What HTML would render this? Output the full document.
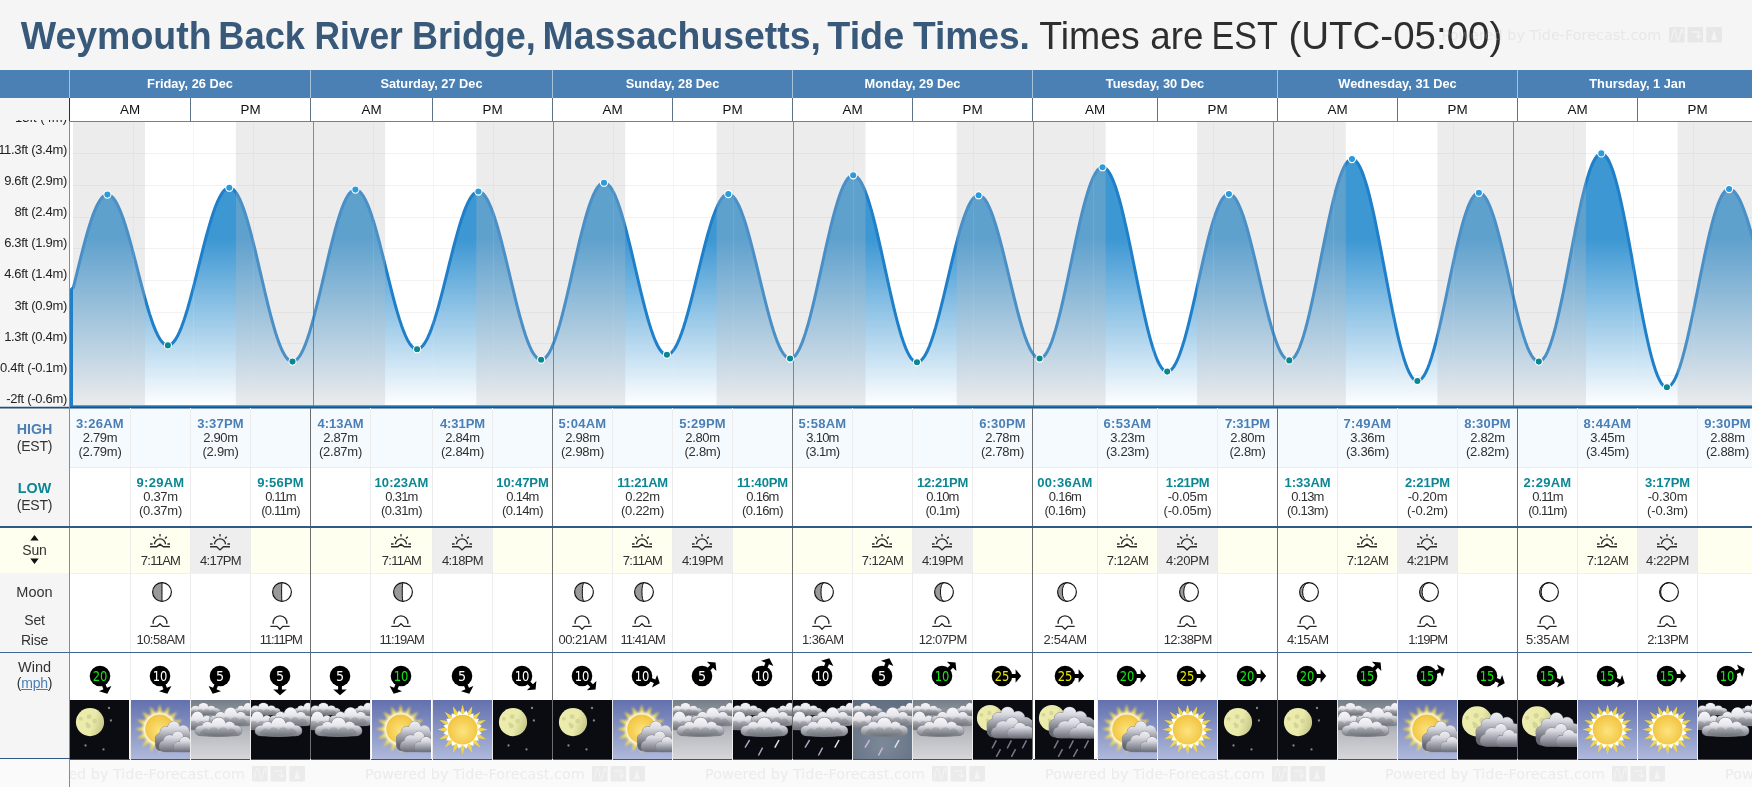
<!DOCTYPE html><html lang="en"><head><meta charset="utf-8"><title>Weymouth Back River Bridge Tide Times</title><style>
html,body{margin:0;padding:0;}
body{width:1752px;height:787px;overflow:hidden;background:#f5f5f5;font-family:"Liberation Sans",sans-serif;position:relative;color:#333;}
.abs{position:absolute;}
.t{position:absolute;white-space:nowrap;text-align:center;transform:translateX(-50%);}
.title{position:absolute;left:20px;top:13px;font-size:38.6px;line-height:44px;white-space:nowrap;color:#2f2f2f;}
.title b{color:#38597a;font-weight:700;}
.hd{position:absolute;top:70px;height:28px;left:0;width:1752px;background:#4a80b4;}
.dn{color:#fff;font-weight:700;font-size:12.8px;line-height:28px;top:70px;}
.ap{font-size:13.4px;line-height:23px;top:98px;color:#111;}
.vl{position:absolute;width:1px;}
.hl{position:absolute;height:1px;}
.hi{color:#4a7fb5;font-weight:700;font-size:13px;line-height:15px;}
.lo{color:#0b8793;font-weight:700;font-size:13px;line-height:15px;}
.v{color:#303030;font-size:13px;line-height:14px;}
.lab{color:#333;font-size:14px;line-height:17px;letter-spacing:-0.2px;}
.wm{position:absolute;font-family:"DejaVu Sans",sans-serif;font-size:14.4px;color:#e4e4e4;white-space:nowrap;line-height:20px;}
svg{position:absolute;overflow:visible;}
#root{position:absolute;left:0;top:0;width:1752px;height:787px;overflow:hidden;will-change:transform;}
</style></head><body><div id="root">
<svg style="left:0;top:0" width="1752" height="70" viewBox="0 0 1752 70" font-family="Liberation Sans, sans-serif"><text x="20.70" y="48.80" font-size="38.80" font-weight="700" fill="#38597a" textLength="190.96" lengthAdjust="spacingAndGlyphs">Weymouth</text><text x="218.34" y="48.80" font-size="38.80" font-weight="700" fill="#38597a" textLength="86.68" lengthAdjust="spacingAndGlyphs">Back</text><text x="314.40" y="48.80" font-size="38.80" font-weight="700" fill="#38597a" textLength="88.48" lengthAdjust="spacingAndGlyphs">River</text><text x="411.96" y="48.80" font-size="38.80" font-weight="700" fill="#38597a" textLength="123.85" lengthAdjust="spacingAndGlyphs">Bridge,</text><text x="542.57" y="48.80" font-size="38.80" font-weight="700" fill="#38597a" textLength="278.27" lengthAdjust="spacingAndGlyphs">Massachusetts,</text><text x="827.32" y="48.80" font-size="38.80" font-weight="700" fill="#38597a" textLength="76.80" lengthAdjust="spacingAndGlyphs">Tide</text><text x="912.93" y="48.80" font-size="38.80" font-weight="700" fill="#38597a" textLength="116.97" lengthAdjust="spacingAndGlyphs">Times.</text><text x="1039.25" y="48.80" font-size="38.80" font-weight="400" fill="#2e2e2e" textLength="100.36" lengthAdjust="spacingAndGlyphs">Times</text><text x="1150.23" y="48.80" font-size="38.80" font-weight="400" fill="#2e2e2e" textLength="53.14" lengthAdjust="spacingAndGlyphs">are</text><text x="1211.57" y="48.80" font-size="38.80" font-weight="400" fill="#2e2e2e" textLength="66.41" lengthAdjust="spacingAndGlyphs">EST</text><text x="1288.39" y="48.80" font-size="38.80" font-weight="400" fill="#2e2e2e" textLength="213.99" lengthAdjust="spacingAndGlyphs">(UTC-05:00)</text></svg>
<div class="wm" style="left:1441.5px;top:24.6px;color:rgba(195,195,195,0.26)">Powered by Tide-Forecast.com</div><svg class="abs" style="left:1668.5px;top:26.8px" width="54" height="16" viewBox="0 0 54 16"><g fill="rgba(195,195,195,0.26)"><rect x="0" y="0" width="15.6" height="15.4" rx="1"/><rect x="18.5" y="0" width="15.6" height="15.4" rx="1"/><rect x="37.3" y="0" width="15.6" height="15.4" rx="1"/></g><g fill="none" stroke="#f6f6f6" stroke-opacity="0.8" stroke-width="1.2"><path d="M1.5 13.5C3.5 13.5 3.3 2 5.3 2S7.2 13.5 9.2 13.5S11 2 13 2L14.3 6"/><path d="M22 5h7.5v6m-2.6-2.4l2.6 2.6l2.6-2.6"/></g><path d="M42.3 13L45.1 2.5L47.9 13Z" fill="#f6f6f6" fill-opacity="0.8"/></svg>
<div class="hd"></div>
<div class="vl" style="left:69px;top:70px;height:28px;background:#a8c2dc"></div>
<div class="vl" style="left:310px;top:70px;height:28px;background:#a8c2dc"></div>
<div class="vl" style="left:552px;top:70px;height:28px;background:#a8c2dc"></div>
<div class="vl" style="left:792px;top:70px;height:28px;background:#a8c2dc"></div>
<div class="vl" style="left:1032px;top:70px;height:28px;background:#a8c2dc"></div>
<div class="vl" style="left:1277px;top:70px;height:28px;background:#a8c2dc"></div>
<div class="vl" style="left:1517px;top:70px;height:28px;background:#a8c2dc"></div>
<div class="t dn" style="left:190.0px">Friday, 26 Dec</div>
<div class="t dn" style="left:431.5px">Saturday, 27 Dec</div>
<div class="t dn" style="left:672.5px">Sunday, 28 Dec</div>
<div class="t dn" style="left:912.5px">Monday, 29 Dec</div>
<div class="t dn" style="left:1155.0px">Tuesday, 30 Dec</div>
<div class="t dn" style="left:1397.5px">Wednesday, 31 Dec</div>
<div class="t dn" style="left:1637.5px">Thursday, 1 Jan</div>
<div class="abs" style="left:70px;top:98px;width:1682px;height:23px;background:#fff"></div>
<div class="t ap" style="left:130.0px">AM</div>
<div class="t ap" style="left:250.5px">PM</div>
<div class="vl" style="left:190px;top:98px;height:23px;background:#5f7388"></div>
<div class="vl" style="left:69px;top:98px;height:23px;background:#5f7388"></div>
<div class="t ap" style="left:371.5px">AM</div>
<div class="t ap" style="left:492.5px">PM</div>
<div class="vl" style="left:432px;top:98px;height:23px;background:#5f7388"></div>
<div class="vl" style="left:310px;top:98px;height:23px;background:#5f7388"></div>
<div class="t ap" style="left:612.5px">AM</div>
<div class="t ap" style="left:732.5px">PM</div>
<div class="vl" style="left:672px;top:98px;height:23px;background:#5f7388"></div>
<div class="vl" style="left:552px;top:98px;height:23px;background:#5f7388"></div>
<div class="t ap" style="left:852.5px">AM</div>
<div class="t ap" style="left:972.5px">PM</div>
<div class="vl" style="left:912px;top:98px;height:23px;background:#5f7388"></div>
<div class="vl" style="left:792px;top:98px;height:23px;background:#5f7388"></div>
<div class="t ap" style="left:1095.0px">AM</div>
<div class="t ap" style="left:1217.5px">PM</div>
<div class="vl" style="left:1157px;top:98px;height:23px;background:#5f7388"></div>
<div class="vl" style="left:1032px;top:98px;height:23px;background:#5f7388"></div>
<div class="t ap" style="left:1337.5px">AM</div>
<div class="t ap" style="left:1457.5px">PM</div>
<div class="vl" style="left:1397px;top:98px;height:23px;background:#5f7388"></div>
<div class="vl" style="left:1277px;top:98px;height:23px;background:#5f7388"></div>
<div class="t ap" style="left:1577.5px">AM</div>
<div class="t ap" style="left:1697.5px">PM</div>
<div class="vl" style="left:1637px;top:98px;height:23px;background:#5f7388"></div>
<div class="vl" style="left:1517px;top:98px;height:23px;background:#5f7388"></div>
<div class="hl" style="left:70px;top:121px;width:1682px;background:#7e7e7e"></div>
<svg class="abs" style="left:0;top:0" width="1752" height="420" viewBox="0 0 1752 420"><defs><linearGradient id="tg" gradientUnits="userSpaceOnUse" x1="0" y1="121.5" x2="0" y2="406"><stop offset="0" stop-color="#3c97d3"/><stop offset="0.41" stop-color="#3c97d3"/><stop offset="1" stop-color="#ffffff" stop-opacity="1"/></linearGradient><clipPath id="cc"><rect x="70" y="122" width="1682" height="287"/></clipPath></defs><rect x="70" y="122" width="1682" height="285" fill="#fff"/><g clip-path="url(#cc)"><path d="M73 153.5H1752" stroke="#f2f2f2" stroke-width="1"/><path d="M73 185.5H1752" stroke="#f2f2f2" stroke-width="1"/><path d="M73 217.5H1752" stroke="#f2f2f2" stroke-width="1"/><path d="M73 248.5H1752" stroke="#f2f2f2" stroke-width="1"/><path d="M73 280.5H1752" stroke="#f2f2f2" stroke-width="1"/><path d="M73 312.5H1752" stroke="#f2f2f2" stroke-width="1"/><path d="M73 343.5H1752" stroke="#f2f2f2" stroke-width="1"/><path d="M73 375.5H1752" stroke="#f2f2f2" stroke-width="1"/><path d="M133.5 122V405" stroke="#f3f3f3" stroke-width="1"/><path d="M193.5 122V405" stroke="#f3f3f3" stroke-width="1"/><path d="M253.5 122V405" stroke="#f3f3f3" stroke-width="1"/><path d="M373.5 122V405" stroke="#f3f3f3" stroke-width="1"/><path d="M433.5 122V405" stroke="#f3f3f3" stroke-width="1"/><path d="M493.5 122V405" stroke="#f3f3f3" stroke-width="1"/><path d="M613.5 122V405" stroke="#f3f3f3" stroke-width="1"/><path d="M673.5 122V405" stroke="#f3f3f3" stroke-width="1"/><path d="M733.5 122V405" stroke="#f3f3f3" stroke-width="1"/><path d="M853.5 122V405" stroke="#f3f3f3" stroke-width="1"/><path d="M913.5 122V405" stroke="#f3f3f3" stroke-width="1"/><path d="M973.5 122V405" stroke="#f3f3f3" stroke-width="1"/><path d="M1093.5 122V405" stroke="#f3f3f3" stroke-width="1"/><path d="M1153.5 122V405" stroke="#f3f3f3" stroke-width="1"/><path d="M1213.5 122V405" stroke="#f3f3f3" stroke-width="1"/><path d="M1333.5 122V405" stroke="#f3f3f3" stroke-width="1"/><path d="M1393.5 122V405" stroke="#f3f3f3" stroke-width="1"/><path d="M1453.5 122V405" stroke="#f3f3f3" stroke-width="1"/><path d="M1573.5 122V405" stroke="#f3f3f3" stroke-width="1"/><path d="M1633.5 122V405" stroke="#f3f3f3" stroke-width="1"/><path d="M1693.5 122V405" stroke="#f3f3f3" stroke-width="1"/><path d="M71.5 406.0 L71.5 289.2 73.5 287.2 75.5 278.9 77.5 270.7 79.5 262.5 81.5 254.5 83.5 246.7 85.5 239.2 87.5 232.0 89.5 225.4 91.5 219.2 93.5 213.6 95.5 208.7 97.5 204.4 99.5 200.9 101.5 198.1 103.5 196.1 105.5 194.9 107.5 194.6 109.5 195.0 111.5 196.3 113.5 198.4 115.5 201.2 117.5 204.8 119.5 209.1 121.5 214.0 123.5 219.5 125.5 225.6 127.5 232.2 129.5 239.1 131.5 246.4 133.5 254.0 135.5 261.7 137.5 269.5 139.5 277.3 141.5 285.1 143.5 292.6 145.5 300.0 147.5 307.0 149.5 313.6 151.5 319.7 153.5 325.4 155.5 330.4 157.5 334.7 159.5 338.4 161.5 341.3 163.5 343.5 165.5 344.9 167.5 345.4 169.5 345.2 171.5 344.1 173.5 342.2 175.5 339.5 177.5 336.1 179.5 331.9 181.5 327.1 183.5 321.6 185.5 315.5 187.5 309.0 189.5 301.9 191.5 294.5 193.5 286.9 195.5 279.0 197.5 270.9 199.5 262.9 201.5 254.8 203.5 246.9 205.5 239.2 207.5 231.8 209.5 224.8 211.5 218.2 213.5 212.0 215.5 206.5 217.5 201.6 219.5 197.4 221.5 193.9 223.5 191.1 225.5 189.2 227.5 188.0 229.5 187.7 231.5 188.3 233.5 189.6 235.5 191.9 237.5 194.9 239.5 198.7 241.5 203.3 243.5 208.6 245.5 214.5 247.5 221.1 249.5 228.1 251.5 235.6 253.5 243.5 255.5 251.7 257.5 260.2 259.5 268.8 261.5 277.4 263.5 286.0 265.5 294.5 267.5 302.8 269.5 310.8 271.5 318.5 273.5 325.7 275.5 332.5 277.5 338.6 279.5 344.2 281.5 349.0 283.5 353.1 285.5 356.5 287.5 359.0 289.5 360.7 291.5 361.5 293.5 361.5 295.5 360.7 297.5 358.9 299.5 356.4 301.5 353.0 303.5 348.9 305.5 344.1 307.5 338.5 309.5 332.4 311.5 325.6 313.5 318.4 315.5 310.7 317.5 302.7 319.5 294.4 321.5 286.0 323.5 277.4 325.5 268.8 327.5 260.3 329.5 251.9 331.5 243.8 333.5 236.0 335.5 228.6 337.5 221.6 339.5 215.2 341.5 209.4 343.5 204.2 345.5 199.8 347.5 196.1 349.5 193.2 351.5 191.2 353.5 190.0 355.5 189.6 357.5 190.1 359.5 191.4 361.5 193.5 363.5 196.4 365.5 200.0 367.5 204.4 369.5 209.4 371.5 215.1 373.5 221.3 375.5 228.0 377.5 235.2 379.5 242.7 381.5 250.5 383.5 258.4 385.5 266.5 387.5 274.6 389.5 282.7 391.5 290.6 393.5 298.3 395.5 305.8 397.5 312.8 399.5 319.4 401.5 325.4 403.5 330.9 405.5 335.8 407.5 339.9 409.5 343.3 411.5 346.0 413.5 347.9 415.5 348.9 417.5 349.2 419.5 348.6 421.5 347.1 423.5 344.9 425.5 341.9 427.5 338.2 429.5 333.7 431.5 328.6 433.5 322.9 435.5 316.6 437.5 309.8 439.5 302.6 441.5 295.1 443.5 287.3 445.5 279.4 447.5 271.3 449.5 263.2 451.5 255.3 453.5 247.4 455.5 239.8 457.5 232.6 459.5 225.7 461.5 219.3 463.5 213.4 465.5 208.1 467.5 203.5 469.5 199.6 471.5 196.4 473.5 194.0 475.5 192.4 477.5 191.6 479.5 191.6 481.5 192.5 483.5 194.2 485.5 196.7 487.5 200.0 489.5 204.1 491.5 208.9 493.5 214.3 495.5 220.4 497.5 227.0 499.5 234.2 501.5 241.7 503.5 249.6 505.5 257.7 507.5 266.0 509.5 274.4 511.5 282.8 513.5 291.2 515.5 299.4 517.5 307.3 519.5 315.0 521.5 322.2 523.5 329.0 525.5 335.2 527.5 340.9 529.5 345.9 531.5 350.2 533.5 353.7 535.5 356.4 537.5 358.4 539.5 359.5 541.5 359.8 543.5 359.2 545.5 357.7 547.5 355.3 549.5 352.2 551.5 348.2 553.5 343.4 555.5 337.9 557.5 331.8 559.5 325.1 561.5 317.8 563.5 310.0 565.5 301.9 567.5 293.5 569.5 284.8 571.5 276.0 573.5 267.2 575.5 258.4 577.5 249.7 579.5 241.2 581.5 233.1 583.5 225.3 585.5 218.0 587.5 211.2 589.5 205.0 591.5 199.5 593.5 194.7 595.5 190.6 597.5 187.4 599.5 185.0 601.5 183.4 603.5 182.8 605.5 183.0 607.5 184.0 609.5 186.0 611.5 188.7 613.5 192.2 615.5 196.5 617.5 201.5 619.5 207.2 621.5 213.5 623.5 220.4 625.5 227.7 627.5 235.5 629.5 243.6 631.5 251.9 633.5 260.4 635.5 269.0 637.5 277.6 639.5 286.1 641.5 294.4 643.5 302.4 645.5 310.2 647.5 317.5 649.5 324.3 651.5 330.6 653.5 336.3 655.5 341.2 657.5 345.5 659.5 349.0 661.5 351.7 663.5 353.6 665.5 354.6 667.5 354.7 669.5 354.1 671.5 352.6 673.5 350.2 675.5 347.1 677.5 343.2 679.5 338.6 681.5 333.3 683.5 327.4 685.5 321.0 687.5 314.0 689.5 306.7 691.5 299.0 693.5 291.0 695.5 282.9 697.5 274.7 699.5 266.5 701.5 258.3 703.5 250.3 705.5 242.6 707.5 235.2 709.5 228.3 711.5 221.8 713.5 215.8 715.5 210.5 717.5 205.8 719.5 201.9 721.5 198.7 723.5 196.3 725.5 194.8 727.5 194.0 729.5 194.1 731.5 195.1 733.5 196.9 735.5 199.5 737.5 202.9 739.5 207.0 741.5 211.9 743.5 217.4 745.5 223.5 747.5 230.2 749.5 237.4 751.5 244.9 753.5 252.8 755.5 260.9 757.5 269.2 759.5 277.5 761.5 285.8 763.5 294.1 765.5 302.1 767.5 309.9 769.5 317.4 771.5 324.4 773.5 330.9 775.5 336.8 777.5 342.2 779.5 346.8 781.5 350.7 783.5 353.9 785.5 356.3 787.5 357.8 789.5 358.5 791.5 358.3 793.5 357.2 795.5 355.3 797.5 352.4 799.5 348.7 801.5 344.2 803.5 338.9 805.5 332.9 807.5 326.3 809.5 319.1 811.5 311.3 813.5 303.1 815.5 294.6 817.5 285.7 819.5 276.7 821.5 267.6 823.5 258.5 825.5 249.4 827.5 240.6 829.5 232.0 831.5 223.7 833.5 215.9 835.5 208.6 837.5 201.8 839.5 195.7 841.5 190.3 843.5 185.7 845.5 181.9 847.5 178.9 849.5 176.8 851.5 175.6 853.5 175.3 855.5 175.9 857.5 177.4 859.5 179.7 861.5 183.0 863.5 187.1 865.5 191.9 867.5 197.5 869.5 203.8 871.5 210.7 873.5 218.2 875.5 226.2 877.5 234.6 879.5 243.3 881.5 252.2 883.5 261.4 885.5 270.6 887.5 279.7 889.5 288.8 891.5 297.7 893.5 306.3 895.5 314.5 897.5 322.3 899.5 329.5 901.5 336.2 903.5 342.3 905.5 347.6 907.5 352.1 909.5 355.9 911.5 358.8 913.5 360.8 915.5 362.0 917.5 362.2 919.5 361.6 921.5 360.1 923.5 357.8 925.5 354.6 927.5 350.7 929.5 346.0 931.5 340.5 933.5 334.5 935.5 327.9 937.5 320.7 939.5 313.2 941.5 305.2 943.5 297.0 945.5 288.6 947.5 280.1 949.5 271.6 951.5 263.1 953.5 254.8 955.5 246.8 957.5 239.1 959.5 231.8 961.5 225.0 963.5 218.8 965.5 213.2 967.5 208.2 969.5 204.0 971.5 200.6 973.5 198.0 975.5 196.2 977.5 195.3 979.5 195.3 981.5 196.1 983.5 197.8 985.5 200.3 987.5 203.6 989.5 207.7 991.5 212.6 993.5 218.1 995.5 224.2 997.5 230.9 999.5 238.1 1001.5 245.7 1003.5 253.6 1005.5 261.8 1007.5 270.1 1009.5 278.5 1011.5 286.9 1013.5 295.2 1015.5 303.2 1017.5 311.1 1019.5 318.5 1021.5 325.5 1023.5 332.0 1025.5 337.9 1027.5 343.1 1029.5 347.7 1031.5 351.5 1033.5 354.5 1035.5 356.7 1037.5 358.0 1039.5 358.5 1041.5 358.1 1043.5 356.7 1045.5 354.4 1047.5 351.2 1049.5 347.1 1051.5 342.2 1053.5 336.4 1055.5 330.0 1057.5 322.8 1059.5 315.1 1061.5 306.9 1063.5 298.2 1065.5 289.1 1067.5 279.8 1069.5 270.3 1071.5 260.8 1073.5 251.2 1075.5 241.8 1077.5 232.6 1079.5 223.7 1081.5 215.2 1083.5 207.1 1085.5 199.7 1087.5 192.8 1089.5 186.6 1091.5 181.3 1093.5 176.7 1095.5 173.0 1097.5 170.1 1099.5 168.2 1101.5 167.3 1103.5 167.3 1105.5 168.2 1107.5 170.1 1109.5 173.0 1111.5 176.8 1113.5 181.4 1115.5 186.8 1117.5 193.1 1119.5 200.0 1121.5 207.6 1123.5 215.8 1125.5 224.5 1127.5 233.6 1129.5 243.1 1131.5 252.8 1133.5 262.7 1135.5 272.6 1137.5 282.5 1139.5 292.2 1141.5 301.8 1143.5 311.0 1145.5 319.9 1147.5 328.3 1149.5 336.1 1151.5 343.3 1153.5 349.8 1155.5 355.5 1157.5 360.5 1159.5 364.5 1161.5 367.7 1163.5 370.0 1165.5 371.3 1167.5 371.6 1169.5 371.0 1171.5 369.5 1173.5 367.1 1175.5 363.8 1177.5 359.7 1179.5 354.8 1181.5 349.1 1183.5 342.8 1185.5 335.8 1187.5 328.3 1189.5 320.3 1191.5 311.9 1193.5 303.2 1195.5 294.4 1197.5 285.3 1199.5 276.3 1201.5 267.3 1203.5 258.5 1205.5 250.0 1207.5 241.7 1209.5 233.9 1211.5 226.7 1213.5 219.9 1215.5 213.9 1217.5 208.5 1219.5 204.0 1221.5 200.2 1223.5 197.3 1225.5 195.3 1227.5 194.2 1229.5 194.0 1231.5 194.7 1233.5 196.3 1235.5 198.8 1237.5 202.1 1239.5 206.3 1241.5 211.2 1243.5 216.8 1245.5 223.1 1247.5 229.9 1249.5 237.3 1251.5 245.1 1253.5 253.3 1255.5 261.7 1257.5 270.2 1259.5 278.9 1261.5 287.5 1263.5 296.0 1265.5 304.4 1267.5 312.4 1269.5 320.0 1271.5 327.2 1273.5 333.8 1275.5 339.9 1277.5 345.2 1279.5 349.8 1281.5 353.7 1283.5 356.6 1285.5 358.8 1287.5 360.0 1289.5 360.4 1291.5 359.8 1293.5 358.2 1295.5 355.6 1297.5 352.0 1299.5 347.5 1301.5 342.1 1303.5 335.9 1305.5 329.0 1307.5 321.3 1309.5 313.1 1311.5 304.2 1313.5 295.0 1315.5 285.4 1317.5 275.5 1319.5 265.5 1321.5 255.4 1323.5 245.4 1325.5 235.5 1327.5 225.8 1329.5 216.5 1331.5 207.6 1333.5 199.3 1335.5 191.5 1337.5 184.5 1339.5 178.1 1341.5 172.7 1343.5 168.0 1345.5 164.3 1347.5 161.6 1349.5 159.8 1351.5 159.1 1353.5 159.3 1355.5 160.6 1357.5 162.9 1359.5 166.2 1361.5 170.4 1363.5 175.6 1365.5 181.6 1367.5 188.4 1369.5 196.0 1371.5 204.3 1373.5 213.2 1375.5 222.6 1377.5 232.5 1379.5 242.6 1381.5 253.1 1383.5 263.7 1385.5 274.4 1387.5 285.0 1389.5 295.5 1391.5 305.7 1393.5 315.6 1395.5 325.1 1397.5 334.1 1399.5 342.5 1401.5 350.2 1403.5 357.2 1405.5 363.4 1407.5 368.7 1409.5 373.1 1411.5 376.6 1413.5 379.1 1415.5 380.5 1417.5 381.0 1419.5 380.4 1421.5 378.9 1423.5 376.4 1425.5 373.0 1427.5 368.7 1429.5 363.5 1431.5 357.5 1433.5 350.8 1435.5 343.5 1437.5 335.5 1439.5 327.0 1441.5 318.2 1443.5 308.9 1445.5 299.5 1447.5 289.9 1449.5 280.3 1451.5 270.8 1453.5 261.4 1455.5 252.3 1457.5 243.6 1459.5 235.3 1461.5 227.5 1463.5 220.4 1465.5 213.9 1467.5 208.2 1469.5 203.4 1471.5 199.4 1473.5 196.3 1475.5 194.1 1477.5 193.0 1479.5 192.8 1481.5 193.5 1483.5 195.1 1485.5 197.7 1487.5 201.1 1489.5 205.4 1491.5 210.5 1493.5 216.3 1495.5 222.7 1497.5 229.8 1499.5 237.4 1501.5 245.4 1503.5 253.8 1505.5 262.4 1507.5 271.2 1509.5 280.1 1511.5 288.9 1513.5 297.6 1515.5 306.1 1517.5 314.2 1519.5 322.0 1521.5 329.2 1523.5 335.9 1525.5 341.9 1527.5 347.3 1529.5 351.8 1531.5 355.5 1533.5 358.4 1535.5 360.4 1537.5 361.5 1539.5 361.6 1541.5 360.7 1543.5 358.7 1545.5 355.8 1547.5 351.8 1549.5 346.9 1551.5 341.1 1553.5 334.5 1555.5 327.1 1557.5 318.9 1559.5 310.2 1561.5 300.9 1563.5 291.2 1565.5 281.2 1567.5 270.9 1569.5 260.4 1571.5 250.0 1573.5 239.6 1575.5 229.4 1577.5 219.5 1579.5 210.0 1581.5 200.9 1583.5 192.5 1585.5 184.6 1587.5 177.6 1589.5 171.3 1591.5 165.9 1593.5 161.4 1595.5 157.9 1597.5 155.4 1599.5 153.9 1601.5 153.4 1603.5 154.1 1605.5 155.8 1607.5 158.5 1609.5 162.3 1611.5 167.1 1613.5 172.8 1615.5 179.4 1617.5 186.8 1619.5 195.1 1621.5 204.0 1623.5 213.5 1625.5 223.5 1627.5 234.0 1629.5 244.8 1631.5 255.8 1633.5 267.0 1635.5 278.2 1637.5 289.3 1639.5 300.3 1641.5 310.9 1643.5 321.2 1645.5 331.1 1647.5 340.3 1649.5 349.0 1651.5 356.9 1653.5 364.0 1655.5 370.3 1657.5 375.6 1659.5 380.0 1661.5 383.4 1663.5 385.7 1665.5 386.9 1667.5 387.2 1669.5 386.3 1671.5 384.5 1673.5 381.7 1675.5 377.9 1677.5 373.3 1679.5 367.7 1681.5 361.4 1683.5 354.2 1685.5 346.5 1687.5 338.1 1689.5 329.2 1691.5 319.9 1693.5 310.3 1695.5 300.4 1697.5 290.5 1699.5 280.4 1701.5 270.5 1703.5 260.8 1705.5 251.3 1707.5 242.2 1709.5 233.6 1711.5 225.5 1713.5 218.1 1715.5 211.4 1717.5 205.4 1719.5 200.3 1721.5 196.1 1723.5 192.9 1725.5 190.6 1727.5 189.3 1729.5 189.0 1731.5 189.6 1733.5 190.9 1735.5 193.0 1737.5 195.9 1739.5 199.5 1741.5 203.7 1743.5 208.7 1745.5 214.2 1747.5 220.3 1749.5 226.9 1751.5 234.0 1753.5 241.4 1755.5 249.1 L1755.5 406.0 Z" fill="url(#tg)"/><path d="M71.5 406.0 L71.5 289.2 73.5 287.2 75.5 278.9 77.5 270.7 79.5 262.5 81.5 254.5 83.5 246.7 85.5 239.2 87.5 232.0 89.5 225.4 91.5 219.2 93.5 213.6 95.5 208.7 97.5 204.4 99.5 200.9 101.5 198.1 103.5 196.1 105.5 194.9 107.5 194.6 109.5 195.0 111.5 196.3 113.5 198.4 115.5 201.2 117.5 204.8 119.5 209.1 121.5 214.0 123.5 219.5 125.5 225.6 127.5 232.2 129.5 239.1 131.5 246.4 133.5 254.0 135.5 261.7 137.5 269.5 139.5 277.3 141.5 285.1 143.5 292.6 145.5 300.0 147.5 307.0 149.5 313.6 151.5 319.7 153.5 325.4 155.5 330.4 157.5 334.7 159.5 338.4 161.5 341.3 163.5 343.5 165.5 344.9 167.5 345.4 169.5 345.2 171.5 344.1 173.5 342.2 175.5 339.5 177.5 336.1 179.5 331.9 181.5 327.1 183.5 321.6 185.5 315.5 187.5 309.0 189.5 301.9 191.5 294.5 193.5 286.9 195.5 279.0 197.5 270.9 199.5 262.9 201.5 254.8 203.5 246.9 205.5 239.2 207.5 231.8 209.5 224.8 211.5 218.2 213.5 212.0 215.5 206.5 217.5 201.6 219.5 197.4 221.5 193.9 223.5 191.1 225.5 189.2 227.5 188.0 229.5 187.7 231.5 188.3 233.5 189.6 235.5 191.9 237.5 194.9 239.5 198.7 241.5 203.3 243.5 208.6 245.5 214.5 247.5 221.1 249.5 228.1 251.5 235.6 253.5 243.5 255.5 251.7 257.5 260.2 259.5 268.8 261.5 277.4 263.5 286.0 265.5 294.5 267.5 302.8 269.5 310.8 271.5 318.5 273.5 325.7 275.5 332.5 277.5 338.6 279.5 344.2 281.5 349.0 283.5 353.1 285.5 356.5 287.5 359.0 289.5 360.7 291.5 361.5 293.5 361.5 295.5 360.7 297.5 358.9 299.5 356.4 301.5 353.0 303.5 348.9 305.5 344.1 307.5 338.5 309.5 332.4 311.5 325.6 313.5 318.4 315.5 310.7 317.5 302.7 319.5 294.4 321.5 286.0 323.5 277.4 325.5 268.8 327.5 260.3 329.5 251.9 331.5 243.8 333.5 236.0 335.5 228.6 337.5 221.6 339.5 215.2 341.5 209.4 343.5 204.2 345.5 199.8 347.5 196.1 349.5 193.2 351.5 191.2 353.5 190.0 355.5 189.6 357.5 190.1 359.5 191.4 361.5 193.5 363.5 196.4 365.5 200.0 367.5 204.4 369.5 209.4 371.5 215.1 373.5 221.3 375.5 228.0 377.5 235.2 379.5 242.7 381.5 250.5 383.5 258.4 385.5 266.5 387.5 274.6 389.5 282.7 391.5 290.6 393.5 298.3 395.5 305.8 397.5 312.8 399.5 319.4 401.5 325.4 403.5 330.9 405.5 335.8 407.5 339.9 409.5 343.3 411.5 346.0 413.5 347.9 415.5 348.9 417.5 349.2 419.5 348.6 421.5 347.1 423.5 344.9 425.5 341.9 427.5 338.2 429.5 333.7 431.5 328.6 433.5 322.9 435.5 316.6 437.5 309.8 439.5 302.6 441.5 295.1 443.5 287.3 445.5 279.4 447.5 271.3 449.5 263.2 451.5 255.3 453.5 247.4 455.5 239.8 457.5 232.6 459.5 225.7 461.5 219.3 463.5 213.4 465.5 208.1 467.5 203.5 469.5 199.6 471.5 196.4 473.5 194.0 475.5 192.4 477.5 191.6 479.5 191.6 481.5 192.5 483.5 194.2 485.5 196.7 487.5 200.0 489.5 204.1 491.5 208.9 493.5 214.3 495.5 220.4 497.5 227.0 499.5 234.2 501.5 241.7 503.5 249.6 505.5 257.7 507.5 266.0 509.5 274.4 511.5 282.8 513.5 291.2 515.5 299.4 517.5 307.3 519.5 315.0 521.5 322.2 523.5 329.0 525.5 335.2 527.5 340.9 529.5 345.9 531.5 350.2 533.5 353.7 535.5 356.4 537.5 358.4 539.5 359.5 541.5 359.8 543.5 359.2 545.5 357.7 547.5 355.3 549.5 352.2 551.5 348.2 553.5 343.4 555.5 337.9 557.5 331.8 559.5 325.1 561.5 317.8 563.5 310.0 565.5 301.9 567.5 293.5 569.5 284.8 571.5 276.0 573.5 267.2 575.5 258.4 577.5 249.7 579.5 241.2 581.5 233.1 583.5 225.3 585.5 218.0 587.5 211.2 589.5 205.0 591.5 199.5 593.5 194.7 595.5 190.6 597.5 187.4 599.5 185.0 601.5 183.4 603.5 182.8 605.5 183.0 607.5 184.0 609.5 186.0 611.5 188.7 613.5 192.2 615.5 196.5 617.5 201.5 619.5 207.2 621.5 213.5 623.5 220.4 625.5 227.7 627.5 235.5 629.5 243.6 631.5 251.9 633.5 260.4 635.5 269.0 637.5 277.6 639.5 286.1 641.5 294.4 643.5 302.4 645.5 310.2 647.5 317.5 649.5 324.3 651.5 330.6 653.5 336.3 655.5 341.2 657.5 345.5 659.5 349.0 661.5 351.7 663.5 353.6 665.5 354.6 667.5 354.7 669.5 354.1 671.5 352.6 673.5 350.2 675.5 347.1 677.5 343.2 679.5 338.6 681.5 333.3 683.5 327.4 685.5 321.0 687.5 314.0 689.5 306.7 691.5 299.0 693.5 291.0 695.5 282.9 697.5 274.7 699.5 266.5 701.5 258.3 703.5 250.3 705.5 242.6 707.5 235.2 709.5 228.3 711.5 221.8 713.5 215.8 715.5 210.5 717.5 205.8 719.5 201.9 721.5 198.7 723.5 196.3 725.5 194.8 727.5 194.0 729.5 194.1 731.5 195.1 733.5 196.9 735.5 199.5 737.5 202.9 739.5 207.0 741.5 211.9 743.5 217.4 745.5 223.5 747.5 230.2 749.5 237.4 751.5 244.9 753.5 252.8 755.5 260.9 757.5 269.2 759.5 277.5 761.5 285.8 763.5 294.1 765.5 302.1 767.5 309.9 769.5 317.4 771.5 324.4 773.5 330.9 775.5 336.8 777.5 342.2 779.5 346.8 781.5 350.7 783.5 353.9 785.5 356.3 787.5 357.8 789.5 358.5 791.5 358.3 793.5 357.2 795.5 355.3 797.5 352.4 799.5 348.7 801.5 344.2 803.5 338.9 805.5 332.9 807.5 326.3 809.5 319.1 811.5 311.3 813.5 303.1 815.5 294.6 817.5 285.7 819.5 276.7 821.5 267.6 823.5 258.5 825.5 249.4 827.5 240.6 829.5 232.0 831.5 223.7 833.5 215.9 835.5 208.6 837.5 201.8 839.5 195.7 841.5 190.3 843.5 185.7 845.5 181.9 847.5 178.9 849.5 176.8 851.5 175.6 853.5 175.3 855.5 175.9 857.5 177.4 859.5 179.7 861.5 183.0 863.5 187.1 865.5 191.9 867.5 197.5 869.5 203.8 871.5 210.7 873.5 218.2 875.5 226.2 877.5 234.6 879.5 243.3 881.5 252.2 883.5 261.4 885.5 270.6 887.5 279.7 889.5 288.8 891.5 297.7 893.5 306.3 895.5 314.5 897.5 322.3 899.5 329.5 901.5 336.2 903.5 342.3 905.5 347.6 907.5 352.1 909.5 355.9 911.5 358.8 913.5 360.8 915.5 362.0 917.5 362.2 919.5 361.6 921.5 360.1 923.5 357.8 925.5 354.6 927.5 350.7 929.5 346.0 931.5 340.5 933.5 334.5 935.5 327.9 937.5 320.7 939.5 313.2 941.5 305.2 943.5 297.0 945.5 288.6 947.5 280.1 949.5 271.6 951.5 263.1 953.5 254.8 955.5 246.8 957.5 239.1 959.5 231.8 961.5 225.0 963.5 218.8 965.5 213.2 967.5 208.2 969.5 204.0 971.5 200.6 973.5 198.0 975.5 196.2 977.5 195.3 979.5 195.3 981.5 196.1 983.5 197.8 985.5 200.3 987.5 203.6 989.5 207.7 991.5 212.6 993.5 218.1 995.5 224.2 997.5 230.9 999.5 238.1 1001.5 245.7 1003.5 253.6 1005.5 261.8 1007.5 270.1 1009.5 278.5 1011.5 286.9 1013.5 295.2 1015.5 303.2 1017.5 311.1 1019.5 318.5 1021.5 325.5 1023.5 332.0 1025.5 337.9 1027.5 343.1 1029.5 347.7 1031.5 351.5 1033.5 354.5 1035.5 356.7 1037.5 358.0 1039.5 358.5 1041.5 358.1 1043.5 356.7 1045.5 354.4 1047.5 351.2 1049.5 347.1 1051.5 342.2 1053.5 336.4 1055.5 330.0 1057.5 322.8 1059.5 315.1 1061.5 306.9 1063.5 298.2 1065.5 289.1 1067.5 279.8 1069.5 270.3 1071.5 260.8 1073.5 251.2 1075.5 241.8 1077.5 232.6 1079.5 223.7 1081.5 215.2 1083.5 207.1 1085.5 199.7 1087.5 192.8 1089.5 186.6 1091.5 181.3 1093.5 176.7 1095.5 173.0 1097.5 170.1 1099.5 168.2 1101.5 167.3 1103.5 167.3 1105.5 168.2 1107.5 170.1 1109.5 173.0 1111.5 176.8 1113.5 181.4 1115.5 186.8 1117.5 193.1 1119.5 200.0 1121.5 207.6 1123.5 215.8 1125.5 224.5 1127.5 233.6 1129.5 243.1 1131.5 252.8 1133.5 262.7 1135.5 272.6 1137.5 282.5 1139.5 292.2 1141.5 301.8 1143.5 311.0 1145.5 319.9 1147.5 328.3 1149.5 336.1 1151.5 343.3 1153.5 349.8 1155.5 355.5 1157.5 360.5 1159.5 364.5 1161.5 367.7 1163.5 370.0 1165.5 371.3 1167.5 371.6 1169.5 371.0 1171.5 369.5 1173.5 367.1 1175.5 363.8 1177.5 359.7 1179.5 354.8 1181.5 349.1 1183.5 342.8 1185.5 335.8 1187.5 328.3 1189.5 320.3 1191.5 311.9 1193.5 303.2 1195.5 294.4 1197.5 285.3 1199.5 276.3 1201.5 267.3 1203.5 258.5 1205.5 250.0 1207.5 241.7 1209.5 233.9 1211.5 226.7 1213.5 219.9 1215.5 213.9 1217.5 208.5 1219.5 204.0 1221.5 200.2 1223.5 197.3 1225.5 195.3 1227.5 194.2 1229.5 194.0 1231.5 194.7 1233.5 196.3 1235.5 198.8 1237.5 202.1 1239.5 206.3 1241.5 211.2 1243.5 216.8 1245.5 223.1 1247.5 229.9 1249.5 237.3 1251.5 245.1 1253.5 253.3 1255.5 261.7 1257.5 270.2 1259.5 278.9 1261.5 287.5 1263.5 296.0 1265.5 304.4 1267.5 312.4 1269.5 320.0 1271.5 327.2 1273.5 333.8 1275.5 339.9 1277.5 345.2 1279.5 349.8 1281.5 353.7 1283.5 356.6 1285.5 358.8 1287.5 360.0 1289.5 360.4 1291.5 359.8 1293.5 358.2 1295.5 355.6 1297.5 352.0 1299.5 347.5 1301.5 342.1 1303.5 335.9 1305.5 329.0 1307.5 321.3 1309.5 313.1 1311.5 304.2 1313.5 295.0 1315.5 285.4 1317.5 275.5 1319.5 265.5 1321.5 255.4 1323.5 245.4 1325.5 235.5 1327.5 225.8 1329.5 216.5 1331.5 207.6 1333.5 199.3 1335.5 191.5 1337.5 184.5 1339.5 178.1 1341.5 172.7 1343.5 168.0 1345.5 164.3 1347.5 161.6 1349.5 159.8 1351.5 159.1 1353.5 159.3 1355.5 160.6 1357.5 162.9 1359.5 166.2 1361.5 170.4 1363.5 175.6 1365.5 181.6 1367.5 188.4 1369.5 196.0 1371.5 204.3 1373.5 213.2 1375.5 222.6 1377.5 232.5 1379.5 242.6 1381.5 253.1 1383.5 263.7 1385.5 274.4 1387.5 285.0 1389.5 295.5 1391.5 305.7 1393.5 315.6 1395.5 325.1 1397.5 334.1 1399.5 342.5 1401.5 350.2 1403.5 357.2 1405.5 363.4 1407.5 368.7 1409.5 373.1 1411.5 376.6 1413.5 379.1 1415.5 380.5 1417.5 381.0 1419.5 380.4 1421.5 378.9 1423.5 376.4 1425.5 373.0 1427.5 368.7 1429.5 363.5 1431.5 357.5 1433.5 350.8 1435.5 343.5 1437.5 335.5 1439.5 327.0 1441.5 318.2 1443.5 308.9 1445.5 299.5 1447.5 289.9 1449.5 280.3 1451.5 270.8 1453.5 261.4 1455.5 252.3 1457.5 243.6 1459.5 235.3 1461.5 227.5 1463.5 220.4 1465.5 213.9 1467.5 208.2 1469.5 203.4 1471.5 199.4 1473.5 196.3 1475.5 194.1 1477.5 193.0 1479.5 192.8 1481.5 193.5 1483.5 195.1 1485.5 197.7 1487.5 201.1 1489.5 205.4 1491.5 210.5 1493.5 216.3 1495.5 222.7 1497.5 229.8 1499.5 237.4 1501.5 245.4 1503.5 253.8 1505.5 262.4 1507.5 271.2 1509.5 280.1 1511.5 288.9 1513.5 297.6 1515.5 306.1 1517.5 314.2 1519.5 322.0 1521.5 329.2 1523.5 335.9 1525.5 341.9 1527.5 347.3 1529.5 351.8 1531.5 355.5 1533.5 358.4 1535.5 360.4 1537.5 361.5 1539.5 361.6 1541.5 360.7 1543.5 358.7 1545.5 355.8 1547.5 351.8 1549.5 346.9 1551.5 341.1 1553.5 334.5 1555.5 327.1 1557.5 318.9 1559.5 310.2 1561.5 300.9 1563.5 291.2 1565.5 281.2 1567.5 270.9 1569.5 260.4 1571.5 250.0 1573.5 239.6 1575.5 229.4 1577.5 219.5 1579.5 210.0 1581.5 200.9 1583.5 192.5 1585.5 184.6 1587.5 177.6 1589.5 171.3 1591.5 165.9 1593.5 161.4 1595.5 157.9 1597.5 155.4 1599.5 153.9 1601.5 153.4 1603.5 154.1 1605.5 155.8 1607.5 158.5 1609.5 162.3 1611.5 167.1 1613.5 172.8 1615.5 179.4 1617.5 186.8 1619.5 195.1 1621.5 204.0 1623.5 213.5 1625.5 223.5 1627.5 234.0 1629.5 244.8 1631.5 255.8 1633.5 267.0 1635.5 278.2 1637.5 289.3 1639.5 300.3 1641.5 310.9 1643.5 321.2 1645.5 331.1 1647.5 340.3 1649.5 349.0 1651.5 356.9 1653.5 364.0 1655.5 370.3 1657.5 375.6 1659.5 380.0 1661.5 383.4 1663.5 385.7 1665.5 386.9 1667.5 387.2 1669.5 386.3 1671.5 384.5 1673.5 381.7 1675.5 377.9 1677.5 373.3 1679.5 367.7 1681.5 361.4 1683.5 354.2 1685.5 346.5 1687.5 338.1 1689.5 329.2 1691.5 319.9 1693.5 310.3 1695.5 300.4 1697.5 290.5 1699.5 280.4 1701.5 270.5 1703.5 260.8 1705.5 251.3 1707.5 242.2 1709.5 233.6 1711.5 225.5 1713.5 218.1 1715.5 211.4 1717.5 205.4 1719.5 200.3 1721.5 196.1 1723.5 192.9 1725.5 190.6 1727.5 189.3 1729.5 189.0 1731.5 189.6 1733.5 190.9 1735.5 193.0 1737.5 195.9 1739.5 199.5 1741.5 203.7 1743.5 208.7 1745.5 214.2 1747.5 220.3 1749.5 226.9 1751.5 234.0 1753.5 241.4 1755.5 249.1" fill="none" stroke="#1f7fc9" stroke-width="3" stroke-linejoin="round"/><path d="M133.5 122V405" stroke="#fff" stroke-opacity="0.1" stroke-width="1"/><path d="M193.5 122V405" stroke="#fff" stroke-opacity="0.1" stroke-width="1"/><path d="M253.5 122V405" stroke="#fff" stroke-opacity="0.1" stroke-width="1"/><path d="M373.5 122V405" stroke="#fff" stroke-opacity="0.1" stroke-width="1"/><path d="M433.5 122V405" stroke="#fff" stroke-opacity="0.1" stroke-width="1"/><path d="M493.5 122V405" stroke="#fff" stroke-opacity="0.1" stroke-width="1"/><path d="M613.5 122V405" stroke="#fff" stroke-opacity="0.1" stroke-width="1"/><path d="M673.5 122V405" stroke="#fff" stroke-opacity="0.1" stroke-width="1"/><path d="M733.5 122V405" stroke="#fff" stroke-opacity="0.1" stroke-width="1"/><path d="M853.5 122V405" stroke="#fff" stroke-opacity="0.1" stroke-width="1"/><path d="M913.5 122V405" stroke="#fff" stroke-opacity="0.1" stroke-width="1"/><path d="M973.5 122V405" stroke="#fff" stroke-opacity="0.1" stroke-width="1"/><path d="M1093.5 122V405" stroke="#fff" stroke-opacity="0.1" stroke-width="1"/><path d="M1153.5 122V405" stroke="#fff" stroke-opacity="0.1" stroke-width="1"/><path d="M1213.5 122V405" stroke="#fff" stroke-opacity="0.1" stroke-width="1"/><path d="M1333.5 122V405" stroke="#fff" stroke-opacity="0.1" stroke-width="1"/><path d="M1393.5 122V405" stroke="#fff" stroke-opacity="0.1" stroke-width="1"/><path d="M1453.5 122V405" stroke="#fff" stroke-opacity="0.1" stroke-width="1"/><path d="M1573.5 122V405" stroke="#fff" stroke-opacity="0.1" stroke-width="1"/><path d="M1633.5 122V405" stroke="#fff" stroke-opacity="0.1" stroke-width="1"/><path d="M1693.5 122V405" stroke="#fff" stroke-opacity="0.1" stroke-width="1"/><rect x="73.0" y="122" width="71.9" height="283" fill="#b9b9be" fill-opacity="0.28"/><rect x="235.9" y="122" width="77.2" height="283" fill="#b9b9be" fill-opacity="0.28"/><rect x="313.2" y="122" width="71.9" height="283" fill="#b9b9be" fill-opacity="0.28"/><rect x="476.3" y="122" width="77.1" height="283" fill="#b9b9be" fill-opacity="0.28"/><rect x="553.3" y="122" width="71.9" height="283" fill="#b9b9be" fill-opacity="0.28"/><rect x="716.6" y="122" width="76.9" height="283" fill="#b9b9be" fill-opacity="0.28"/><rect x="793.5" y="122" width="72.0" height="283" fill="#b9b9be" fill-opacity="0.28"/><rect x="956.7" y="122" width="76.9" height="283" fill="#b9b9be" fill-opacity="0.28"/><rect x="1033.6" y="122" width="72.0" height="283" fill="#b9b9be" fill-opacity="0.28"/><rect x="1197.1" y="122" width="76.7" height="283" fill="#b9b9be" fill-opacity="0.28"/><rect x="1273.8" y="122" width="72.0" height="283" fill="#b9b9be" fill-opacity="0.28"/><rect x="1437.4" y="122" width="76.5" height="283" fill="#b9b9be" fill-opacity="0.28"/><rect x="1513.9" y="122" width="72.0" height="283" fill="#b9b9be" fill-opacity="0.28"/><rect x="1677.7" y="122" width="76.4" height="283" fill="#b9b9be" fill-opacity="0.28"/><path d="M313.5 122V406" stroke="#4f6880" stroke-opacity="0.72" stroke-width="1"/><path d="M553.5 122V406" stroke="#4f6880" stroke-opacity="0.72" stroke-width="1"/><path d="M793.5 122V406" stroke="#4f6880" stroke-opacity="0.72" stroke-width="1"/><path d="M1033.5 122V406" stroke="#4f6880" stroke-opacity="0.72" stroke-width="1"/><path d="M1273.5 122V406" stroke="#4f6880" stroke-opacity="0.72" stroke-width="1"/><path d="M1513.5 122V406" stroke="#4f6880" stroke-opacity="0.72" stroke-width="1"/><path d="M70 406.3H1752" stroke="#1f7fc9" stroke-width="1.9"/><circle cx="107.4" cy="194.6" r="3.6" fill="#2b9bdb" stroke="#fff" stroke-width="1.1"/><circle cx="167.9" cy="345.4" r="3.6" fill="#0a8791" stroke="#fff" stroke-width="1.1"/><circle cx="229.3" cy="187.7" r="3.6" fill="#2b9bdb" stroke="#fff" stroke-width="1.1"/><circle cx="292.5" cy="361.6" r="3.6" fill="#0a8791" stroke="#fff" stroke-width="1.1"/><circle cx="355.4" cy="189.6" r="3.6" fill="#2b9bdb" stroke="#fff" stroke-width="1.1"/><circle cx="417.1" cy="349.2" r="3.6" fill="#0a8791" stroke="#fff" stroke-width="1.1"/><circle cx="478.4" cy="191.5" r="3.6" fill="#2b9bdb" stroke="#fff" stroke-width="1.1"/><circle cx="541.1" cy="359.8" r="3.6" fill="#0a8791" stroke="#fff" stroke-width="1.1"/><circle cx="604.0" cy="182.7" r="3.6" fill="#2b9bdb" stroke="#fff" stroke-width="1.1"/><circle cx="666.9" cy="354.8" r="3.6" fill="#0a8791" stroke="#fff" stroke-width="1.1"/><circle cx="728.3" cy="194.0" r="3.6" fill="#2b9bdb" stroke="#fff" stroke-width="1.1"/><circle cx="790.1" cy="358.5" r="3.6" fill="#0a8791" stroke="#fff" stroke-width="1.1"/><circle cx="853.2" cy="175.3" r="3.6" fill="#2b9bdb" stroke="#fff" stroke-width="1.1"/><circle cx="917.0" cy="362.3" r="3.6" fill="#0a8791" stroke="#fff" stroke-width="1.1"/><circle cx="978.6" cy="195.2" r="3.6" fill="#2b9bdb" stroke="#fff" stroke-width="1.1"/><circle cx="1039.6" cy="358.5" r="3.6" fill="#0a8791" stroke="#fff" stroke-width="1.1"/><circle cx="1102.5" cy="167.2" r="3.6" fill="#2b9bdb" stroke="#fff" stroke-width="1.1"/><circle cx="1167.2" cy="371.6" r="3.6" fill="#0a8791" stroke="#fff" stroke-width="1.1"/><circle cx="1228.9" cy="194.0" r="3.6" fill="#2b9bdb" stroke="#fff" stroke-width="1.1"/><circle cx="1289.3" cy="360.4" r="3.6" fill="#0a8791" stroke="#fff" stroke-width="1.1"/><circle cx="1352.0" cy="159.1" r="3.6" fill="#2b9bdb" stroke="#fff" stroke-width="1.1"/><circle cx="1417.4" cy="381.0" r="3.6" fill="#0a8791" stroke="#fff" stroke-width="1.1"/><circle cx="1478.9" cy="192.7" r="3.6" fill="#2b9bdb" stroke="#fff" stroke-width="1.1"/><circle cx="1538.8" cy="361.6" r="3.6" fill="#0a8791" stroke="#fff" stroke-width="1.1"/><circle cx="1601.3" cy="153.4" r="3.6" fill="#2b9bdb" stroke="#fff" stroke-width="1.1"/><circle cx="1666.9" cy="387.2" r="3.6" fill="#0a8791" stroke="#fff" stroke-width="1.1"/><circle cx="1729.1" cy="189.0" r="3.6" fill="#2b9bdb" stroke="#fff" stroke-width="1.1"/></g><path d="M0 407.7H1752" stroke="#234f7d" stroke-width="1.8"/></svg>
<div class="abs" style="left:0;top:120px;width:69px;height:286px;overflow:hidden">
<div class="abs" style="right:2px;top:-9.8px;font-size:13px;line-height:16px;white-space:nowrap;color:#222">13ft (4m)</div>
<div class="abs" style="right:2px;top:21.5px;font-size:13px;line-height:16px;white-space:nowrap;color:#222;letter-spacing:-0.3px">11.3ft (3.4m)</div>
<div class="abs" style="right:2px;top:52.7px;font-size:13px;line-height:16px;white-space:nowrap;color:#222;letter-spacing:-0.3px">9.6ft (2.9m)</div>
<div class="abs" style="right:2px;top:83.9px;font-size:13px;line-height:16px;white-space:nowrap;color:#222;letter-spacing:-0.3px">8ft (2.4m)</div>
<div class="abs" style="right:2px;top:115.1px;font-size:13px;line-height:16px;white-space:nowrap;color:#222;letter-spacing:-0.3px">6.3ft (1.9m)</div>
<div class="abs" style="right:2px;top:146.3px;font-size:13px;line-height:16px;white-space:nowrap;color:#222;letter-spacing:-0.3px">4.6ft (1.4m)</div>
<div class="abs" style="right:2px;top:177.5px;font-size:13px;line-height:16px;white-space:nowrap;color:#222;letter-spacing:-0.3px">3ft (0.9m)</div>
<div class="abs" style="right:2px;top:208.7px;font-size:13px;line-height:16px;white-space:nowrap;color:#222;letter-spacing:-0.3px">1.3ft (0.4m)</div>
<div class="abs" style="right:2px;top:239.9px;font-size:13px;line-height:16px;white-space:nowrap;color:#222;letter-spacing:-0.3px">-0.4ft (-0.1m)</div>
<div class="abs" style="right:2px;top:271.1px;font-size:13px;line-height:16px;white-space:nowrap;color:#222;letter-spacing:-0.3px">-2ft (-0.6m)</div>
</div>
<div class="abs" style="left:70px;top:409px;width:1682px;height:58px;background:#f5fafe"></div>
<div class="abs" style="left:70px;top:468px;width:1682px;height:58px;background:#fff"></div>
<div class="hl" style="left:70px;top:467px;width:1682px;background:#ececec"></div>
<div class="abs" style="left:0px;top:528px;width:1752px;height:45px;background:#fffff0"></div>
<div class="abs" style="left:70px;top:573px;width:1682px;height:79px;background:#fff"></div>
<div class="abs" style="left:70px;top:653px;width:1682px;height:106px;background:#fff"></div>
<div class="abs" style="left:0px;top:759px;width:1752px;height:28px;background:#fafafa"></div>
<div class="t hi" style="left:100.0px;top:416.0px;letter-spacing:0.26px">3:26AM</div><div class="t v" style="left:100.0px;top:431.0px;letter-spacing:-0.33px">2.79m</div><div class="t v" style="left:100.0px;top:445.0px;letter-spacing:-0.27px">(2.79m)</div>
<div class="t hi" style="left:220.5px;top:416.0px;letter-spacing:0.20px">3:37PM</div><div class="t v" style="left:220.5px;top:431.0px;letter-spacing:-0.33px">2.90m</div><div class="t v" style="left:220.5px;top:445.0px;letter-spacing:-0.28px">(2.9m)</div>
<div class="t hi" style="left:340.5px;top:416.0px;letter-spacing:-0.01px">4:13AM</div><div class="t v" style="left:340.5px;top:431.0px;letter-spacing:-0.33px">2.87m</div><div class="t v" style="left:340.5px;top:445.0px;letter-spacing:-0.27px">(2.87m)</div>
<div class="t hi" style="left:462.5px;top:416.0px;letter-spacing:-0.07px">4:31PM</div><div class="t v" style="left:462.5px;top:431.0px;letter-spacing:-0.33px">2.84m</div><div class="t v" style="left:462.5px;top:445.0px;letter-spacing:-0.27px">(2.84m)</div>
<div class="t hi" style="left:582.5px;top:416.0px;letter-spacing:0.26px">5:04AM</div><div class="t v" style="left:582.5px;top:431.0px;letter-spacing:-0.33px">2.98m</div><div class="t v" style="left:582.5px;top:445.0px;letter-spacing:-0.27px">(2.98m)</div>
<div class="t hi" style="left:702.5px;top:416.0px;letter-spacing:0.20px">5:29PM</div><div class="t v" style="left:702.5px;top:431.0px;letter-spacing:-0.33px">2.80m</div><div class="t v" style="left:702.5px;top:445.0px;letter-spacing:-0.28px">(2.8m)</div>
<div class="t hi" style="left:822.5px;top:416.0px;letter-spacing:0.26px">5:58AM</div><div class="t v" style="left:822.5px;top:431.0px;letter-spacing:-0.75px">3.10m</div><div class="t v" style="left:822.5px;top:445.0px;letter-spacing:-0.63px">(3.1m)</div>
<div class="t hi" style="left:1002.5px;top:416.0px;letter-spacing:0.20px">6:30PM</div><div class="t v" style="left:1002.5px;top:431.0px;letter-spacing:-0.33px">2.78m</div><div class="t v" style="left:1002.5px;top:445.0px;letter-spacing:-0.27px">(2.78m)</div>
<div class="t hi" style="left:1127.5px;top:416.0px;letter-spacing:0.26px">6:53AM</div><div class="t v" style="left:1127.5px;top:431.0px;letter-spacing:-0.33px">3.23m</div><div class="t v" style="left:1127.5px;top:445.0px;letter-spacing:-0.27px">(3.23m)</div>
<div class="t hi" style="left:1247.5px;top:416.0px;letter-spacing:-0.07px">7:31PM</div><div class="t v" style="left:1247.5px;top:431.0px;letter-spacing:-0.33px">2.80m</div><div class="t v" style="left:1247.5px;top:445.0px;letter-spacing:-0.28px">(2.8m)</div>
<div class="t hi" style="left:1367.5px;top:416.0px;letter-spacing:0.26px">7:49AM</div><div class="t v" style="left:1367.5px;top:431.0px;letter-spacing:-0.33px">3.36m</div><div class="t v" style="left:1367.5px;top:445.0px;letter-spacing:-0.27px">(3.36m)</div>
<div class="t hi" style="left:1487.5px;top:416.0px;letter-spacing:0.20px">8:30PM</div><div class="t v" style="left:1487.5px;top:431.0px;letter-spacing:-0.33px">2.82m</div><div class="t v" style="left:1487.5px;top:445.0px;letter-spacing:-0.27px">(2.82m)</div>
<div class="t hi" style="left:1607.5px;top:416.0px;letter-spacing:0.26px">8:44AM</div><div class="t v" style="left:1607.5px;top:431.0px;letter-spacing:-0.33px">3.45m</div><div class="t v" style="left:1607.5px;top:445.0px;letter-spacing:-0.27px">(3.45m)</div>
<div class="t hi" style="left:1727.5px;top:416.0px;letter-spacing:0.20px">9:30PM</div><div class="t v" style="left:1727.5px;top:431.0px;letter-spacing:-0.33px">2.88m</div><div class="t v" style="left:1727.5px;top:445.0px;letter-spacing:-0.27px">(2.88m)</div>
<div class="t lo" style="left:160.5px;top:475.0px;letter-spacing:0.26px">9:29AM</div><div class="t v" style="left:160.5px;top:490.0px;letter-spacing:-0.33px">0.37m</div><div class="t v" style="left:160.5px;top:504.0px;letter-spacing:-0.27px">(0.37m)</div>
<div class="t lo" style="left:280.5px;top:475.0px;letter-spacing:0.20px">9:56PM</div><div class="t v" style="left:280.5px;top:490.0px;letter-spacing:-0.97px">0.11m</div><div class="t v" style="left:280.5px;top:504.0px;letter-spacing:-0.73px">(0.11m)</div>
<div class="t lo" style="left:401.5px;top:475.0px;letter-spacing:0.05px">10:23AM</div><div class="t v" style="left:401.5px;top:490.0px;letter-spacing:-0.75px">0.31m</div><div class="t v" style="left:401.5px;top:504.0px;letter-spacing:-0.57px">(0.31m)</div>
<div class="t lo" style="left:522.5px;top:475.0px;letter-spacing:-0.01px">10:47PM</div><div class="t v" style="left:522.5px;top:490.0px;letter-spacing:-0.75px">0.14m</div><div class="t v" style="left:522.5px;top:504.0px;letter-spacing:-0.57px">(0.14m)</div>
<div class="t lo" style="left:642.5px;top:475.0px;letter-spacing:-0.31px">11:21AM</div><div class="t v" style="left:642.5px;top:490.0px;letter-spacing:-0.33px">0.22m</div><div class="t v" style="left:642.5px;top:504.0px;letter-spacing:-0.27px">(0.22m)</div>
<div class="t lo" style="left:762.5px;top:475.0px;letter-spacing:-0.13px">11:40PM</div><div class="t v" style="left:762.5px;top:490.0px;letter-spacing:-0.75px">0.16m</div><div class="t v" style="left:762.5px;top:504.0px;letter-spacing:-0.57px">(0.16m)</div>
<div class="t lo" style="left:942.5px;top:475.0px;letter-spacing:-0.24px">12:21PM</div><div class="t v" style="left:942.5px;top:490.0px;letter-spacing:-0.75px">0.10m</div><div class="t v" style="left:942.5px;top:504.0px;letter-spacing:-0.63px">(0.1m)</div>
<div class="t lo" style="left:1065.0px;top:475.0px;letter-spacing:0.28px">00:36AM</div><div class="t v" style="left:1065.0px;top:490.0px;letter-spacing:-0.75px">0.16m</div><div class="t v" style="left:1065.0px;top:504.0px;letter-spacing:-0.57px">(0.16m)</div>
<div class="t lo" style="left:1187.5px;top:475.0px;letter-spacing:-0.34px">1:21PM</div><div class="t v" style="left:1187.5px;top:490.0px;letter-spacing:-0.13px">-0.05m</div><div class="t v" style="left:1187.5px;top:504.0px;letter-spacing:-0.13px">(-0.05m)</div>
<div class="t lo" style="left:1307.5px;top:475.0px;letter-spacing:-0.01px">1:33AM</div><div class="t v" style="left:1307.5px;top:490.0px;letter-spacing:-0.75px">0.13m</div><div class="t v" style="left:1307.5px;top:504.0px;letter-spacing:-0.57px">(0.13m)</div>
<div class="t lo" style="left:1427.5px;top:475.0px;letter-spacing:-0.07px">2:21PM</div><div class="t v" style="left:1427.5px;top:490.0px;letter-spacing:-0.13px">-0.20m</div><div class="t v" style="left:1427.5px;top:504.0px;letter-spacing:-0.11px">(-0.2m)</div>
<div class="t lo" style="left:1547.5px;top:475.0px;letter-spacing:0.26px">2:29AM</div><div class="t v" style="left:1547.5px;top:490.0px;letter-spacing:-0.97px">0.11m</div><div class="t v" style="left:1547.5px;top:504.0px;letter-spacing:-0.73px">(0.11m)</div>
<div class="t lo" style="left:1667.5px;top:475.0px;letter-spacing:-0.07px">3:17PM</div><div class="t v" style="left:1667.5px;top:490.0px;letter-spacing:-0.13px">-0.30m</div><div class="t v" style="left:1667.5px;top:504.0px;letter-spacing:-0.11px">(-0.3m)</div>
<svg style="left:150.0px;top:533.7px" width="20" height="17" viewBox="0 0 20 17"><g fill="none" stroke="#2b2b2b" stroke-width="1.35"><path d="M10 0V2.6M3.2 2.8L5 4.6M16.8 2.8L15 4.6M0 10H2.6M17.4 10H20"/><path d="M4.5 10.3A5.5 5.5 0 0 1 15.5 10.3"/><path d="M0 12.7H6.6L10 10.2L13.4 12.7H20" stroke-linejoin="miter"/></g></svg>
<div class="t v" style="left:160.5px;top:554.0px;letter-spacing:-0.74px">7:11AM</div>
<svg style="left:391.0px;top:533.7px" width="20" height="17" viewBox="0 0 20 17"><g fill="none" stroke="#2b2b2b" stroke-width="1.35"><path d="M10 0V2.6M3.2 2.8L5 4.6M16.8 2.8L15 4.6M0 10H2.6M17.4 10H20"/><path d="M4.5 10.3A5.5 5.5 0 0 1 15.5 10.3"/><path d="M0 12.7H6.6L10 10.2L13.4 12.7H20" stroke-linejoin="miter"/></g></svg>
<div class="t v" style="left:401.5px;top:554.0px;letter-spacing:-0.74px">7:11AM</div>
<svg style="left:632.0px;top:533.7px" width="20" height="17" viewBox="0 0 20 17"><g fill="none" stroke="#2b2b2b" stroke-width="1.35"><path d="M10 0V2.6M3.2 2.8L5 4.6M16.8 2.8L15 4.6M0 10H2.6M17.4 10H20"/><path d="M4.5 10.3A5.5 5.5 0 0 1 15.5 10.3"/><path d="M0 12.7H6.6L10 10.2L13.4 12.7H20" stroke-linejoin="miter"/></g></svg>
<div class="t v" style="left:642.5px;top:554.0px;letter-spacing:-0.74px">7:11AM</div>
<svg style="left:872.0px;top:533.7px" width="20" height="17" viewBox="0 0 20 17"><g fill="none" stroke="#2b2b2b" stroke-width="1.35"><path d="M10 0V2.6M3.2 2.8L5 4.6M16.8 2.8L15 4.6M0 10H2.6M17.4 10H20"/><path d="M4.5 10.3A5.5 5.5 0 0 1 15.5 10.3"/><path d="M0 12.7H6.6L10 10.2L13.4 12.7H20" stroke-linejoin="miter"/></g></svg>
<div class="t v" style="left:882.5px;top:554.0px;letter-spacing:-0.55px">7:12AM</div>
<svg style="left:1117.0px;top:533.7px" width="20" height="17" viewBox="0 0 20 17"><g fill="none" stroke="#2b2b2b" stroke-width="1.35"><path d="M10 0V2.6M3.2 2.8L5 4.6M16.8 2.8L15 4.6M0 10H2.6M17.4 10H20"/><path d="M4.5 10.3A5.5 5.5 0 0 1 15.5 10.3"/><path d="M0 12.7H6.6L10 10.2L13.4 12.7H20" stroke-linejoin="miter"/></g></svg>
<div class="t v" style="left:1127.5px;top:554.0px;letter-spacing:-0.55px">7:12AM</div>
<svg style="left:1357.0px;top:533.7px" width="20" height="17" viewBox="0 0 20 17"><g fill="none" stroke="#2b2b2b" stroke-width="1.35"><path d="M10 0V2.6M3.2 2.8L5 4.6M16.8 2.8L15 4.6M0 10H2.6M17.4 10H20"/><path d="M4.5 10.3A5.5 5.5 0 0 1 15.5 10.3"/><path d="M0 12.7H6.6L10 10.2L13.4 12.7H20" stroke-linejoin="miter"/></g></svg>
<div class="t v" style="left:1367.5px;top:554.0px;letter-spacing:-0.55px">7:12AM</div>
<svg style="left:1597.0px;top:533.7px" width="20" height="17" viewBox="0 0 20 17"><g fill="none" stroke="#2b2b2b" stroke-width="1.35"><path d="M10 0V2.6M3.2 2.8L5 4.6M16.8 2.8L15 4.6M0 10H2.6M17.4 10H20"/><path d="M4.5 10.3A5.5 5.5 0 0 1 15.5 10.3"/><path d="M0 12.7H6.6L10 10.2L13.4 12.7H20" stroke-linejoin="miter"/></g></svg>
<div class="t v" style="left:1607.5px;top:554.0px;letter-spacing:-0.55px">7:12AM</div>
<div class="abs" style="left:191px;top:528px;width:59px;height:45px;background:#eeeeee"></div>
<svg style="left:210.0px;top:533.7px" width="20" height="17" viewBox="0 0 20 17"><g fill="none" stroke="#2b2b2b" stroke-width="1.35"><path d="M10 0V2.6M3.2 2.8L5 4.6M16.8 2.8L15 4.6M0 10H2.6M17.4 10H20"/><path d="M4.5 10.3A5.5 5.5 0 0 1 15.5 10.3"/><path d="M0 12.7H6.6L10 15.9L13.4 12.7H20" stroke-linejoin="miter"/></g></svg>
<div class="t v" style="left:220.5px;top:554.0px;letter-spacing:-0.63px">4:17PM</div>
<div class="abs" style="left:433px;top:528px;width:59px;height:45px;background:#eeeeee"></div>
<svg style="left:452.0px;top:533.7px" width="20" height="17" viewBox="0 0 20 17"><g fill="none" stroke="#2b2b2b" stroke-width="1.35"><path d="M10 0V2.6M3.2 2.8L5 4.6M16.8 2.8L15 4.6M0 10H2.6M17.4 10H20"/><path d="M4.5 10.3A5.5 5.5 0 0 1 15.5 10.3"/><path d="M0 12.7H6.6L10 15.9L13.4 12.7H20" stroke-linejoin="miter"/></g></svg>
<div class="t v" style="left:462.5px;top:554.0px;letter-spacing:-0.63px">4:18PM</div>
<div class="abs" style="left:673px;top:528px;width:59px;height:45px;background:#eeeeee"></div>
<svg style="left:692.0px;top:533.7px" width="20" height="17" viewBox="0 0 20 17"><g fill="none" stroke="#2b2b2b" stroke-width="1.35"><path d="M10 0V2.6M3.2 2.8L5 4.6M16.8 2.8L15 4.6M0 10H2.6M17.4 10H20"/><path d="M4.5 10.3A5.5 5.5 0 0 1 15.5 10.3"/><path d="M0 12.7H6.6L10 15.9L13.4 12.7H20" stroke-linejoin="miter"/></g></svg>
<div class="t v" style="left:702.5px;top:554.0px;letter-spacing:-0.63px">4:19PM</div>
<div class="abs" style="left:913px;top:528px;width:59px;height:45px;background:#eeeeee"></div>
<svg style="left:932.0px;top:533.7px" width="20" height="17" viewBox="0 0 20 17"><g fill="none" stroke="#2b2b2b" stroke-width="1.35"><path d="M10 0V2.6M3.2 2.8L5 4.6M16.8 2.8L15 4.6M0 10H2.6M17.4 10H20"/><path d="M4.5 10.3A5.5 5.5 0 0 1 15.5 10.3"/><path d="M0 12.7H6.6L10 15.9L13.4 12.7H20" stroke-linejoin="miter"/></g></svg>
<div class="t v" style="left:942.5px;top:554.0px;letter-spacing:-0.63px">4:19PM</div>
<div class="abs" style="left:1158px;top:528px;width:59px;height:45px;background:#eeeeee"></div>
<svg style="left:1177.0px;top:533.7px" width="20" height="17" viewBox="0 0 20 17"><g fill="none" stroke="#2b2b2b" stroke-width="1.35"><path d="M10 0V2.6M3.2 2.8L5 4.6M16.8 2.8L15 4.6M0 10H2.6M17.4 10H20"/><path d="M4.5 10.3A5.5 5.5 0 0 1 15.5 10.3"/><path d="M0 12.7H6.6L10 15.9L13.4 12.7H20" stroke-linejoin="miter"/></g></svg>
<div class="t v" style="left:1187.5px;top:554.0px;letter-spacing:-0.28px">4:20PM</div>
<div class="abs" style="left:1398px;top:528px;width:59px;height:45px;background:#eeeeee"></div>
<svg style="left:1417.0px;top:533.7px" width="20" height="17" viewBox="0 0 20 17"><g fill="none" stroke="#2b2b2b" stroke-width="1.35"><path d="M10 0V2.6M3.2 2.8L5 4.6M16.8 2.8L15 4.6M0 10H2.6M17.4 10H20"/><path d="M4.5 10.3A5.5 5.5 0 0 1 15.5 10.3"/><path d="M0 12.7H6.6L10 15.9L13.4 12.7H20" stroke-linejoin="miter"/></g></svg>
<div class="t v" style="left:1427.5px;top:554.0px;letter-spacing:-0.63px">4:21PM</div>
<div class="abs" style="left:1638px;top:528px;width:59px;height:45px;background:#eeeeee"></div>
<svg style="left:1657.0px;top:533.7px" width="20" height="17" viewBox="0 0 20 17"><g fill="none" stroke="#2b2b2b" stroke-width="1.35"><path d="M10 0V2.6M3.2 2.8L5 4.6M16.8 2.8L15 4.6M0 10H2.6M17.4 10H20"/><path d="M4.5 10.3A5.5 5.5 0 0 1 15.5 10.3"/><path d="M0 12.7H6.6L10 15.9L13.4 12.7H20" stroke-linejoin="miter"/></g></svg>
<div class="t v" style="left:1667.5px;top:554.0px;letter-spacing:-0.28px">4:22PM</div>
<svg style="left:151.0px;top:580.9px" width="22" height="22" viewBox="-11 -11 22 22"><circle r="9.4" fill="#fff"/><path d="M0 -9.4A9.4 9.4 0 0 0 0 9.4A0.01 9.4 0 0 1 0 -9.4Z" fill="#9a9a9a"/><path d="M0 -9.4A0.01 9.4 0 0 0 0 9.4" fill="none" stroke="#111" stroke-width="1"/><circle r="9.4" fill="none" stroke="#111" stroke-width="1.15"/></svg>
<svg style="left:150.1px;top:615.6px" width="20" height="14" viewBox="0 0 19.4 14"><g fill="none" stroke="#2b2b2b" stroke-width="1.3"><path d="M2.9 7.9A6.9 6.9 0 1 1 16.5 7.9"/><path d="M0 10.4H6.9L9.7 7.7L12.5 10.4H19.4"/></g></svg>
<div class="t v" style="left:160.7px;top:632.6px;letter-spacing:-0.50px">10:58AM</div>
<svg style="left:271.0px;top:580.9px" width="22" height="22" viewBox="-11 -11 22 22"><circle r="9.4" fill="#fff"/><path d="M0 -9.4A9.4 9.4 0 0 0 0 9.4A0.38 9.4 0 0 1 0 -9.4Z" fill="#9a9a9a"/><path d="M0 -9.4A0.38 9.4 0 0 0 0 9.4" fill="none" stroke="#111" stroke-width="1"/><circle r="9.4" fill="none" stroke="#111" stroke-width="1.15"/></svg>
<svg style="left:270.1px;top:615.6px" width="20" height="14" viewBox="0 0 19.4 14"><g fill="none" stroke="#2b2b2b" stroke-width="1.3"><path d="M2.9 7.9A6.9 6.9 0 1 1 16.5 7.9"/><path d="M0 10.4H6.9L9.7 13.3L12.5 10.4H19.4"/></g></svg>
<div class="t v" style="left:280.7px;top:632.6px;letter-spacing:-1.20px">11:11PM</div>
<svg style="left:392.0px;top:580.9px" width="22" height="22" viewBox="-11 -11 22 22"><circle r="9.4" fill="#fff"/><path d="M0 -9.4A9.4 9.4 0 0 0 0 9.4A0.75 9.4 0 0 1 0 -9.4Z" fill="#9a9a9a"/><path d="M0 -9.4A0.75 9.4 0 0 0 0 9.4" fill="none" stroke="#111" stroke-width="1"/><circle r="9.4" fill="none" stroke="#111" stroke-width="1.15"/></svg>
<svg style="left:391.1px;top:615.6px" width="20" height="14" viewBox="0 0 19.4 14"><g fill="none" stroke="#2b2b2b" stroke-width="1.3"><path d="M2.9 7.9A6.9 6.9 0 1 1 16.5 7.9"/><path d="M0 10.4H6.9L9.7 7.7L12.5 10.4H19.4"/></g></svg>
<div class="t v" style="left:401.7px;top:632.6px;letter-spacing:-0.97px">11:19AM</div>
<svg style="left:573.0px;top:580.9px" width="22" height="22" viewBox="-11 -11 22 22"><circle r="9.4" fill="#fff"/><path d="M0 -9.4A9.4 9.4 0 0 0 0 9.4A1.69 9.4 0 0 1 0 -9.4Z" fill="#9a9a9a"/><path d="M0 -9.4A1.69 9.4 0 0 0 0 9.4" fill="none" stroke="#111" stroke-width="1"/><circle r="9.4" fill="none" stroke="#111" stroke-width="1.15"/></svg>
<svg style="left:572.1px;top:615.6px" width="20" height="14" viewBox="0 0 19.4 14"><g fill="none" stroke="#2b2b2b" stroke-width="1.3"><path d="M2.9 7.9A6.9 6.9 0 1 1 16.5 7.9"/><path d="M0 10.4H6.9L9.7 13.3L12.5 10.4H19.4"/></g></svg>
<div class="t v" style="left:582.7px;top:632.6px;letter-spacing:-0.50px">00:21AM</div>
<svg style="left:633.0px;top:580.9px" width="22" height="22" viewBox="-11 -11 22 22"><circle r="9.4" fill="#fff"/><path d="M0 -9.4A9.4 9.4 0 0 0 0 9.4A2.07 9.4 0 0 1 0 -9.4Z" fill="#9a9a9a"/><path d="M0 -9.4A2.07 9.4 0 0 0 0 9.4" fill="none" stroke="#111" stroke-width="1"/><circle r="9.4" fill="none" stroke="#111" stroke-width="1.15"/></svg>
<svg style="left:632.1px;top:615.6px" width="20" height="14" viewBox="0 0 19.4 14"><g fill="none" stroke="#2b2b2b" stroke-width="1.3"><path d="M2.9 7.9A6.9 6.9 0 1 1 16.5 7.9"/><path d="M0 10.4H6.9L9.7 7.7L12.5 10.4H19.4"/></g></svg>
<div class="t v" style="left:642.7px;top:632.6px;letter-spacing:-0.97px">11:41AM</div>
<svg style="left:813.0px;top:580.9px" width="22" height="22" viewBox="-11 -11 22 22"><circle r="9.4" fill="#fff"/><path d="M0 -9.4A9.4 9.4 0 0 0 0 9.4A3.01 9.4 0 0 1 0 -9.4Z" fill="#9a9a9a"/><path d="M0 -9.4A3.01 9.4 0 0 0 0 9.4" fill="none" stroke="#111" stroke-width="1"/><circle r="9.4" fill="none" stroke="#111" stroke-width="1.15"/></svg>
<svg style="left:812.1px;top:615.6px" width="20" height="14" viewBox="0 0 19.4 14"><g fill="none" stroke="#2b2b2b" stroke-width="1.3"><path d="M2.9 7.9A6.9 6.9 0 1 1 16.5 7.9"/><path d="M0 10.4H6.9L9.7 13.3L12.5 10.4H19.4"/></g></svg>
<div class="t v" style="left:822.7px;top:632.6px;letter-spacing:-0.55px">1:36AM</div>
<svg style="left:933.0px;top:580.9px" width="22" height="22" viewBox="-11 -11 22 22"><circle r="9.4" fill="#fff"/><path d="M0 -9.4A9.4 9.4 0 0 0 0 9.4A3.57 9.4 0 0 1 0 -9.4Z" fill="#9a9a9a"/><path d="M0 -9.4A3.57 9.4 0 0 0 0 9.4" fill="none" stroke="#111" stroke-width="1"/><circle r="9.4" fill="none" stroke="#111" stroke-width="1.15"/></svg>
<svg style="left:932.1px;top:615.6px" width="20" height="14" viewBox="0 0 19.4 14"><g fill="none" stroke="#2b2b2b" stroke-width="1.3"><path d="M2.9 7.9A6.9 6.9 0 1 1 16.5 7.9"/><path d="M0 10.4H6.9L9.7 7.7L12.5 10.4H19.4"/></g></svg>
<div class="t v" style="left:942.7px;top:632.6px;letter-spacing:-0.58px">12:07PM</div>
<svg style="left:1055.5px;top:580.9px" width="22" height="22" viewBox="-11 -11 22 22"><circle r="9.4" fill="#fff"/><path d="M0 -9.4A9.4 9.4 0 0 0 0 9.4A4.70 9.4 0 0 1 0 -9.4Z" fill="#9a9a9a"/><path d="M0 -9.4A4.70 9.4 0 0 0 0 9.4" fill="none" stroke="#111" stroke-width="1"/><circle r="9.4" fill="none" stroke="#111" stroke-width="1.15"/></svg>
<svg style="left:1054.6px;top:615.6px" width="20" height="14" viewBox="0 0 19.4 14"><g fill="none" stroke="#2b2b2b" stroke-width="1.3"><path d="M2.9 7.9A6.9 6.9 0 1 1 16.5 7.9"/><path d="M0 10.4H6.9L9.7 13.3L12.5 10.4H19.4"/></g></svg>
<div class="t v" style="left:1065.2px;top:632.6px;letter-spacing:-0.20px">2:54AM</div>
<svg style="left:1178.0px;top:580.9px" width="22" height="22" viewBox="-11 -11 22 22"><circle r="9.4" fill="#fff"/><path d="M0 -9.4A9.4 9.4 0 0 0 0 9.4A5.26 9.4 0 0 1 0 -9.4Z" fill="#9a9a9a"/><path d="M0 -9.4A5.26 9.4 0 0 0 0 9.4" fill="none" stroke="#111" stroke-width="1"/><circle r="9.4" fill="none" stroke="#111" stroke-width="1.15"/></svg>
<svg style="left:1177.1px;top:615.6px" width="20" height="14" viewBox="0 0 19.4 14"><g fill="none" stroke="#2b2b2b" stroke-width="1.3"><path d="M2.9 7.9A6.9 6.9 0 1 1 16.5 7.9"/><path d="M0 10.4H6.9L9.7 7.7L12.5 10.4H19.4"/></g></svg>
<div class="t v" style="left:1187.7px;top:632.6px;letter-spacing:-0.58px">12:38PM</div>
<svg style="left:1298.0px;top:580.9px" width="22" height="22" viewBox="-11 -11 22 22"><circle r="9.4" fill="#fff"/><path d="M0 -9.4A9.4 9.4 0 0 0 0 9.4A6.39 9.4 0 0 1 0 -9.4Z" fill="#9a9a9a"/><path d="M0 -9.4A6.39 9.4 0 0 0 0 9.4" fill="none" stroke="#111" stroke-width="1"/><circle r="9.4" fill="none" stroke="#111" stroke-width="1.15"/></svg>
<svg style="left:1297.1px;top:615.6px" width="20" height="14" viewBox="0 0 19.4 14"><g fill="none" stroke="#2b2b2b" stroke-width="1.3"><path d="M2.9 7.9A6.9 6.9 0 1 1 16.5 7.9"/><path d="M0 10.4H6.9L9.7 13.3L12.5 10.4H19.4"/></g></svg>
<div class="t v" style="left:1307.7px;top:632.6px;letter-spacing:-0.55px">4:15AM</div>
<svg style="left:1418.0px;top:580.9px" width="22" height="22" viewBox="-11 -11 22 22"><circle r="9.4" fill="#fff"/><path d="M0 -9.4A9.4 9.4 0 0 0 0 9.4A6.96 9.4 0 0 1 0 -9.4Z" fill="#9a9a9a"/><path d="M0 -9.4A6.96 9.4 0 0 0 0 9.4" fill="none" stroke="#111" stroke-width="1"/><circle r="9.4" fill="none" stroke="#111" stroke-width="1.15"/></svg>
<svg style="left:1417.1px;top:615.6px" width="20" height="14" viewBox="0 0 19.4 14"><g fill="none" stroke="#2b2b2b" stroke-width="1.3"><path d="M2.9 7.9A6.9 6.9 0 1 1 16.5 7.9"/><path d="M0 10.4H6.9L9.7 7.7L12.5 10.4H19.4"/></g></svg>
<div class="t v" style="left:1427.7px;top:632.6px;letter-spacing:-0.98px">1:19PM</div>
<svg style="left:1538.0px;top:580.9px" width="22" height="22" viewBox="-11 -11 22 22"><circle r="9.4" fill="#fff"/><path d="M0 -9.4A9.4 9.4 0 0 0 0 9.4A7.90 9.4 0 0 1 0 -9.4Z" fill="#9a9a9a"/><path d="M0 -9.4A7.90 9.4 0 0 0 0 9.4" fill="none" stroke="#111" stroke-width="1"/><circle r="9.4" fill="none" stroke="#111" stroke-width="1.15"/></svg>
<svg style="left:1537.1px;top:615.6px" width="20" height="14" viewBox="0 0 19.4 14"><g fill="none" stroke="#2b2b2b" stroke-width="1.3"><path d="M2.9 7.9A6.9 6.9 0 1 1 16.5 7.9"/><path d="M0 10.4H6.9L9.7 13.3L12.5 10.4H19.4"/></g></svg>
<div class="t v" style="left:1547.7px;top:632.6px;letter-spacing:-0.20px">5:35AM</div>
<svg style="left:1658.0px;top:580.9px" width="22" height="22" viewBox="-11 -11 22 22"><circle r="9.4" fill="#fff"/><path d="M0 -9.4A9.4 9.4 0 0 0 0 9.4A8.37 9.4 0 0 1 0 -9.4Z" fill="#9a9a9a"/><path d="M0 -9.4A8.37 9.4 0 0 0 0 9.4" fill="none" stroke="#111" stroke-width="1"/><circle r="9.4" fill="none" stroke="#111" stroke-width="1.15"/></svg>
<svg style="left:1657.1px;top:615.6px" width="20" height="14" viewBox="0 0 19.4 14"><g fill="none" stroke="#2b2b2b" stroke-width="1.3"><path d="M2.9 7.9A6.9 6.9 0 1 1 16.5 7.9"/><path d="M0 10.4H6.9L9.7 7.7L12.5 10.4H19.4"/></g></svg>
<div class="t v" style="left:1667.7px;top:632.6px;letter-spacing:-0.63px">2:13PM</div>
<div class="vl" style="left:69px;top:98px;height:689px;background:#8c8c8c"></div>
<div class="hl" style="left:70px;top:573px;width:1682px;height:1px;background:#f1f1f1"></div>
<div class="vl" style="left:130px;top:408px;height:351px;background:#ececec"></div>
<div class="vl" style="left:190px;top:408px;height:351px;background:#ececec"></div>
<div class="vl" style="left:250px;top:408px;height:351px;background:#ececec"></div>
<div class="vl" style="left:310px;top:408px;height:351px;background:#6e6e6e"></div>
<div class="vl" style="left:370px;top:408px;height:351px;background:#ececec"></div>
<div class="vl" style="left:432px;top:408px;height:351px;background:#ececec"></div>
<div class="vl" style="left:492px;top:408px;height:351px;background:#ececec"></div>
<div class="vl" style="left:552px;top:408px;height:351px;background:#6e6e6e"></div>
<div class="vl" style="left:612px;top:408px;height:351px;background:#ececec"></div>
<div class="vl" style="left:672px;top:408px;height:351px;background:#ececec"></div>
<div class="vl" style="left:732px;top:408px;height:351px;background:#ececec"></div>
<div class="vl" style="left:792px;top:408px;height:351px;background:#6e6e6e"></div>
<div class="vl" style="left:852px;top:408px;height:351px;background:#ececec"></div>
<div class="vl" style="left:912px;top:408px;height:351px;background:#ececec"></div>
<div class="vl" style="left:972px;top:408px;height:351px;background:#ececec"></div>
<div class="vl" style="left:1032px;top:408px;height:351px;background:#6e6e6e"></div>
<div class="vl" style="left:1097px;top:408px;height:351px;background:#ececec"></div>
<div class="vl" style="left:1157px;top:408px;height:351px;background:#ececec"></div>
<div class="vl" style="left:1217px;top:408px;height:351px;background:#ececec"></div>
<div class="vl" style="left:1277px;top:408px;height:351px;background:#6e6e6e"></div>
<div class="vl" style="left:1337px;top:408px;height:351px;background:#ececec"></div>
<div class="vl" style="left:1397px;top:408px;height:351px;background:#ececec"></div>
<div class="vl" style="left:1457px;top:408px;height:351px;background:#ececec"></div>
<div class="vl" style="left:1517px;top:408px;height:351px;background:#6e6e6e"></div>
<div class="vl" style="left:1577px;top:408px;height:351px;background:#ececec"></div>
<div class="vl" style="left:1637px;top:408px;height:351px;background:#ececec"></div>
<div class="vl" style="left:1697px;top:408px;height:351px;background:#ececec"></div>
<div class="vl" style="left:69px;top:98px;height:23px;background:#1f3347"></div>
<div class="hl" style="left:0;top:526px;width:1752px;height:2px;background:#2d5a87"></div>
<div class="hl" style="left:0;top:652px;width:1752px;height:1px;background:#3d6690"></div>
<div class="hl" style="left:0;top:758px;width:70px;height:1px;background:#2d5a87"></div>
<div class="t" style="left:34.5px;top:421px;font-size:14.3px;line-height:17px;font-weight:700;color:#4a7fb5">HIGH</div><div class="t lab" style="left:34.5px;top:437.5px">(EST)</div>
<div class="t" style="left:34.5px;top:480px;font-size:14.3px;line-height:17px;font-weight:700;color:#0b8793">LOW</div><div class="t lab" style="left:34.5px;top:496.5px">(EST)</div>
<div class="t lab" style="left:34.5px;top:541.5px">Sun</div>
<svg style="left:30px;top:534px" width="9" height="32" viewBox="0 0 9 32"><path d="M0.3 6.5L4.5 1L8.7 6.5ZM0.3 24.5L4.5 30L8.7 24.5Z" fill="#111"/></svg>
<div class="t lab" style="left:34.5px;top:583.5px;font-size:14.5px;letter-spacing:0">Moon</div><div class="t lab" style="left:34.5px;top:611.5px">Set</div><div class="t lab" style="left:34.5px;top:631.5px">Rise</div>
<div class="t lab" style="left:34.5px;top:658.5px;font-size:14.5px;letter-spacing:0">Wind</div><div class="t lab" style="left:34.5px;top:675px">(<span style="color:#4a7fb5;text-decoration:underline">mph</span>)</div>
<svg style="left:77.9px;top:654.0px" width="44" height="44" viewBox="-22 -22 44 44"><g transform="rotate(157.5)"><path d="M-1.9 0H1.9V-13.6H6.7L0 -19.2L-6.7 -13.6H-1.9Z" fill="#000"/></g><circle r="10.3" fill="#000"/><text x="0" y="4.9" text-anchor="middle" font-family="DejaVu Sans, sans-serif" font-size="13.6" fill="#12e612" textLength="14.7" lengthAdjust="spacingAndGlyphs">20</text></svg>
<svg style="left:138.4px;top:654.0px" width="44" height="44" viewBox="-22 -22 44 44"><g transform="rotate(157.5)"><path d="M-1.9 0H1.9V-13.6H6.7L0 -19.2L-6.7 -13.6H-1.9Z" fill="#000"/></g><circle r="10.3" fill="#000"/><text x="0" y="4.9" text-anchor="middle" font-family="DejaVu Sans, sans-serif" font-size="13.6" fill="#ffffff" textLength="14.7" lengthAdjust="spacingAndGlyphs">10</text></svg>
<svg style="left:198.4px;top:654.0px" width="44" height="44" viewBox="-22 -22 44 44"><g transform="rotate(202.5)"><path d="M-1.9 0H1.9V-13.6H6.7L0 -19.2L-6.7 -13.6H-1.9Z" fill="#000"/></g><circle r="10.3" fill="#000"/><text x="0" y="4.9" text-anchor="middle" font-family="DejaVu Sans, sans-serif" font-size="13.6" fill="#ffffff" textLength="8.1" lengthAdjust="spacingAndGlyphs">5</text></svg>
<svg style="left:258.4px;top:654.0px" width="44" height="44" viewBox="-22 -22 44 44"><g transform="rotate(180.0)"><path d="M-1.9 0H1.9V-13.6H6.7L0 -19.2L-6.7 -13.6H-1.9Z" fill="#000"/></g><circle r="10.3" fill="#000"/><text x="0" y="4.9" text-anchor="middle" font-family="DejaVu Sans, sans-serif" font-size="13.6" fill="#ffffff" textLength="8.1" lengthAdjust="spacingAndGlyphs">5</text></svg>
<svg style="left:318.4px;top:654.0px" width="44" height="44" viewBox="-22 -22 44 44"><g transform="rotate(180.0)"><path d="M-1.9 0H1.9V-13.6H6.7L0 -19.2L-6.7 -13.6H-1.9Z" fill="#000"/></g><circle r="10.3" fill="#000"/><text x="0" y="4.9" text-anchor="middle" font-family="DejaVu Sans, sans-serif" font-size="13.6" fill="#ffffff" textLength="8.1" lengthAdjust="spacingAndGlyphs">5</text></svg>
<svg style="left:379.4px;top:654.0px" width="44" height="44" viewBox="-22 -22 44 44"><g transform="rotate(202.5)"><path d="M-1.9 0H1.9V-13.6H6.7L0 -19.2L-6.7 -13.6H-1.9Z" fill="#000"/></g><circle r="10.3" fill="#000"/><text x="0" y="4.9" text-anchor="middle" font-family="DejaVu Sans, sans-serif" font-size="13.6" fill="#12e612" textLength="14.7" lengthAdjust="spacingAndGlyphs">10</text></svg>
<svg style="left:440.4px;top:654.0px" width="44" height="44" viewBox="-22 -22 44 44"><g transform="rotate(157.5)"><path d="M-1.9 0H1.9V-13.6H6.7L0 -19.2L-6.7 -13.6H-1.9Z" fill="#000"/></g><circle r="10.3" fill="#000"/><text x="0" y="4.9" text-anchor="middle" font-family="DejaVu Sans, sans-serif" font-size="13.6" fill="#ffffff" textLength="8.1" lengthAdjust="spacingAndGlyphs">5</text></svg>
<svg style="left:500.4px;top:654.0px" width="44" height="44" viewBox="-22 -22 44 44"><g transform="rotate(135.0)"><path d="M-1.9 0H1.9V-13.6H6.7L0 -19.2L-6.7 -13.6H-1.9Z" fill="#000"/></g><circle r="10.3" fill="#000"/><text x="0" y="4.9" text-anchor="middle" font-family="DejaVu Sans, sans-serif" font-size="13.6" fill="#ffffff" textLength="14.7" lengthAdjust="spacingAndGlyphs">10</text></svg>
<svg style="left:560.4px;top:654.0px" width="44" height="44" viewBox="-22 -22 44 44"><g transform="rotate(135.0)"><path d="M-1.9 0H1.9V-13.6H6.7L0 -19.2L-6.7 -13.6H-1.9Z" fill="#000"/></g><circle r="10.3" fill="#000"/><text x="0" y="4.9" text-anchor="middle" font-family="DejaVu Sans, sans-serif" font-size="13.6" fill="#ffffff" textLength="14.7" lengthAdjust="spacingAndGlyphs">10</text></svg>
<svg style="left:620.4px;top:654.0px" width="44" height="44" viewBox="-22 -22 44 44"><g transform="rotate(112.5)"><path d="M-1.9 0H1.9V-13.6H6.7L0 -19.2L-6.7 -13.6H-1.9Z" fill="#000"/></g><circle r="10.3" fill="#000"/><text x="0" y="4.9" text-anchor="middle" font-family="DejaVu Sans, sans-serif" font-size="13.6" fill="#ffffff" textLength="14.7" lengthAdjust="spacingAndGlyphs">10</text></svg>
<svg style="left:680.4px;top:654.0px" width="44" height="44" viewBox="-22 -22 44 44"><g transform="rotate(45.0)"><path d="M-1.9 0H1.9V-13.6H6.7L0 -19.2L-6.7 -13.6H-1.9Z" fill="#000"/></g><circle r="10.3" fill="#000"/><text x="0" y="4.9" text-anchor="middle" font-family="DejaVu Sans, sans-serif" font-size="13.6" fill="#ffffff" textLength="8.1" lengthAdjust="spacingAndGlyphs">5</text></svg>
<svg style="left:740.4px;top:654.0px" width="44" height="44" viewBox="-22 -22 44 44"><g transform="rotate(22.5)"><path d="M-1.9 0H1.9V-13.6H6.7L0 -19.2L-6.7 -13.6H-1.9Z" fill="#000"/></g><circle r="10.3" fill="#000"/><text x="0" y="4.9" text-anchor="middle" font-family="DejaVu Sans, sans-serif" font-size="13.6" fill="#ffffff" textLength="14.7" lengthAdjust="spacingAndGlyphs">10</text></svg>
<svg style="left:800.4px;top:654.0px" width="44" height="44" viewBox="-22 -22 44 44"><g transform="rotate(22.5)"><path d="M-1.9 0H1.9V-13.6H6.7L0 -19.2L-6.7 -13.6H-1.9Z" fill="#000"/></g><circle r="10.3" fill="#000"/><text x="0" y="4.9" text-anchor="middle" font-family="DejaVu Sans, sans-serif" font-size="13.6" fill="#ffffff" textLength="14.7" lengthAdjust="spacingAndGlyphs">10</text></svg>
<svg style="left:860.4px;top:654.0px" width="44" height="44" viewBox="-22 -22 44 44"><g transform="rotate(22.5)"><path d="M-1.9 0H1.9V-13.6H6.7L0 -19.2L-6.7 -13.6H-1.9Z" fill="#000"/></g><circle r="10.3" fill="#000"/><text x="0" y="4.9" text-anchor="middle" font-family="DejaVu Sans, sans-serif" font-size="13.6" fill="#ffffff" textLength="8.1" lengthAdjust="spacingAndGlyphs">5</text></svg>
<svg style="left:920.4px;top:654.0px" width="44" height="44" viewBox="-22 -22 44 44"><g transform="rotate(45.0)"><path d="M-1.9 0H1.9V-13.6H6.7L0 -19.2L-6.7 -13.6H-1.9Z" fill="#000"/></g><circle r="10.3" fill="#000"/><text x="0" y="4.9" text-anchor="middle" font-family="DejaVu Sans, sans-serif" font-size="13.6" fill="#12e612" textLength="14.7" lengthAdjust="spacingAndGlyphs">10</text></svg>
<svg style="left:980.4px;top:654.0px" width="44" height="44" viewBox="-22 -22 44 44"><g transform="rotate(90.0)"><path d="M-1.9 0H1.9V-13.6H6.7L0 -19.2L-6.7 -13.6H-1.9Z" fill="#000"/></g><circle r="10.3" fill="#000"/><text x="0" y="4.9" text-anchor="middle" font-family="DejaVu Sans, sans-serif" font-size="13.6" fill="#e8e800" textLength="14.7" lengthAdjust="spacingAndGlyphs">25</text></svg>
<svg style="left:1042.9px;top:654.0px" width="44" height="44" viewBox="-22 -22 44 44"><g transform="rotate(90.0)"><path d="M-1.9 0H1.9V-13.6H6.7L0 -19.2L-6.7 -13.6H-1.9Z" fill="#000"/></g><circle r="10.3" fill="#000"/><text x="0" y="4.9" text-anchor="middle" font-family="DejaVu Sans, sans-serif" font-size="13.6" fill="#e8e800" textLength="14.7" lengthAdjust="spacingAndGlyphs">25</text></svg>
<svg style="left:1105.4px;top:654.0px" width="44" height="44" viewBox="-22 -22 44 44"><g transform="rotate(90.0)"><path d="M-1.9 0H1.9V-13.6H6.7L0 -19.2L-6.7 -13.6H-1.9Z" fill="#000"/></g><circle r="10.3" fill="#000"/><text x="0" y="4.9" text-anchor="middle" font-family="DejaVu Sans, sans-serif" font-size="13.6" fill="#12e612" textLength="14.7" lengthAdjust="spacingAndGlyphs">20</text></svg>
<svg style="left:1165.4px;top:654.0px" width="44" height="44" viewBox="-22 -22 44 44"><g transform="rotate(90.0)"><path d="M-1.9 0H1.9V-13.6H6.7L0 -19.2L-6.7 -13.6H-1.9Z" fill="#000"/></g><circle r="10.3" fill="#000"/><text x="0" y="4.9" text-anchor="middle" font-family="DejaVu Sans, sans-serif" font-size="13.6" fill="#e8e800" textLength="14.7" lengthAdjust="spacingAndGlyphs">25</text></svg>
<svg style="left:1225.4px;top:654.0px" width="44" height="44" viewBox="-22 -22 44 44"><g transform="rotate(90.0)"><path d="M-1.9 0H1.9V-13.6H6.7L0 -19.2L-6.7 -13.6H-1.9Z" fill="#000"/></g><circle r="10.3" fill="#000"/><text x="0" y="4.9" text-anchor="middle" font-family="DejaVu Sans, sans-serif" font-size="13.6" fill="#12e612" textLength="14.7" lengthAdjust="spacingAndGlyphs">20</text></svg>
<svg style="left:1285.4px;top:654.0px" width="44" height="44" viewBox="-22 -22 44 44"><g transform="rotate(90.0)"><path d="M-1.9 0H1.9V-13.6H6.7L0 -19.2L-6.7 -13.6H-1.9Z" fill="#000"/></g><circle r="10.3" fill="#000"/><text x="0" y="4.9" text-anchor="middle" font-family="DejaVu Sans, sans-serif" font-size="13.6" fill="#12e612" textLength="14.7" lengthAdjust="spacingAndGlyphs">20</text></svg>
<svg style="left:1345.4px;top:654.0px" width="44" height="44" viewBox="-22 -22 44 44"><g transform="rotate(45.0)"><path d="M-1.9 0H1.9V-13.6H6.7L0 -19.2L-6.7 -13.6H-1.9Z" fill="#000"/></g><circle r="10.3" fill="#000"/><text x="0" y="4.9" text-anchor="middle" font-family="DejaVu Sans, sans-serif" font-size="13.6" fill="#12e612" textLength="14.7" lengthAdjust="spacingAndGlyphs">15</text></svg>
<svg style="left:1405.4px;top:654.0px" width="44" height="44" viewBox="-22 -22 44 44"><g transform="rotate(67.5)"><path d="M-1.9 0H1.9V-13.6H6.7L0 -19.2L-6.7 -13.6H-1.9Z" fill="#000"/></g><circle r="10.3" fill="#000"/><text x="0" y="4.9" text-anchor="middle" font-family="DejaVu Sans, sans-serif" font-size="13.6" fill="#12e612" textLength="14.7" lengthAdjust="spacingAndGlyphs">15</text></svg>
<svg style="left:1465.4px;top:654.0px" width="44" height="44" viewBox="-22 -22 44 44"><g transform="rotate(112.5)"><path d="M-1.9 0H1.9V-13.6H6.7L0 -19.2L-6.7 -13.6H-1.9Z" fill="#000"/></g><circle r="10.3" fill="#000"/><text x="0" y="4.9" text-anchor="middle" font-family="DejaVu Sans, sans-serif" font-size="13.6" fill="#12e612" textLength="14.7" lengthAdjust="spacingAndGlyphs">15</text></svg>
<svg style="left:1525.4px;top:654.0px" width="44" height="44" viewBox="-22 -22 44 44"><g transform="rotate(112.5)"><path d="M-1.9 0H1.9V-13.6H6.7L0 -19.2L-6.7 -13.6H-1.9Z" fill="#000"/></g><circle r="10.3" fill="#000"/><text x="0" y="4.9" text-anchor="middle" font-family="DejaVu Sans, sans-serif" font-size="13.6" fill="#12e612" textLength="14.7" lengthAdjust="spacingAndGlyphs">15</text></svg>
<svg style="left:1585.4px;top:654.0px" width="44" height="44" viewBox="-22 -22 44 44"><g transform="rotate(112.5)"><path d="M-1.9 0H1.9V-13.6H6.7L0 -19.2L-6.7 -13.6H-1.9Z" fill="#000"/></g><circle r="10.3" fill="#000"/><text x="0" y="4.9" text-anchor="middle" font-family="DejaVu Sans, sans-serif" font-size="13.6" fill="#12e612" textLength="14.7" lengthAdjust="spacingAndGlyphs">15</text></svg>
<svg style="left:1645.4px;top:654.0px" width="44" height="44" viewBox="-22 -22 44 44"><g transform="rotate(90.0)"><path d="M-1.9 0H1.9V-13.6H6.7L0 -19.2L-6.7 -13.6H-1.9Z" fill="#000"/></g><circle r="10.3" fill="#000"/><text x="0" y="4.9" text-anchor="middle" font-family="DejaVu Sans, sans-serif" font-size="13.6" fill="#12e612" textLength="14.7" lengthAdjust="spacingAndGlyphs">15</text></svg>
<svg style="left:1705.4px;top:654.0px" width="44" height="44" viewBox="-22 -22 44 44"><g transform="rotate(67.5)"><path d="M-1.9 0H1.9V-13.6H6.7L0 -19.2L-6.7 -13.6H-1.9Z" fill="#000"/></g><circle r="10.3" fill="#000"/><text x="0" y="4.9" text-anchor="middle" font-family="DejaVu Sans, sans-serif" font-size="13.6" fill="#12e612" textLength="14.7" lengthAdjust="spacingAndGlyphs">10</text></svg>
<svg width="0" height="0" style="left:0;top:0"><defs>
<linearGradient id="skyD" x1="0" y1="0" x2="0" y2="1"><stop offset="0" stop-color="#6270ae"/><stop offset="1" stop-color="#afb9db"/></linearGradient>
<linearGradient id="skyG" x1="0" y1="0" x2="0" y2="1"><stop offset="0" stop-color="#747e88"/><stop offset="0.55" stop-color="#b6b9bf"/><stop offset="1" stop-color="#d7d7db"/></linearGradient>
<radialGradient id="skyR" cx="0.5" cy="0.75" r="0.8"><stop offset="0" stop-color="#7b8999"/><stop offset="1" stop-color="#5f6d7f"/></radialGradient>
<radialGradient id="sunG" cx="0.5" cy="0.55" r="0.55"><stop offset="0" stop-color="#fde37e"/><stop offset="1" stop-color="#f1c43e"/></radialGradient>
<linearGradient id="moonG" x1="0" y1="0.3" x2="1" y2="0.6"><stop offset="0" stop-color="#ececae"/><stop offset="0.6" stop-color="#eaeaaa"/><stop offset="1" stop-color="#c6c688"/></linearGradient>
<linearGradient id="cg" gradientUnits="userSpaceOnUse" x1="0" y1="0" x2="0" y2="19"><stop offset="0" stop-color="#f7f7fb"/><stop offset="0.42" stop-color="#e6e6ec"/><stop offset="0.72" stop-color="#a6a8ae"/><stop offset="1" stop-color="#70747c"/></linearGradient>
<linearGradient id="pg0" gradientUnits="userSpaceOnUse" x1="0" y1="0" x2="0" y2="27"><stop offset="0" stop-color="#f0f0f6"/><stop offset="0.3" stop-color="#dadae2"/><stop offset="0.65" stop-color="#9c9ea8"/><stop offset="1" stop-color="#62666e"/></linearGradient><linearGradient id="pg1" gradientUnits="userSpaceOnUse" x1="0" y1="11" x2="0" y2="35"><stop offset="0" stop-color="#f0f0f6"/><stop offset="0.3" stop-color="#dadae2"/><stop offset="0.65" stop-color="#9c9ea8"/><stop offset="1" stop-color="#62666e"/></linearGradient><linearGradient id="pg2" gradientUnits="userSpaceOnUse" x1="0" y1="17" x2="0" y2="35"><stop offset="0" stop-color="#f0f0f6"/><stop offset="0.3" stop-color="#dadae2"/><stop offset="0.65" stop-color="#9c9ea8"/><stop offset="1" stop-color="#62666e"/></linearGradient>
<filter id="b1" x="-30%" y="-30%" width="160%" height="160%"><feGaussianBlur stdDeviation="0.9"/></filter>
<filter id="b2" x="-30%" y="-30%" width="160%" height="160%"><feGaussianBlur stdDeviation="1.6"/></filter>
<filter id="b3" x="-10%" y="-10%" width="120%" height="120%"><feGaussianBlur stdDeviation="0.35"/></filter>
</defs></svg>
<svg style="left:70px;top:700px;overflow:hidden" width="59" height="59" viewBox="0 0 59 59"><rect width="59" height="59" fill="#0b0b12"/><circle cx="20.0" cy="22.1" r="14.1" fill="url(#moonG)"/><circle cx="19.2" cy="16.7" r="2.4" fill="#cfcf90" fill-opacity="0.75"/><circle cx="10.8" cy="18.7" r="2.0" fill="#cfcf90" fill-opacity="0.75"/><circle cx="24.6" cy="21.1" r="2.4" fill="#cfcf90" fill-opacity="0.75"/><circle cx="18.5" cy="26.1" r="2.4" fill="#cfcf90" fill-opacity="0.75"/><circle cx="17.0" cy="23.9" r="1.6" fill="#cfcf90" fill-opacity="0.75"/><circle cx="39.0" cy="8.0" r="1.15" fill="#86867a"/><circle cx="40.9" cy="20.5" r="1.15" fill="#86867a"/><circle cx="15.5" cy="45.5" r="1.15" fill="#86867a"/><circle cx="33.5" cy="49.4" r="1.15" fill="#86867a"/></svg>
<div class="hl" style="left:70px;top:759px;width:60px;height:1px;background:#2d5a87"></div>
<svg style="left:131px;top:700px;overflow:hidden" width="59" height="59" viewBox="0 0 59 59"><rect width="59" height="59" fill="url(#skyD)"/><path d="M28.70 4.60L31.63 14.39L38.08 6.46L37.03 16.63L46.02 11.78L41.17 20.77L51.34 19.72L43.41 26.17L53.20 29.10L43.41 32.03L51.34 38.48L41.17 37.43L46.02 46.42L37.03 41.57L38.08 51.74L31.63 43.81L28.70 53.60L25.77 43.81L19.32 51.74L20.37 41.57L11.38 46.42L16.23 37.43L6.06 38.48L13.99 32.03L4.20 29.10L13.99 26.17L6.06 19.72L16.23 20.77L11.38 11.78L20.37 16.63L19.32 6.46L25.77 14.39Z" fill="#f2d94e" filter="url(#b1)"/><circle cx="28.7" cy="29.1" r="16.3" fill="#fff" filter="url(#b2)"/><circle cx="28.7" cy="29.1" r="14.5" fill="url(#sunG)"/><g transform="translate(24.3 20.8) scale(0.900 0.910)"><g fill="#7a7e86" stroke="#7a7e86" stroke-width="0.7"><circle cx="20.6" cy="7.0" r="6.6"/><circle cx="11.5" cy="12.5" r="6.2"/><circle cx="31.0" cy="11.5" r="6.6"/><circle cx="5.6" cy="19.5" r="5.6"/><circle cx="38.5" cy="18.0" r="6.5"/><path d="M0.2 21V26Q0.2 33 7 33H45V15L32 10H12L4 15Z"/></g><g fill="url(#pg0)"><circle cx="20.6" cy="7.0" r="6.6"/><circle cx="11.5" cy="12.5" r="6.2"/><circle cx="31.0" cy="11.5" r="6.6"/><circle cx="5.6" cy="19.5" r="5.6"/><circle cx="38.5" cy="18.0" r="6.5"/><path d="M0.2 21V26Q0.2 33 7 33H45V15L32 10H12L4 15Z"/></g><g fill="#7a7e86" stroke="#7a7e86" stroke-width="0.7"><circle cx="25.0" cy="17.5" r="6.0"/><circle cx="16.0" cy="22.5" r="7.0"/><circle cx="10.0" cy="27.6" r="5.6"/><path d="M4.4 28Q4.4 34 11 34H46V24H10Z"/></g><g fill="url(#pg1)"><circle cx="25.0" cy="17.5" r="6.0"/><circle cx="16.0" cy="22.5" r="7.0"/><circle cx="10.0" cy="27.6" r="5.6"/><path d="M4.4 28Q4.4 34 11 34H46V24H10Z"/></g><g fill="#7a7e86" stroke="#7a7e86" stroke-width="0.7"><circle cx="33.0" cy="23.5" r="6.0"/><circle cx="25.6" cy="28.4" r="5.2"/><circle cx="39.8" cy="27.5" r="6.5"/><path d="M20.4 29Q20.4 34 26 34H47V27H24Z"/></g><g fill="url(#pg2)"><circle cx="33.0" cy="23.5" r="6.0"/><circle cx="25.6" cy="28.4" r="5.2"/><circle cx="39.8" cy="27.5" r="6.5"/><path d="M20.4 29Q20.4 34 26 34H47V27H24Z"/></g></g></svg>
<div class="hl" style="left:131px;top:759px;width:59px;height:1px;background:#2d5a87"></div>
<svg style="left:191px;top:700px;overflow:hidden" width="59" height="59" viewBox="0 0 59 59"><rect width="59" height="59" fill="url(#skyG)"/><g transform="translate(-4.5 3.0) scale(0.720 0.640)"><g fill="#7c8088" stroke="#7c8088" stroke-width="0.9"><path d="M0.2 13.6Q0.2 8.5 5.5 8.5H41.5Q46.8 8.5 46.8 13.6Q46.8 18 41 18.3Q23.5 19.7 6 18.3Q0.2 18 0.2 13.6Z"/><circle cx="23.5" cy="7" r="7"/><circle cx="12.5" cy="9.8" r="5.6"/><circle cx="34.5" cy="9.8" r="5.6"/><circle cx="6.2" cy="13" r="4.8"/><circle cx="40.8" cy="13" r="4.8"/></g><g fill="url(#cg)"><path d="M0.2 13.6Q0.2 8.5 5.5 8.5H41.5Q46.8 8.5 46.8 13.6Q46.8 18 41 18.3Q23.5 19.7 6 18.3Q0.2 18 0.2 13.6Z"/><circle cx="23.5" cy="7" r="7"/><circle cx="12.5" cy="9.8" r="5.6"/><circle cx="34.5" cy="9.8" r="5.6"/><circle cx="6.2" cy="13" r="4.8"/><circle cx="40.8" cy="13" r="4.8"/></g><path d="M5 16C7 11 11 10 14 12.5C16 9 21 9 23.5 12.5C26 9 31 9 33 12.5C36 10 40 11 42 16C30 19 17 19 5 16Z" fill="#4e545c" fill-opacity="0.24"/></g><g transform="translate(42.0 3.0) scale(0.640 0.680)"><g fill="#7c8088" stroke="#7c8088" stroke-width="0.9"><path d="M0.2 13.6Q0.2 8.5 5.5 8.5H41.5Q46.8 8.5 46.8 13.6Q46.8 18 41 18.3Q23.5 19.7 6 18.3Q0.2 18 0.2 13.6Z"/><circle cx="23.5" cy="7" r="7"/><circle cx="12.5" cy="9.8" r="5.6"/><circle cx="34.5" cy="9.8" r="5.6"/><circle cx="6.2" cy="13" r="4.8"/><circle cx="40.8" cy="13" r="4.8"/></g><g fill="url(#cg)"><path d="M0.2 13.6Q0.2 8.5 5.5 8.5H41.5Q46.8 8.5 46.8 13.6Q46.8 18 41 18.3Q23.5 19.7 6 18.3Q0.2 18 0.2 13.6Z"/><circle cx="23.5" cy="7" r="7"/><circle cx="12.5" cy="9.8" r="5.6"/><circle cx="34.5" cy="9.8" r="5.6"/><circle cx="6.2" cy="13" r="4.8"/><circle cx="40.8" cy="13" r="4.8"/></g><path d="M5 16C7 11 11 10 14 12.5C16 9 21 9 23.5 12.5C26 9 31 9 33 12.5C36 10 40 11 42 16C30 19 17 19 5 16Z" fill="#4e545c" fill-opacity="0.24"/></g><g transform="translate(-13.5 11.4) scale(0.850 0.970)"><g fill="#7c8088" stroke="#7c8088" stroke-width="0.9"><path d="M0.2 13.6Q0.2 8.5 5.5 8.5H41.5Q46.8 8.5 46.8 13.6Q46.8 18 41 18.3Q23.5 19.7 6 18.3Q0.2 18 0.2 13.6Z"/><circle cx="23.5" cy="7" r="7"/><circle cx="12.5" cy="9.8" r="5.6"/><circle cx="34.5" cy="9.8" r="5.6"/><circle cx="6.2" cy="13" r="4.8"/><circle cx="40.8" cy="13" r="4.8"/></g><g fill="url(#cg)"><path d="M0.2 13.6Q0.2 8.5 5.5 8.5H41.5Q46.8 8.5 46.8 13.6Q46.8 18 41 18.3Q23.5 19.7 6 18.3Q0.2 18 0.2 13.6Z"/><circle cx="23.5" cy="7" r="7"/><circle cx="12.5" cy="9.8" r="5.6"/><circle cx="34.5" cy="9.8" r="5.6"/><circle cx="6.2" cy="13" r="4.8"/><circle cx="40.8" cy="13" r="4.8"/></g><path d="M5 16C7 11 11 10 14 12.5C16 9 21 9 23.5 12.5C26 9 31 9 33 12.5C36 10 40 11 42 16C30 19 17 19 5 16Z" fill="#4e545c" fill-opacity="0.24"/></g><g transform="translate(18.0 7.6) scale(0.920 0.980)"><g fill="#7c8088" stroke="#7c8088" stroke-width="0.9"><path d="M0.2 13.6Q0.2 8.5 5.5 8.5H41.5Q46.8 8.5 46.8 13.6Q46.8 18 41 18.3Q23.5 19.7 6 18.3Q0.2 18 0.2 13.6Z"/><circle cx="23.5" cy="7" r="7"/><circle cx="12.5" cy="9.8" r="5.6"/><circle cx="34.5" cy="9.8" r="5.6"/><circle cx="6.2" cy="13" r="4.8"/><circle cx="40.8" cy="13" r="4.8"/></g><g fill="url(#cg)"><path d="M0.2 13.6Q0.2 8.5 5.5 8.5H41.5Q46.8 8.5 46.8 13.6Q46.8 18 41 18.3Q23.5 19.7 6 18.3Q0.2 18 0.2 13.6Z"/><circle cx="23.5" cy="7" r="7"/><circle cx="12.5" cy="9.8" r="5.6"/><circle cx="34.5" cy="9.8" r="5.6"/><circle cx="6.2" cy="13" r="4.8"/><circle cx="40.8" cy="13" r="4.8"/></g><path d="M5 16C7 11 11 10 14 12.5C16 9 21 9 23.5 12.5C26 9 31 9 33 12.5C36 10 40 11 42 16C30 19 17 19 5 16Z" fill="#4e545c" fill-opacity="0.24"/></g><g transform="translate(4.0 17.4) scale(1.000 1.000)"><g fill="#7c8088" stroke="#7c8088" stroke-width="0.9"><path d="M0.2 13.6Q0.2 8.5 5.5 8.5H41.5Q46.8 8.5 46.8 13.6Q46.8 18 41 18.3Q23.5 19.7 6 18.3Q0.2 18 0.2 13.6Z"/><circle cx="23.5" cy="7" r="7"/><circle cx="12.5" cy="9.8" r="5.6"/><circle cx="34.5" cy="9.8" r="5.6"/><circle cx="6.2" cy="13" r="4.8"/><circle cx="40.8" cy="13" r="4.8"/></g><g fill="url(#cg)"><path d="M0.2 13.6Q0.2 8.5 5.5 8.5H41.5Q46.8 8.5 46.8 13.6Q46.8 18 41 18.3Q23.5 19.7 6 18.3Q0.2 18 0.2 13.6Z"/><circle cx="23.5" cy="7" r="7"/><circle cx="12.5" cy="9.8" r="5.6"/><circle cx="34.5" cy="9.8" r="5.6"/><circle cx="6.2" cy="13" r="4.8"/><circle cx="40.8" cy="13" r="4.8"/></g><path d="M5 16C7 11 11 10 14 12.5C16 9 21 9 23.5 12.5C26 9 31 9 33 12.5C36 10 40 11 42 16C30 19 17 19 5 16Z" fill="#4e545c" fill-opacity="0.24"/></g></svg>
<div class="hl" style="left:191px;top:759px;width:59px;height:1px;background:#2d5a87"></div>
<svg style="left:251px;top:700px;overflow:hidden" width="59" height="59" viewBox="0 0 59 59"><rect width="59" height="59" fill="#0b0b12"/><g transform="translate(-4.5 3.0) scale(0.720 0.640)"><g fill="#7c8088" stroke="#7c8088" stroke-width="0.9"><path d="M0.2 13.6Q0.2 8.5 5.5 8.5H41.5Q46.8 8.5 46.8 13.6Q46.8 18 41 18.3Q23.5 19.7 6 18.3Q0.2 18 0.2 13.6Z"/><circle cx="23.5" cy="7" r="7"/><circle cx="12.5" cy="9.8" r="5.6"/><circle cx="34.5" cy="9.8" r="5.6"/><circle cx="6.2" cy="13" r="4.8"/><circle cx="40.8" cy="13" r="4.8"/></g><g fill="url(#cg)"><path d="M0.2 13.6Q0.2 8.5 5.5 8.5H41.5Q46.8 8.5 46.8 13.6Q46.8 18 41 18.3Q23.5 19.7 6 18.3Q0.2 18 0.2 13.6Z"/><circle cx="23.5" cy="7" r="7"/><circle cx="12.5" cy="9.8" r="5.6"/><circle cx="34.5" cy="9.8" r="5.6"/><circle cx="6.2" cy="13" r="4.8"/><circle cx="40.8" cy="13" r="4.8"/></g><path d="M5 16C7 11 11 10 14 12.5C16 9 21 9 23.5 12.5C26 9 31 9 33 12.5C36 10 40 11 42 16C30 19 17 19 5 16Z" fill="#4e545c" fill-opacity="0.24"/></g><g transform="translate(42.0 3.0) scale(0.640 0.680)"><g fill="#7c8088" stroke="#7c8088" stroke-width="0.9"><path d="M0.2 13.6Q0.2 8.5 5.5 8.5H41.5Q46.8 8.5 46.8 13.6Q46.8 18 41 18.3Q23.5 19.7 6 18.3Q0.2 18 0.2 13.6Z"/><circle cx="23.5" cy="7" r="7"/><circle cx="12.5" cy="9.8" r="5.6"/><circle cx="34.5" cy="9.8" r="5.6"/><circle cx="6.2" cy="13" r="4.8"/><circle cx="40.8" cy="13" r="4.8"/></g><g fill="url(#cg)"><path d="M0.2 13.6Q0.2 8.5 5.5 8.5H41.5Q46.8 8.5 46.8 13.6Q46.8 18 41 18.3Q23.5 19.7 6 18.3Q0.2 18 0.2 13.6Z"/><circle cx="23.5" cy="7" r="7"/><circle cx="12.5" cy="9.8" r="5.6"/><circle cx="34.5" cy="9.8" r="5.6"/><circle cx="6.2" cy="13" r="4.8"/><circle cx="40.8" cy="13" r="4.8"/></g><path d="M5 16C7 11 11 10 14 12.5C16 9 21 9 23.5 12.5C26 9 31 9 33 12.5C36 10 40 11 42 16C30 19 17 19 5 16Z" fill="#4e545c" fill-opacity="0.24"/></g><g transform="translate(-13.5 11.4) scale(0.850 0.970)"><g fill="#7c8088" stroke="#7c8088" stroke-width="0.9"><path d="M0.2 13.6Q0.2 8.5 5.5 8.5H41.5Q46.8 8.5 46.8 13.6Q46.8 18 41 18.3Q23.5 19.7 6 18.3Q0.2 18 0.2 13.6Z"/><circle cx="23.5" cy="7" r="7"/><circle cx="12.5" cy="9.8" r="5.6"/><circle cx="34.5" cy="9.8" r="5.6"/><circle cx="6.2" cy="13" r="4.8"/><circle cx="40.8" cy="13" r="4.8"/></g><g fill="url(#cg)"><path d="M0.2 13.6Q0.2 8.5 5.5 8.5H41.5Q46.8 8.5 46.8 13.6Q46.8 18 41 18.3Q23.5 19.7 6 18.3Q0.2 18 0.2 13.6Z"/><circle cx="23.5" cy="7" r="7"/><circle cx="12.5" cy="9.8" r="5.6"/><circle cx="34.5" cy="9.8" r="5.6"/><circle cx="6.2" cy="13" r="4.8"/><circle cx="40.8" cy="13" r="4.8"/></g><path d="M5 16C7 11 11 10 14 12.5C16 9 21 9 23.5 12.5C26 9 31 9 33 12.5C36 10 40 11 42 16C30 19 17 19 5 16Z" fill="#4e545c" fill-opacity="0.24"/></g><g transform="translate(18.0 7.6) scale(0.920 0.980)"><g fill="#7c8088" stroke="#7c8088" stroke-width="0.9"><path d="M0.2 13.6Q0.2 8.5 5.5 8.5H41.5Q46.8 8.5 46.8 13.6Q46.8 18 41 18.3Q23.5 19.7 6 18.3Q0.2 18 0.2 13.6Z"/><circle cx="23.5" cy="7" r="7"/><circle cx="12.5" cy="9.8" r="5.6"/><circle cx="34.5" cy="9.8" r="5.6"/><circle cx="6.2" cy="13" r="4.8"/><circle cx="40.8" cy="13" r="4.8"/></g><g fill="url(#cg)"><path d="M0.2 13.6Q0.2 8.5 5.5 8.5H41.5Q46.8 8.5 46.8 13.6Q46.8 18 41 18.3Q23.5 19.7 6 18.3Q0.2 18 0.2 13.6Z"/><circle cx="23.5" cy="7" r="7"/><circle cx="12.5" cy="9.8" r="5.6"/><circle cx="34.5" cy="9.8" r="5.6"/><circle cx="6.2" cy="13" r="4.8"/><circle cx="40.8" cy="13" r="4.8"/></g><path d="M5 16C7 11 11 10 14 12.5C16 9 21 9 23.5 12.5C26 9 31 9 33 12.5C36 10 40 11 42 16C30 19 17 19 5 16Z" fill="#4e545c" fill-opacity="0.24"/></g><g transform="translate(4.0 17.4) scale(1.000 1.000)"><g fill="#7c8088" stroke="#7c8088" stroke-width="0.9"><path d="M0.2 13.6Q0.2 8.5 5.5 8.5H41.5Q46.8 8.5 46.8 13.6Q46.8 18 41 18.3Q23.5 19.7 6 18.3Q0.2 18 0.2 13.6Z"/><circle cx="23.5" cy="7" r="7"/><circle cx="12.5" cy="9.8" r="5.6"/><circle cx="34.5" cy="9.8" r="5.6"/><circle cx="6.2" cy="13" r="4.8"/><circle cx="40.8" cy="13" r="4.8"/></g><g fill="url(#cg)"><path d="M0.2 13.6Q0.2 8.5 5.5 8.5H41.5Q46.8 8.5 46.8 13.6Q46.8 18 41 18.3Q23.5 19.7 6 18.3Q0.2 18 0.2 13.6Z"/><circle cx="23.5" cy="7" r="7"/><circle cx="12.5" cy="9.8" r="5.6"/><circle cx="34.5" cy="9.8" r="5.6"/><circle cx="6.2" cy="13" r="4.8"/><circle cx="40.8" cy="13" r="4.8"/></g><path d="M5 16C7 11 11 10 14 12.5C16 9 21 9 23.5 12.5C26 9 31 9 33 12.5C36 10 40 11 42 16C30 19 17 19 5 16Z" fill="#4e545c" fill-opacity="0.24"/></g></svg>
<div class="hl" style="left:251px;top:759px;width:59px;height:1px;background:#2d5a87"></div>
<svg style="left:311px;top:700px;overflow:hidden" width="59" height="59" viewBox="0 0 59 59"><rect width="59" height="59" fill="#0b0b12"/><g transform="translate(-4.5 3.0) scale(0.720 0.640)"><g fill="#7c8088" stroke="#7c8088" stroke-width="0.9"><path d="M0.2 13.6Q0.2 8.5 5.5 8.5H41.5Q46.8 8.5 46.8 13.6Q46.8 18 41 18.3Q23.5 19.7 6 18.3Q0.2 18 0.2 13.6Z"/><circle cx="23.5" cy="7" r="7"/><circle cx="12.5" cy="9.8" r="5.6"/><circle cx="34.5" cy="9.8" r="5.6"/><circle cx="6.2" cy="13" r="4.8"/><circle cx="40.8" cy="13" r="4.8"/></g><g fill="url(#cg)"><path d="M0.2 13.6Q0.2 8.5 5.5 8.5H41.5Q46.8 8.5 46.8 13.6Q46.8 18 41 18.3Q23.5 19.7 6 18.3Q0.2 18 0.2 13.6Z"/><circle cx="23.5" cy="7" r="7"/><circle cx="12.5" cy="9.8" r="5.6"/><circle cx="34.5" cy="9.8" r="5.6"/><circle cx="6.2" cy="13" r="4.8"/><circle cx="40.8" cy="13" r="4.8"/></g><path d="M5 16C7 11 11 10 14 12.5C16 9 21 9 23.5 12.5C26 9 31 9 33 12.5C36 10 40 11 42 16C30 19 17 19 5 16Z" fill="#4e545c" fill-opacity="0.24"/></g><g transform="translate(42.0 3.0) scale(0.640 0.680)"><g fill="#7c8088" stroke="#7c8088" stroke-width="0.9"><path d="M0.2 13.6Q0.2 8.5 5.5 8.5H41.5Q46.8 8.5 46.8 13.6Q46.8 18 41 18.3Q23.5 19.7 6 18.3Q0.2 18 0.2 13.6Z"/><circle cx="23.5" cy="7" r="7"/><circle cx="12.5" cy="9.8" r="5.6"/><circle cx="34.5" cy="9.8" r="5.6"/><circle cx="6.2" cy="13" r="4.8"/><circle cx="40.8" cy="13" r="4.8"/></g><g fill="url(#cg)"><path d="M0.2 13.6Q0.2 8.5 5.5 8.5H41.5Q46.8 8.5 46.8 13.6Q46.8 18 41 18.3Q23.5 19.7 6 18.3Q0.2 18 0.2 13.6Z"/><circle cx="23.5" cy="7" r="7"/><circle cx="12.5" cy="9.8" r="5.6"/><circle cx="34.5" cy="9.8" r="5.6"/><circle cx="6.2" cy="13" r="4.8"/><circle cx="40.8" cy="13" r="4.8"/></g><path d="M5 16C7 11 11 10 14 12.5C16 9 21 9 23.5 12.5C26 9 31 9 33 12.5C36 10 40 11 42 16C30 19 17 19 5 16Z" fill="#4e545c" fill-opacity="0.24"/></g><g transform="translate(-13.5 11.4) scale(0.850 0.970)"><g fill="#7c8088" stroke="#7c8088" stroke-width="0.9"><path d="M0.2 13.6Q0.2 8.5 5.5 8.5H41.5Q46.8 8.5 46.8 13.6Q46.8 18 41 18.3Q23.5 19.7 6 18.3Q0.2 18 0.2 13.6Z"/><circle cx="23.5" cy="7" r="7"/><circle cx="12.5" cy="9.8" r="5.6"/><circle cx="34.5" cy="9.8" r="5.6"/><circle cx="6.2" cy="13" r="4.8"/><circle cx="40.8" cy="13" r="4.8"/></g><g fill="url(#cg)"><path d="M0.2 13.6Q0.2 8.5 5.5 8.5H41.5Q46.8 8.5 46.8 13.6Q46.8 18 41 18.3Q23.5 19.7 6 18.3Q0.2 18 0.2 13.6Z"/><circle cx="23.5" cy="7" r="7"/><circle cx="12.5" cy="9.8" r="5.6"/><circle cx="34.5" cy="9.8" r="5.6"/><circle cx="6.2" cy="13" r="4.8"/><circle cx="40.8" cy="13" r="4.8"/></g><path d="M5 16C7 11 11 10 14 12.5C16 9 21 9 23.5 12.5C26 9 31 9 33 12.5C36 10 40 11 42 16C30 19 17 19 5 16Z" fill="#4e545c" fill-opacity="0.24"/></g><g transform="translate(18.0 7.6) scale(0.920 0.980)"><g fill="#7c8088" stroke="#7c8088" stroke-width="0.9"><path d="M0.2 13.6Q0.2 8.5 5.5 8.5H41.5Q46.8 8.5 46.8 13.6Q46.8 18 41 18.3Q23.5 19.7 6 18.3Q0.2 18 0.2 13.6Z"/><circle cx="23.5" cy="7" r="7"/><circle cx="12.5" cy="9.8" r="5.6"/><circle cx="34.5" cy="9.8" r="5.6"/><circle cx="6.2" cy="13" r="4.8"/><circle cx="40.8" cy="13" r="4.8"/></g><g fill="url(#cg)"><path d="M0.2 13.6Q0.2 8.5 5.5 8.5H41.5Q46.8 8.5 46.8 13.6Q46.8 18 41 18.3Q23.5 19.7 6 18.3Q0.2 18 0.2 13.6Z"/><circle cx="23.5" cy="7" r="7"/><circle cx="12.5" cy="9.8" r="5.6"/><circle cx="34.5" cy="9.8" r="5.6"/><circle cx="6.2" cy="13" r="4.8"/><circle cx="40.8" cy="13" r="4.8"/></g><path d="M5 16C7 11 11 10 14 12.5C16 9 21 9 23.5 12.5C26 9 31 9 33 12.5C36 10 40 11 42 16C30 19 17 19 5 16Z" fill="#4e545c" fill-opacity="0.24"/></g><g transform="translate(4.0 17.4) scale(1.000 1.000)"><g fill="#7c8088" stroke="#7c8088" stroke-width="0.9"><path d="M0.2 13.6Q0.2 8.5 5.5 8.5H41.5Q46.8 8.5 46.8 13.6Q46.8 18 41 18.3Q23.5 19.7 6 18.3Q0.2 18 0.2 13.6Z"/><circle cx="23.5" cy="7" r="7"/><circle cx="12.5" cy="9.8" r="5.6"/><circle cx="34.5" cy="9.8" r="5.6"/><circle cx="6.2" cy="13" r="4.8"/><circle cx="40.8" cy="13" r="4.8"/></g><g fill="url(#cg)"><path d="M0.2 13.6Q0.2 8.5 5.5 8.5H41.5Q46.8 8.5 46.8 13.6Q46.8 18 41 18.3Q23.5 19.7 6 18.3Q0.2 18 0.2 13.6Z"/><circle cx="23.5" cy="7" r="7"/><circle cx="12.5" cy="9.8" r="5.6"/><circle cx="34.5" cy="9.8" r="5.6"/><circle cx="6.2" cy="13" r="4.8"/><circle cx="40.8" cy="13" r="4.8"/></g><path d="M5 16C7 11 11 10 14 12.5C16 9 21 9 23.5 12.5C26 9 31 9 33 12.5C36 10 40 11 42 16C30 19 17 19 5 16Z" fill="#4e545c" fill-opacity="0.24"/></g></svg>
<div class="hl" style="left:311px;top:759px;width:59px;height:1px;background:#2d5a87"></div>
<svg style="left:372px;top:700px;overflow:hidden" width="59" height="59" viewBox="0 0 59 59"><rect width="59" height="59" fill="url(#skyD)"/><path d="M28.70 4.60L31.63 14.39L38.08 6.46L37.03 16.63L46.02 11.78L41.17 20.77L51.34 19.72L43.41 26.17L53.20 29.10L43.41 32.03L51.34 38.48L41.17 37.43L46.02 46.42L37.03 41.57L38.08 51.74L31.63 43.81L28.70 53.60L25.77 43.81L19.32 51.74L20.37 41.57L11.38 46.42L16.23 37.43L6.06 38.48L13.99 32.03L4.20 29.10L13.99 26.17L6.06 19.72L16.23 20.77L11.38 11.78L20.37 16.63L19.32 6.46L25.77 14.39Z" fill="#f2d94e" filter="url(#b1)"/><circle cx="28.7" cy="29.1" r="16.3" fill="#fff" filter="url(#b2)"/><circle cx="28.7" cy="29.1" r="14.5" fill="url(#sunG)"/><g transform="translate(24.3 20.8) scale(0.900 0.910)"><g fill="#7a7e86" stroke="#7a7e86" stroke-width="0.7"><circle cx="20.6" cy="7.0" r="6.6"/><circle cx="11.5" cy="12.5" r="6.2"/><circle cx="31.0" cy="11.5" r="6.6"/><circle cx="5.6" cy="19.5" r="5.6"/><circle cx="38.5" cy="18.0" r="6.5"/><path d="M0.2 21V26Q0.2 33 7 33H45V15L32 10H12L4 15Z"/></g><g fill="url(#pg0)"><circle cx="20.6" cy="7.0" r="6.6"/><circle cx="11.5" cy="12.5" r="6.2"/><circle cx="31.0" cy="11.5" r="6.6"/><circle cx="5.6" cy="19.5" r="5.6"/><circle cx="38.5" cy="18.0" r="6.5"/><path d="M0.2 21V26Q0.2 33 7 33H45V15L32 10H12L4 15Z"/></g><g fill="#7a7e86" stroke="#7a7e86" stroke-width="0.7"><circle cx="25.0" cy="17.5" r="6.0"/><circle cx="16.0" cy="22.5" r="7.0"/><circle cx="10.0" cy="27.6" r="5.6"/><path d="M4.4 28Q4.4 34 11 34H46V24H10Z"/></g><g fill="url(#pg1)"><circle cx="25.0" cy="17.5" r="6.0"/><circle cx="16.0" cy="22.5" r="7.0"/><circle cx="10.0" cy="27.6" r="5.6"/><path d="M4.4 28Q4.4 34 11 34H46V24H10Z"/></g><g fill="#7a7e86" stroke="#7a7e86" stroke-width="0.7"><circle cx="33.0" cy="23.5" r="6.0"/><circle cx="25.6" cy="28.4" r="5.2"/><circle cx="39.8" cy="27.5" r="6.5"/><path d="M20.4 29Q20.4 34 26 34H47V27H24Z"/></g><g fill="url(#pg2)"><circle cx="33.0" cy="23.5" r="6.0"/><circle cx="25.6" cy="28.4" r="5.2"/><circle cx="39.8" cy="27.5" r="6.5"/><path d="M20.4 29Q20.4 34 26 34H47V27H24Z"/></g></g></svg>
<div class="hl" style="left:371px;top:759px;width:61px;height:1px;background:#2d5a87"></div>
<svg style="left:433px;top:700px;overflow:hidden" width="59" height="59" viewBox="0 0 59 59"><rect width="59" height="59" fill="url(#skyD)"/><path d="M29.60 4.40L32.53 14.89L39.24 6.32L37.93 17.13L47.42 11.78L42.07 21.27L52.88 19.96L44.31 26.67L54.80 29.60L44.31 32.53L52.88 39.24L42.07 37.93L47.42 47.42L37.93 42.07L39.24 52.88L32.53 44.31L29.60 54.80L26.67 44.31L19.96 52.88L21.27 42.07L11.78 47.42L17.13 37.93L6.32 39.24L14.89 32.53L4.40 29.60L14.89 26.67L6.32 19.96L17.13 21.27L11.78 11.78L21.27 17.13L19.96 6.32L26.67 14.89Z" fill="#f0d648"/><path d="M33.42 10.38L35.42 15.56L40.49 13.30L40.35 18.85L45.90 18.71L43.64 23.78L48.82 25.78L44.80 29.60L48.82 33.42L43.64 35.42L45.90 40.49L40.35 40.35L40.49 45.90L35.42 43.64L33.42 48.82L29.60 44.80L25.78 48.82L23.78 43.64L18.71 45.90L18.85 40.35L13.30 40.49L15.56 35.42L10.38 33.42L14.40 29.60L10.38 25.78L15.56 23.78L13.30 18.71L18.85 18.85L18.71 13.30L23.78 15.56L25.78 10.38L29.60 14.40Z" fill="#fff"/><circle cx="29.6" cy="29.6" r="14.9" fill="url(#sunG)"/></svg>
<div class="hl" style="left:433px;top:759px;width:59px;height:1px;background:#2d5a87"></div>
<svg style="left:493px;top:700px;overflow:hidden" width="59" height="59" viewBox="0 0 59 59"><rect width="59" height="59" fill="#0b0b12"/><circle cx="20.0" cy="22.1" r="14.1" fill="url(#moonG)"/><circle cx="19.2" cy="16.7" r="2.4" fill="#cfcf90" fill-opacity="0.75"/><circle cx="10.8" cy="18.7" r="2.0" fill="#cfcf90" fill-opacity="0.75"/><circle cx="24.6" cy="21.1" r="2.4" fill="#cfcf90" fill-opacity="0.75"/><circle cx="18.5" cy="26.1" r="2.4" fill="#cfcf90" fill-opacity="0.75"/><circle cx="17.0" cy="23.9" r="1.6" fill="#cfcf90" fill-opacity="0.75"/><circle cx="39.0" cy="8.0" r="1.15" fill="#86867a"/><circle cx="40.9" cy="20.5" r="1.15" fill="#86867a"/><circle cx="15.5" cy="45.5" r="1.15" fill="#86867a"/><circle cx="33.5" cy="49.4" r="1.15" fill="#86867a"/></svg>
<div class="hl" style="left:493px;top:759px;width:59px;height:1px;background:#2d5a87"></div>
<svg style="left:553px;top:700px;overflow:hidden" width="59" height="59" viewBox="0 0 59 59"><rect width="59" height="59" fill="#0b0b12"/><circle cx="20.0" cy="22.1" r="14.1" fill="url(#moonG)"/><circle cx="19.2" cy="16.7" r="2.4" fill="#cfcf90" fill-opacity="0.75"/><circle cx="10.8" cy="18.7" r="2.0" fill="#cfcf90" fill-opacity="0.75"/><circle cx="24.6" cy="21.1" r="2.4" fill="#cfcf90" fill-opacity="0.75"/><circle cx="18.5" cy="26.1" r="2.4" fill="#cfcf90" fill-opacity="0.75"/><circle cx="17.0" cy="23.9" r="1.6" fill="#cfcf90" fill-opacity="0.75"/><circle cx="39.0" cy="8.0" r="1.15" fill="#86867a"/><circle cx="40.9" cy="20.5" r="1.15" fill="#86867a"/><circle cx="15.5" cy="45.5" r="1.15" fill="#86867a"/><circle cx="33.5" cy="49.4" r="1.15" fill="#86867a"/></svg>
<div class="hl" style="left:553px;top:759px;width:59px;height:1px;background:#2d5a87"></div>
<svg style="left:613px;top:700px;overflow:hidden" width="59" height="59" viewBox="0 0 59 59"><rect width="59" height="59" fill="url(#skyD)"/><path d="M28.70 4.60L31.63 14.39L38.08 6.46L37.03 16.63L46.02 11.78L41.17 20.77L51.34 19.72L43.41 26.17L53.20 29.10L43.41 32.03L51.34 38.48L41.17 37.43L46.02 46.42L37.03 41.57L38.08 51.74L31.63 43.81L28.70 53.60L25.77 43.81L19.32 51.74L20.37 41.57L11.38 46.42L16.23 37.43L6.06 38.48L13.99 32.03L4.20 29.10L13.99 26.17L6.06 19.72L16.23 20.77L11.38 11.78L20.37 16.63L19.32 6.46L25.77 14.39Z" fill="#f2d94e" filter="url(#b1)"/><circle cx="28.7" cy="29.1" r="16.3" fill="#fff" filter="url(#b2)"/><circle cx="28.7" cy="29.1" r="14.5" fill="url(#sunG)"/><g transform="translate(24.3 20.8) scale(0.900 0.910)"><g fill="#7a7e86" stroke="#7a7e86" stroke-width="0.7"><circle cx="20.6" cy="7.0" r="6.6"/><circle cx="11.5" cy="12.5" r="6.2"/><circle cx="31.0" cy="11.5" r="6.6"/><circle cx="5.6" cy="19.5" r="5.6"/><circle cx="38.5" cy="18.0" r="6.5"/><path d="M0.2 21V26Q0.2 33 7 33H45V15L32 10H12L4 15Z"/></g><g fill="url(#pg0)"><circle cx="20.6" cy="7.0" r="6.6"/><circle cx="11.5" cy="12.5" r="6.2"/><circle cx="31.0" cy="11.5" r="6.6"/><circle cx="5.6" cy="19.5" r="5.6"/><circle cx="38.5" cy="18.0" r="6.5"/><path d="M0.2 21V26Q0.2 33 7 33H45V15L32 10H12L4 15Z"/></g><g fill="#7a7e86" stroke="#7a7e86" stroke-width="0.7"><circle cx="25.0" cy="17.5" r="6.0"/><circle cx="16.0" cy="22.5" r="7.0"/><circle cx="10.0" cy="27.6" r="5.6"/><path d="M4.4 28Q4.4 34 11 34H46V24H10Z"/></g><g fill="url(#pg1)"><circle cx="25.0" cy="17.5" r="6.0"/><circle cx="16.0" cy="22.5" r="7.0"/><circle cx="10.0" cy="27.6" r="5.6"/><path d="M4.4 28Q4.4 34 11 34H46V24H10Z"/></g><g fill="#7a7e86" stroke="#7a7e86" stroke-width="0.7"><circle cx="33.0" cy="23.5" r="6.0"/><circle cx="25.6" cy="28.4" r="5.2"/><circle cx="39.8" cy="27.5" r="6.5"/><path d="M20.4 29Q20.4 34 26 34H47V27H24Z"/></g><g fill="url(#pg2)"><circle cx="33.0" cy="23.5" r="6.0"/><circle cx="25.6" cy="28.4" r="5.2"/><circle cx="39.8" cy="27.5" r="6.5"/><path d="M20.4 29Q20.4 34 26 34H47V27H24Z"/></g></g></svg>
<div class="hl" style="left:613px;top:759px;width:59px;height:1px;background:#2d5a87"></div>
<svg style="left:673px;top:700px;overflow:hidden" width="59" height="59" viewBox="0 0 59 59"><rect width="59" height="59" fill="url(#skyG)"/><g transform="translate(-4.5 3.0) scale(0.720 0.640)"><g fill="#7c8088" stroke="#7c8088" stroke-width="0.9"><path d="M0.2 13.6Q0.2 8.5 5.5 8.5H41.5Q46.8 8.5 46.8 13.6Q46.8 18 41 18.3Q23.5 19.7 6 18.3Q0.2 18 0.2 13.6Z"/><circle cx="23.5" cy="7" r="7"/><circle cx="12.5" cy="9.8" r="5.6"/><circle cx="34.5" cy="9.8" r="5.6"/><circle cx="6.2" cy="13" r="4.8"/><circle cx="40.8" cy="13" r="4.8"/></g><g fill="url(#cg)"><path d="M0.2 13.6Q0.2 8.5 5.5 8.5H41.5Q46.8 8.5 46.8 13.6Q46.8 18 41 18.3Q23.5 19.7 6 18.3Q0.2 18 0.2 13.6Z"/><circle cx="23.5" cy="7" r="7"/><circle cx="12.5" cy="9.8" r="5.6"/><circle cx="34.5" cy="9.8" r="5.6"/><circle cx="6.2" cy="13" r="4.8"/><circle cx="40.8" cy="13" r="4.8"/></g><path d="M5 16C7 11 11 10 14 12.5C16 9 21 9 23.5 12.5C26 9 31 9 33 12.5C36 10 40 11 42 16C30 19 17 19 5 16Z" fill="#4e545c" fill-opacity="0.24"/></g><g transform="translate(42.0 3.0) scale(0.640 0.680)"><g fill="#7c8088" stroke="#7c8088" stroke-width="0.9"><path d="M0.2 13.6Q0.2 8.5 5.5 8.5H41.5Q46.8 8.5 46.8 13.6Q46.8 18 41 18.3Q23.5 19.7 6 18.3Q0.2 18 0.2 13.6Z"/><circle cx="23.5" cy="7" r="7"/><circle cx="12.5" cy="9.8" r="5.6"/><circle cx="34.5" cy="9.8" r="5.6"/><circle cx="6.2" cy="13" r="4.8"/><circle cx="40.8" cy="13" r="4.8"/></g><g fill="url(#cg)"><path d="M0.2 13.6Q0.2 8.5 5.5 8.5H41.5Q46.8 8.5 46.8 13.6Q46.8 18 41 18.3Q23.5 19.7 6 18.3Q0.2 18 0.2 13.6Z"/><circle cx="23.5" cy="7" r="7"/><circle cx="12.5" cy="9.8" r="5.6"/><circle cx="34.5" cy="9.8" r="5.6"/><circle cx="6.2" cy="13" r="4.8"/><circle cx="40.8" cy="13" r="4.8"/></g><path d="M5 16C7 11 11 10 14 12.5C16 9 21 9 23.5 12.5C26 9 31 9 33 12.5C36 10 40 11 42 16C30 19 17 19 5 16Z" fill="#4e545c" fill-opacity="0.24"/></g><g transform="translate(-13.5 11.4) scale(0.850 0.970)"><g fill="#7c8088" stroke="#7c8088" stroke-width="0.9"><path d="M0.2 13.6Q0.2 8.5 5.5 8.5H41.5Q46.8 8.5 46.8 13.6Q46.8 18 41 18.3Q23.5 19.7 6 18.3Q0.2 18 0.2 13.6Z"/><circle cx="23.5" cy="7" r="7"/><circle cx="12.5" cy="9.8" r="5.6"/><circle cx="34.5" cy="9.8" r="5.6"/><circle cx="6.2" cy="13" r="4.8"/><circle cx="40.8" cy="13" r="4.8"/></g><g fill="url(#cg)"><path d="M0.2 13.6Q0.2 8.5 5.5 8.5H41.5Q46.8 8.5 46.8 13.6Q46.8 18 41 18.3Q23.5 19.7 6 18.3Q0.2 18 0.2 13.6Z"/><circle cx="23.5" cy="7" r="7"/><circle cx="12.5" cy="9.8" r="5.6"/><circle cx="34.5" cy="9.8" r="5.6"/><circle cx="6.2" cy="13" r="4.8"/><circle cx="40.8" cy="13" r="4.8"/></g><path d="M5 16C7 11 11 10 14 12.5C16 9 21 9 23.5 12.5C26 9 31 9 33 12.5C36 10 40 11 42 16C30 19 17 19 5 16Z" fill="#4e545c" fill-opacity="0.24"/></g><g transform="translate(18.0 7.6) scale(0.920 0.980)"><g fill="#7c8088" stroke="#7c8088" stroke-width="0.9"><path d="M0.2 13.6Q0.2 8.5 5.5 8.5H41.5Q46.8 8.5 46.8 13.6Q46.8 18 41 18.3Q23.5 19.7 6 18.3Q0.2 18 0.2 13.6Z"/><circle cx="23.5" cy="7" r="7"/><circle cx="12.5" cy="9.8" r="5.6"/><circle cx="34.5" cy="9.8" r="5.6"/><circle cx="6.2" cy="13" r="4.8"/><circle cx="40.8" cy="13" r="4.8"/></g><g fill="url(#cg)"><path d="M0.2 13.6Q0.2 8.5 5.5 8.5H41.5Q46.8 8.5 46.8 13.6Q46.8 18 41 18.3Q23.5 19.7 6 18.3Q0.2 18 0.2 13.6Z"/><circle cx="23.5" cy="7" r="7"/><circle cx="12.5" cy="9.8" r="5.6"/><circle cx="34.5" cy="9.8" r="5.6"/><circle cx="6.2" cy="13" r="4.8"/><circle cx="40.8" cy="13" r="4.8"/></g><path d="M5 16C7 11 11 10 14 12.5C16 9 21 9 23.5 12.5C26 9 31 9 33 12.5C36 10 40 11 42 16C30 19 17 19 5 16Z" fill="#4e545c" fill-opacity="0.24"/></g><g transform="translate(4.0 17.4) scale(1.000 1.000)"><g fill="#7c8088" stroke="#7c8088" stroke-width="0.9"><path d="M0.2 13.6Q0.2 8.5 5.5 8.5H41.5Q46.8 8.5 46.8 13.6Q46.8 18 41 18.3Q23.5 19.7 6 18.3Q0.2 18 0.2 13.6Z"/><circle cx="23.5" cy="7" r="7"/><circle cx="12.5" cy="9.8" r="5.6"/><circle cx="34.5" cy="9.8" r="5.6"/><circle cx="6.2" cy="13" r="4.8"/><circle cx="40.8" cy="13" r="4.8"/></g><g fill="url(#cg)"><path d="M0.2 13.6Q0.2 8.5 5.5 8.5H41.5Q46.8 8.5 46.8 13.6Q46.8 18 41 18.3Q23.5 19.7 6 18.3Q0.2 18 0.2 13.6Z"/><circle cx="23.5" cy="7" r="7"/><circle cx="12.5" cy="9.8" r="5.6"/><circle cx="34.5" cy="9.8" r="5.6"/><circle cx="6.2" cy="13" r="4.8"/><circle cx="40.8" cy="13" r="4.8"/></g><path d="M5 16C7 11 11 10 14 12.5C16 9 21 9 23.5 12.5C26 9 31 9 33 12.5C36 10 40 11 42 16C30 19 17 19 5 16Z" fill="#4e545c" fill-opacity="0.24"/></g></svg>
<div class="hl" style="left:673px;top:759px;width:59px;height:1px;background:#2d5a87"></div>
<svg style="left:733px;top:700px;overflow:hidden" width="59" height="59" viewBox="0 0 59 59"><rect width="59" height="59" fill="#0b0b12"/><g transform="translate(-4.5 3.0) scale(0.720 0.640)"><g fill="#7c8088" stroke="#7c8088" stroke-width="0.9"><path d="M0.2 13.6Q0.2 8.5 5.5 8.5H41.5Q46.8 8.5 46.8 13.6Q46.8 18 41 18.3Q23.5 19.7 6 18.3Q0.2 18 0.2 13.6Z"/><circle cx="23.5" cy="7" r="7"/><circle cx="12.5" cy="9.8" r="5.6"/><circle cx="34.5" cy="9.8" r="5.6"/><circle cx="6.2" cy="13" r="4.8"/><circle cx="40.8" cy="13" r="4.8"/></g><g fill="url(#cg)"><path d="M0.2 13.6Q0.2 8.5 5.5 8.5H41.5Q46.8 8.5 46.8 13.6Q46.8 18 41 18.3Q23.5 19.7 6 18.3Q0.2 18 0.2 13.6Z"/><circle cx="23.5" cy="7" r="7"/><circle cx="12.5" cy="9.8" r="5.6"/><circle cx="34.5" cy="9.8" r="5.6"/><circle cx="6.2" cy="13" r="4.8"/><circle cx="40.8" cy="13" r="4.8"/></g><path d="M5 16C7 11 11 10 14 12.5C16 9 21 9 23.5 12.5C26 9 31 9 33 12.5C36 10 40 11 42 16C30 19 17 19 5 16Z" fill="#4e545c" fill-opacity="0.24"/></g><g transform="translate(42.0 3.0) scale(0.640 0.680)"><g fill="#7c8088" stroke="#7c8088" stroke-width="0.9"><path d="M0.2 13.6Q0.2 8.5 5.5 8.5H41.5Q46.8 8.5 46.8 13.6Q46.8 18 41 18.3Q23.5 19.7 6 18.3Q0.2 18 0.2 13.6Z"/><circle cx="23.5" cy="7" r="7"/><circle cx="12.5" cy="9.8" r="5.6"/><circle cx="34.5" cy="9.8" r="5.6"/><circle cx="6.2" cy="13" r="4.8"/><circle cx="40.8" cy="13" r="4.8"/></g><g fill="url(#cg)"><path d="M0.2 13.6Q0.2 8.5 5.5 8.5H41.5Q46.8 8.5 46.8 13.6Q46.8 18 41 18.3Q23.5 19.7 6 18.3Q0.2 18 0.2 13.6Z"/><circle cx="23.5" cy="7" r="7"/><circle cx="12.5" cy="9.8" r="5.6"/><circle cx="34.5" cy="9.8" r="5.6"/><circle cx="6.2" cy="13" r="4.8"/><circle cx="40.8" cy="13" r="4.8"/></g><path d="M5 16C7 11 11 10 14 12.5C16 9 21 9 23.5 12.5C26 9 31 9 33 12.5C36 10 40 11 42 16C30 19 17 19 5 16Z" fill="#4e545c" fill-opacity="0.24"/></g><g transform="translate(-13.5 11.4) scale(0.850 0.970)"><g fill="#7c8088" stroke="#7c8088" stroke-width="0.9"><path d="M0.2 13.6Q0.2 8.5 5.5 8.5H41.5Q46.8 8.5 46.8 13.6Q46.8 18 41 18.3Q23.5 19.7 6 18.3Q0.2 18 0.2 13.6Z"/><circle cx="23.5" cy="7" r="7"/><circle cx="12.5" cy="9.8" r="5.6"/><circle cx="34.5" cy="9.8" r="5.6"/><circle cx="6.2" cy="13" r="4.8"/><circle cx="40.8" cy="13" r="4.8"/></g><g fill="url(#cg)"><path d="M0.2 13.6Q0.2 8.5 5.5 8.5H41.5Q46.8 8.5 46.8 13.6Q46.8 18 41 18.3Q23.5 19.7 6 18.3Q0.2 18 0.2 13.6Z"/><circle cx="23.5" cy="7" r="7"/><circle cx="12.5" cy="9.8" r="5.6"/><circle cx="34.5" cy="9.8" r="5.6"/><circle cx="6.2" cy="13" r="4.8"/><circle cx="40.8" cy="13" r="4.8"/></g><path d="M5 16C7 11 11 10 14 12.5C16 9 21 9 23.5 12.5C26 9 31 9 33 12.5C36 10 40 11 42 16C30 19 17 19 5 16Z" fill="#4e545c" fill-opacity="0.24"/></g><g transform="translate(18.0 7.6) scale(0.920 0.980)"><g fill="#7c8088" stroke="#7c8088" stroke-width="0.9"><path d="M0.2 13.6Q0.2 8.5 5.5 8.5H41.5Q46.8 8.5 46.8 13.6Q46.8 18 41 18.3Q23.5 19.7 6 18.3Q0.2 18 0.2 13.6Z"/><circle cx="23.5" cy="7" r="7"/><circle cx="12.5" cy="9.8" r="5.6"/><circle cx="34.5" cy="9.8" r="5.6"/><circle cx="6.2" cy="13" r="4.8"/><circle cx="40.8" cy="13" r="4.8"/></g><g fill="url(#cg)"><path d="M0.2 13.6Q0.2 8.5 5.5 8.5H41.5Q46.8 8.5 46.8 13.6Q46.8 18 41 18.3Q23.5 19.7 6 18.3Q0.2 18 0.2 13.6Z"/><circle cx="23.5" cy="7" r="7"/><circle cx="12.5" cy="9.8" r="5.6"/><circle cx="34.5" cy="9.8" r="5.6"/><circle cx="6.2" cy="13" r="4.8"/><circle cx="40.8" cy="13" r="4.8"/></g><path d="M5 16C7 11 11 10 14 12.5C16 9 21 9 23.5 12.5C26 9 31 9 33 12.5C36 10 40 11 42 16C30 19 17 19 5 16Z" fill="#4e545c" fill-opacity="0.24"/></g><g transform="translate(7.8 17.4) scale(1.000 1.000)"><g fill="#7c8088" stroke="#7c8088" stroke-width="0.9"><path d="M0.2 13.6Q0.2 8.5 5.5 8.5H41.5Q46.8 8.5 46.8 13.6Q46.8 18 41 18.3Q23.5 19.7 6 18.3Q0.2 18 0.2 13.6Z"/><circle cx="23.5" cy="7" r="7"/><circle cx="12.5" cy="9.8" r="5.6"/><circle cx="34.5" cy="9.8" r="5.6"/><circle cx="6.2" cy="13" r="4.8"/><circle cx="40.8" cy="13" r="4.8"/></g><g fill="url(#cg)"><path d="M0.2 13.6Q0.2 8.5 5.5 8.5H41.5Q46.8 8.5 46.8 13.6Q46.8 18 41 18.3Q23.5 19.7 6 18.3Q0.2 18 0.2 13.6Z"/><circle cx="23.5" cy="7" r="7"/><circle cx="12.5" cy="9.8" r="5.6"/><circle cx="34.5" cy="9.8" r="5.6"/><circle cx="6.2" cy="13" r="4.8"/><circle cx="40.8" cy="13" r="4.8"/></g><path d="M5 16C7 11 11 10 14 12.5C16 9 21 9 23.5 12.5C26 9 31 9 33 12.5C36 10 40 11 42 16C30 19 17 19 5 16Z" fill="#4e545c" fill-opacity="0.24"/></g><g stroke-width="1.5" stroke-linecap="butt"><path d="M16.6 40L12 47.6M29.6 47.6L25.4 55.5" stroke="#a9a2c2"/><path d="M46 40L41.8 47.6" stroke="#e2e2ea"/></g></svg>
<div class="hl" style="left:733px;top:759px;width:59px;height:1px;background:#2d5a87"></div>
<svg style="left:793px;top:700px;overflow:hidden" width="59" height="59" viewBox="0 0 59 59"><rect width="59" height="59" fill="#0b0b12"/><g transform="translate(-4.5 3.0) scale(0.720 0.640)"><g fill="#7c8088" stroke="#7c8088" stroke-width="0.9"><path d="M0.2 13.6Q0.2 8.5 5.5 8.5H41.5Q46.8 8.5 46.8 13.6Q46.8 18 41 18.3Q23.5 19.7 6 18.3Q0.2 18 0.2 13.6Z"/><circle cx="23.5" cy="7" r="7"/><circle cx="12.5" cy="9.8" r="5.6"/><circle cx="34.5" cy="9.8" r="5.6"/><circle cx="6.2" cy="13" r="4.8"/><circle cx="40.8" cy="13" r="4.8"/></g><g fill="url(#cg)"><path d="M0.2 13.6Q0.2 8.5 5.5 8.5H41.5Q46.8 8.5 46.8 13.6Q46.8 18 41 18.3Q23.5 19.7 6 18.3Q0.2 18 0.2 13.6Z"/><circle cx="23.5" cy="7" r="7"/><circle cx="12.5" cy="9.8" r="5.6"/><circle cx="34.5" cy="9.8" r="5.6"/><circle cx="6.2" cy="13" r="4.8"/><circle cx="40.8" cy="13" r="4.8"/></g><path d="M5 16C7 11 11 10 14 12.5C16 9 21 9 23.5 12.5C26 9 31 9 33 12.5C36 10 40 11 42 16C30 19 17 19 5 16Z" fill="#4e545c" fill-opacity="0.24"/></g><g transform="translate(42.0 3.0) scale(0.640 0.680)"><g fill="#7c8088" stroke="#7c8088" stroke-width="0.9"><path d="M0.2 13.6Q0.2 8.5 5.5 8.5H41.5Q46.8 8.5 46.8 13.6Q46.8 18 41 18.3Q23.5 19.7 6 18.3Q0.2 18 0.2 13.6Z"/><circle cx="23.5" cy="7" r="7"/><circle cx="12.5" cy="9.8" r="5.6"/><circle cx="34.5" cy="9.8" r="5.6"/><circle cx="6.2" cy="13" r="4.8"/><circle cx="40.8" cy="13" r="4.8"/></g><g fill="url(#cg)"><path d="M0.2 13.6Q0.2 8.5 5.5 8.5H41.5Q46.8 8.5 46.8 13.6Q46.8 18 41 18.3Q23.5 19.7 6 18.3Q0.2 18 0.2 13.6Z"/><circle cx="23.5" cy="7" r="7"/><circle cx="12.5" cy="9.8" r="5.6"/><circle cx="34.5" cy="9.8" r="5.6"/><circle cx="6.2" cy="13" r="4.8"/><circle cx="40.8" cy="13" r="4.8"/></g><path d="M5 16C7 11 11 10 14 12.5C16 9 21 9 23.5 12.5C26 9 31 9 33 12.5C36 10 40 11 42 16C30 19 17 19 5 16Z" fill="#4e545c" fill-opacity="0.24"/></g><g transform="translate(-13.5 11.4) scale(0.850 0.970)"><g fill="#7c8088" stroke="#7c8088" stroke-width="0.9"><path d="M0.2 13.6Q0.2 8.5 5.5 8.5H41.5Q46.8 8.5 46.8 13.6Q46.8 18 41 18.3Q23.5 19.7 6 18.3Q0.2 18 0.2 13.6Z"/><circle cx="23.5" cy="7" r="7"/><circle cx="12.5" cy="9.8" r="5.6"/><circle cx="34.5" cy="9.8" r="5.6"/><circle cx="6.2" cy="13" r="4.8"/><circle cx="40.8" cy="13" r="4.8"/></g><g fill="url(#cg)"><path d="M0.2 13.6Q0.2 8.5 5.5 8.5H41.5Q46.8 8.5 46.8 13.6Q46.8 18 41 18.3Q23.5 19.7 6 18.3Q0.2 18 0.2 13.6Z"/><circle cx="23.5" cy="7" r="7"/><circle cx="12.5" cy="9.8" r="5.6"/><circle cx="34.5" cy="9.8" r="5.6"/><circle cx="6.2" cy="13" r="4.8"/><circle cx="40.8" cy="13" r="4.8"/></g><path d="M5 16C7 11 11 10 14 12.5C16 9 21 9 23.5 12.5C26 9 31 9 33 12.5C36 10 40 11 42 16C30 19 17 19 5 16Z" fill="#4e545c" fill-opacity="0.24"/></g><g transform="translate(18.0 7.6) scale(0.920 0.980)"><g fill="#7c8088" stroke="#7c8088" stroke-width="0.9"><path d="M0.2 13.6Q0.2 8.5 5.5 8.5H41.5Q46.8 8.5 46.8 13.6Q46.8 18 41 18.3Q23.5 19.7 6 18.3Q0.2 18 0.2 13.6Z"/><circle cx="23.5" cy="7" r="7"/><circle cx="12.5" cy="9.8" r="5.6"/><circle cx="34.5" cy="9.8" r="5.6"/><circle cx="6.2" cy="13" r="4.8"/><circle cx="40.8" cy="13" r="4.8"/></g><g fill="url(#cg)"><path d="M0.2 13.6Q0.2 8.5 5.5 8.5H41.5Q46.8 8.5 46.8 13.6Q46.8 18 41 18.3Q23.5 19.7 6 18.3Q0.2 18 0.2 13.6Z"/><circle cx="23.5" cy="7" r="7"/><circle cx="12.5" cy="9.8" r="5.6"/><circle cx="34.5" cy="9.8" r="5.6"/><circle cx="6.2" cy="13" r="4.8"/><circle cx="40.8" cy="13" r="4.8"/></g><path d="M5 16C7 11 11 10 14 12.5C16 9 21 9 23.5 12.5C26 9 31 9 33 12.5C36 10 40 11 42 16C30 19 17 19 5 16Z" fill="#4e545c" fill-opacity="0.24"/></g><g transform="translate(7.8 17.4) scale(1.000 1.000)"><g fill="#7c8088" stroke="#7c8088" stroke-width="0.9"><path d="M0.2 13.6Q0.2 8.5 5.5 8.5H41.5Q46.8 8.5 46.8 13.6Q46.8 18 41 18.3Q23.5 19.7 6 18.3Q0.2 18 0.2 13.6Z"/><circle cx="23.5" cy="7" r="7"/><circle cx="12.5" cy="9.8" r="5.6"/><circle cx="34.5" cy="9.8" r="5.6"/><circle cx="6.2" cy="13" r="4.8"/><circle cx="40.8" cy="13" r="4.8"/></g><g fill="url(#cg)"><path d="M0.2 13.6Q0.2 8.5 5.5 8.5H41.5Q46.8 8.5 46.8 13.6Q46.8 18 41 18.3Q23.5 19.7 6 18.3Q0.2 18 0.2 13.6Z"/><circle cx="23.5" cy="7" r="7"/><circle cx="12.5" cy="9.8" r="5.6"/><circle cx="34.5" cy="9.8" r="5.6"/><circle cx="6.2" cy="13" r="4.8"/><circle cx="40.8" cy="13" r="4.8"/></g><path d="M5 16C7 11 11 10 14 12.5C16 9 21 9 23.5 12.5C26 9 31 9 33 12.5C36 10 40 11 42 16C30 19 17 19 5 16Z" fill="#4e545c" fill-opacity="0.24"/></g><g stroke-width="1.5" stroke-linecap="butt"><path d="M16.6 40L12 47.6M29.6 47.6L25.4 55.5" stroke="#a9a2c2"/><path d="M46 40L41.8 47.6" stroke="#e2e2ea"/></g></svg>
<div class="hl" style="left:793px;top:759px;width:59px;height:1px;background:#2d5a87"></div>
<svg style="left:853px;top:700px;overflow:hidden" width="59" height="59" viewBox="0 0 59 59"><rect width="59" height="59" fill="url(#skyR)"/><g transform="translate(-4.5 3.0) scale(0.720 0.640)"><g fill="#7c8088" stroke="#7c8088" stroke-width="0.9"><path d="M0.2 13.6Q0.2 8.5 5.5 8.5H41.5Q46.8 8.5 46.8 13.6Q46.8 18 41 18.3Q23.5 19.7 6 18.3Q0.2 18 0.2 13.6Z"/><circle cx="23.5" cy="7" r="7"/><circle cx="12.5" cy="9.8" r="5.6"/><circle cx="34.5" cy="9.8" r="5.6"/><circle cx="6.2" cy="13" r="4.8"/><circle cx="40.8" cy="13" r="4.8"/></g><g fill="url(#cg)"><path d="M0.2 13.6Q0.2 8.5 5.5 8.5H41.5Q46.8 8.5 46.8 13.6Q46.8 18 41 18.3Q23.5 19.7 6 18.3Q0.2 18 0.2 13.6Z"/><circle cx="23.5" cy="7" r="7"/><circle cx="12.5" cy="9.8" r="5.6"/><circle cx="34.5" cy="9.8" r="5.6"/><circle cx="6.2" cy="13" r="4.8"/><circle cx="40.8" cy="13" r="4.8"/></g><path d="M5 16C7 11 11 10 14 12.5C16 9 21 9 23.5 12.5C26 9 31 9 33 12.5C36 10 40 11 42 16C30 19 17 19 5 16Z" fill="#4e545c" fill-opacity="0.24"/></g><g transform="translate(42.0 3.0) scale(0.640 0.680)"><g fill="#7c8088" stroke="#7c8088" stroke-width="0.9"><path d="M0.2 13.6Q0.2 8.5 5.5 8.5H41.5Q46.8 8.5 46.8 13.6Q46.8 18 41 18.3Q23.5 19.7 6 18.3Q0.2 18 0.2 13.6Z"/><circle cx="23.5" cy="7" r="7"/><circle cx="12.5" cy="9.8" r="5.6"/><circle cx="34.5" cy="9.8" r="5.6"/><circle cx="6.2" cy="13" r="4.8"/><circle cx="40.8" cy="13" r="4.8"/></g><g fill="url(#cg)"><path d="M0.2 13.6Q0.2 8.5 5.5 8.5H41.5Q46.8 8.5 46.8 13.6Q46.8 18 41 18.3Q23.5 19.7 6 18.3Q0.2 18 0.2 13.6Z"/><circle cx="23.5" cy="7" r="7"/><circle cx="12.5" cy="9.8" r="5.6"/><circle cx="34.5" cy="9.8" r="5.6"/><circle cx="6.2" cy="13" r="4.8"/><circle cx="40.8" cy="13" r="4.8"/></g><path d="M5 16C7 11 11 10 14 12.5C16 9 21 9 23.5 12.5C26 9 31 9 33 12.5C36 10 40 11 42 16C30 19 17 19 5 16Z" fill="#4e545c" fill-opacity="0.24"/></g><g transform="translate(-13.5 11.4) scale(0.850 0.970)"><g fill="#7c8088" stroke="#7c8088" stroke-width="0.9"><path d="M0.2 13.6Q0.2 8.5 5.5 8.5H41.5Q46.8 8.5 46.8 13.6Q46.8 18 41 18.3Q23.5 19.7 6 18.3Q0.2 18 0.2 13.6Z"/><circle cx="23.5" cy="7" r="7"/><circle cx="12.5" cy="9.8" r="5.6"/><circle cx="34.5" cy="9.8" r="5.6"/><circle cx="6.2" cy="13" r="4.8"/><circle cx="40.8" cy="13" r="4.8"/></g><g fill="url(#cg)"><path d="M0.2 13.6Q0.2 8.5 5.5 8.5H41.5Q46.8 8.5 46.8 13.6Q46.8 18 41 18.3Q23.5 19.7 6 18.3Q0.2 18 0.2 13.6Z"/><circle cx="23.5" cy="7" r="7"/><circle cx="12.5" cy="9.8" r="5.6"/><circle cx="34.5" cy="9.8" r="5.6"/><circle cx="6.2" cy="13" r="4.8"/><circle cx="40.8" cy="13" r="4.8"/></g><path d="M5 16C7 11 11 10 14 12.5C16 9 21 9 23.5 12.5C26 9 31 9 33 12.5C36 10 40 11 42 16C30 19 17 19 5 16Z" fill="#4e545c" fill-opacity="0.24"/></g><g transform="translate(18.0 7.6) scale(0.920 0.980)"><g fill="#7c8088" stroke="#7c8088" stroke-width="0.9"><path d="M0.2 13.6Q0.2 8.5 5.5 8.5H41.5Q46.8 8.5 46.8 13.6Q46.8 18 41 18.3Q23.5 19.7 6 18.3Q0.2 18 0.2 13.6Z"/><circle cx="23.5" cy="7" r="7"/><circle cx="12.5" cy="9.8" r="5.6"/><circle cx="34.5" cy="9.8" r="5.6"/><circle cx="6.2" cy="13" r="4.8"/><circle cx="40.8" cy="13" r="4.8"/></g><g fill="url(#cg)"><path d="M0.2 13.6Q0.2 8.5 5.5 8.5H41.5Q46.8 8.5 46.8 13.6Q46.8 18 41 18.3Q23.5 19.7 6 18.3Q0.2 18 0.2 13.6Z"/><circle cx="23.5" cy="7" r="7"/><circle cx="12.5" cy="9.8" r="5.6"/><circle cx="34.5" cy="9.8" r="5.6"/><circle cx="6.2" cy="13" r="4.8"/><circle cx="40.8" cy="13" r="4.8"/></g><path d="M5 16C7 11 11 10 14 12.5C16 9 21 9 23.5 12.5C26 9 31 9 33 12.5C36 10 40 11 42 16C30 19 17 19 5 16Z" fill="#4e545c" fill-opacity="0.24"/></g><g transform="translate(7.8 17.4) scale(1.000 1.000)"><g fill="#7c8088" stroke="#7c8088" stroke-width="0.9"><path d="M0.2 13.6Q0.2 8.5 5.5 8.5H41.5Q46.8 8.5 46.8 13.6Q46.8 18 41 18.3Q23.5 19.7 6 18.3Q0.2 18 0.2 13.6Z"/><circle cx="23.5" cy="7" r="7"/><circle cx="12.5" cy="9.8" r="5.6"/><circle cx="34.5" cy="9.8" r="5.6"/><circle cx="6.2" cy="13" r="4.8"/><circle cx="40.8" cy="13" r="4.8"/></g><g fill="url(#cg)"><path d="M0.2 13.6Q0.2 8.5 5.5 8.5H41.5Q46.8 8.5 46.8 13.6Q46.8 18 41 18.3Q23.5 19.7 6 18.3Q0.2 18 0.2 13.6Z"/><circle cx="23.5" cy="7" r="7"/><circle cx="12.5" cy="9.8" r="5.6"/><circle cx="34.5" cy="9.8" r="5.6"/><circle cx="6.2" cy="13" r="4.8"/><circle cx="40.8" cy="13" r="4.8"/></g><path d="M5 16C7 11 11 10 14 12.5C16 9 21 9 23.5 12.5C26 9 31 9 33 12.5C36 10 40 11 42 16C30 19 17 19 5 16Z" fill="#4e545c" fill-opacity="0.24"/></g><g stroke-width="1.5" stroke-linecap="butt"><path d="M16.6 40L12 47.6M29.6 47.6L25.4 55.5" stroke="#c9b9d6"/><path d="M46 40L41.8 47.6" stroke="#e2e2ea"/></g></svg>
<div class="hl" style="left:853px;top:759px;width:59px;height:1px;background:#2d5a87"></div>
<svg style="left:913px;top:700px;overflow:hidden" width="59" height="59" viewBox="0 0 59 59"><rect width="59" height="59" fill="url(#skyG)"/><g transform="translate(-4.5 3.0) scale(0.720 0.640)"><g fill="#7c8088" stroke="#7c8088" stroke-width="0.9"><path d="M0.2 13.6Q0.2 8.5 5.5 8.5H41.5Q46.8 8.5 46.8 13.6Q46.8 18 41 18.3Q23.5 19.7 6 18.3Q0.2 18 0.2 13.6Z"/><circle cx="23.5" cy="7" r="7"/><circle cx="12.5" cy="9.8" r="5.6"/><circle cx="34.5" cy="9.8" r="5.6"/><circle cx="6.2" cy="13" r="4.8"/><circle cx="40.8" cy="13" r="4.8"/></g><g fill="url(#cg)"><path d="M0.2 13.6Q0.2 8.5 5.5 8.5H41.5Q46.8 8.5 46.8 13.6Q46.8 18 41 18.3Q23.5 19.7 6 18.3Q0.2 18 0.2 13.6Z"/><circle cx="23.5" cy="7" r="7"/><circle cx="12.5" cy="9.8" r="5.6"/><circle cx="34.5" cy="9.8" r="5.6"/><circle cx="6.2" cy="13" r="4.8"/><circle cx="40.8" cy="13" r="4.8"/></g><path d="M5 16C7 11 11 10 14 12.5C16 9 21 9 23.5 12.5C26 9 31 9 33 12.5C36 10 40 11 42 16C30 19 17 19 5 16Z" fill="#4e545c" fill-opacity="0.24"/></g><g transform="translate(42.0 3.0) scale(0.640 0.680)"><g fill="#7c8088" stroke="#7c8088" stroke-width="0.9"><path d="M0.2 13.6Q0.2 8.5 5.5 8.5H41.5Q46.8 8.5 46.8 13.6Q46.8 18 41 18.3Q23.5 19.7 6 18.3Q0.2 18 0.2 13.6Z"/><circle cx="23.5" cy="7" r="7"/><circle cx="12.5" cy="9.8" r="5.6"/><circle cx="34.5" cy="9.8" r="5.6"/><circle cx="6.2" cy="13" r="4.8"/><circle cx="40.8" cy="13" r="4.8"/></g><g fill="url(#cg)"><path d="M0.2 13.6Q0.2 8.5 5.5 8.5H41.5Q46.8 8.5 46.8 13.6Q46.8 18 41 18.3Q23.5 19.7 6 18.3Q0.2 18 0.2 13.6Z"/><circle cx="23.5" cy="7" r="7"/><circle cx="12.5" cy="9.8" r="5.6"/><circle cx="34.5" cy="9.8" r="5.6"/><circle cx="6.2" cy="13" r="4.8"/><circle cx="40.8" cy="13" r="4.8"/></g><path d="M5 16C7 11 11 10 14 12.5C16 9 21 9 23.5 12.5C26 9 31 9 33 12.5C36 10 40 11 42 16C30 19 17 19 5 16Z" fill="#4e545c" fill-opacity="0.24"/></g><g transform="translate(-13.5 11.4) scale(0.850 0.970)"><g fill="#7c8088" stroke="#7c8088" stroke-width="0.9"><path d="M0.2 13.6Q0.2 8.5 5.5 8.5H41.5Q46.8 8.5 46.8 13.6Q46.8 18 41 18.3Q23.5 19.7 6 18.3Q0.2 18 0.2 13.6Z"/><circle cx="23.5" cy="7" r="7"/><circle cx="12.5" cy="9.8" r="5.6"/><circle cx="34.5" cy="9.8" r="5.6"/><circle cx="6.2" cy="13" r="4.8"/><circle cx="40.8" cy="13" r="4.8"/></g><g fill="url(#cg)"><path d="M0.2 13.6Q0.2 8.5 5.5 8.5H41.5Q46.8 8.5 46.8 13.6Q46.8 18 41 18.3Q23.5 19.7 6 18.3Q0.2 18 0.2 13.6Z"/><circle cx="23.5" cy="7" r="7"/><circle cx="12.5" cy="9.8" r="5.6"/><circle cx="34.5" cy="9.8" r="5.6"/><circle cx="6.2" cy="13" r="4.8"/><circle cx="40.8" cy="13" r="4.8"/></g><path d="M5 16C7 11 11 10 14 12.5C16 9 21 9 23.5 12.5C26 9 31 9 33 12.5C36 10 40 11 42 16C30 19 17 19 5 16Z" fill="#4e545c" fill-opacity="0.24"/></g><g transform="translate(18.0 7.6) scale(0.920 0.980)"><g fill="#7c8088" stroke="#7c8088" stroke-width="0.9"><path d="M0.2 13.6Q0.2 8.5 5.5 8.5H41.5Q46.8 8.5 46.8 13.6Q46.8 18 41 18.3Q23.5 19.7 6 18.3Q0.2 18 0.2 13.6Z"/><circle cx="23.5" cy="7" r="7"/><circle cx="12.5" cy="9.8" r="5.6"/><circle cx="34.5" cy="9.8" r="5.6"/><circle cx="6.2" cy="13" r="4.8"/><circle cx="40.8" cy="13" r="4.8"/></g><g fill="url(#cg)"><path d="M0.2 13.6Q0.2 8.5 5.5 8.5H41.5Q46.8 8.5 46.8 13.6Q46.8 18 41 18.3Q23.5 19.7 6 18.3Q0.2 18 0.2 13.6Z"/><circle cx="23.5" cy="7" r="7"/><circle cx="12.5" cy="9.8" r="5.6"/><circle cx="34.5" cy="9.8" r="5.6"/><circle cx="6.2" cy="13" r="4.8"/><circle cx="40.8" cy="13" r="4.8"/></g><path d="M5 16C7 11 11 10 14 12.5C16 9 21 9 23.5 12.5C26 9 31 9 33 12.5C36 10 40 11 42 16C30 19 17 19 5 16Z" fill="#4e545c" fill-opacity="0.24"/></g><g transform="translate(4.0 17.4) scale(1.000 1.000)"><g fill="#7c8088" stroke="#7c8088" stroke-width="0.9"><path d="M0.2 13.6Q0.2 8.5 5.5 8.5H41.5Q46.8 8.5 46.8 13.6Q46.8 18 41 18.3Q23.5 19.7 6 18.3Q0.2 18 0.2 13.6Z"/><circle cx="23.5" cy="7" r="7"/><circle cx="12.5" cy="9.8" r="5.6"/><circle cx="34.5" cy="9.8" r="5.6"/><circle cx="6.2" cy="13" r="4.8"/><circle cx="40.8" cy="13" r="4.8"/></g><g fill="url(#cg)"><path d="M0.2 13.6Q0.2 8.5 5.5 8.5H41.5Q46.8 8.5 46.8 13.6Q46.8 18 41 18.3Q23.5 19.7 6 18.3Q0.2 18 0.2 13.6Z"/><circle cx="23.5" cy="7" r="7"/><circle cx="12.5" cy="9.8" r="5.6"/><circle cx="34.5" cy="9.8" r="5.6"/><circle cx="6.2" cy="13" r="4.8"/><circle cx="40.8" cy="13" r="4.8"/></g><path d="M5 16C7 11 11 10 14 12.5C16 9 21 9 23.5 12.5C26 9 31 9 33 12.5C36 10 40 11 42 16C30 19 17 19 5 16Z" fill="#4e545c" fill-opacity="0.24"/></g></svg>
<div class="hl" style="left:913px;top:759px;width:59px;height:1px;background:#2d5a87"></div>
<svg style="left:973px;top:700px;overflow:hidden" width="59" height="59" viewBox="0 0 59 59"><rect width="59" height="59" fill="#0b0b12"/><circle cx="17.0" cy="18.0" r="13.1" fill="url(#moonG)"/><circle cx="16.3" cy="13.0" r="2.2" fill="#cfcf90" fill-opacity="0.75"/><circle cx="8.5" cy="14.8" r="1.9" fill="#cfcf90" fill-opacity="0.75"/><circle cx="21.3" cy="17.1" r="2.2" fill="#cfcf90" fill-opacity="0.75"/><circle cx="15.6" cy="21.7" r="2.2" fill="#cfcf90" fill-opacity="0.75"/><circle cx="14.2" cy="19.7" r="1.5" fill="#cfcf90" fill-opacity="0.75"/><g transform="translate(14.0 6.7) scale(1.000 0.920)"><g fill="#7a7e86" stroke="#7a7e86" stroke-width="0.7"><circle cx="20.6" cy="7.0" r="6.6"/><circle cx="11.5" cy="12.5" r="6.2"/><circle cx="31.0" cy="11.5" r="6.6"/><circle cx="5.6" cy="19.5" r="5.6"/><circle cx="38.5" cy="18.0" r="6.5"/><path d="M0.2 21V26Q0.2 33 7 33H45V15L32 10H12L4 15Z"/></g><g fill="url(#pg0)"><circle cx="20.6" cy="7.0" r="6.6"/><circle cx="11.5" cy="12.5" r="6.2"/><circle cx="31.0" cy="11.5" r="6.6"/><circle cx="5.6" cy="19.5" r="5.6"/><circle cx="38.5" cy="18.0" r="6.5"/><path d="M0.2 21V26Q0.2 33 7 33H45V15L32 10H12L4 15Z"/></g><g fill="#7a7e86" stroke="#7a7e86" stroke-width="0.7"><circle cx="25.0" cy="17.5" r="6.0"/><circle cx="16.0" cy="22.5" r="7.0"/><circle cx="10.0" cy="27.6" r="5.6"/><path d="M4.4 28Q4.4 34 11 34H46V24H10Z"/></g><g fill="url(#pg1)"><circle cx="25.0" cy="17.5" r="6.0"/><circle cx="16.0" cy="22.5" r="7.0"/><circle cx="10.0" cy="27.6" r="5.6"/><path d="M4.4 28Q4.4 34 11 34H46V24H10Z"/></g><g fill="#7a7e86" stroke="#7a7e86" stroke-width="0.7"><circle cx="33.0" cy="23.5" r="6.0"/><circle cx="25.6" cy="28.4" r="5.2"/><circle cx="39.8" cy="27.5" r="6.5"/><path d="M20.4 29Q20.4 34 26 34H47V27H24Z"/></g><g fill="url(#pg2)"><circle cx="33.0" cy="23.5" r="6.0"/><circle cx="25.6" cy="28.4" r="5.2"/><circle cx="39.8" cy="27.5" r="6.5"/><path d="M20.4 29Q20.4 34 26 34H47V27H24Z"/></g></g><path d="M23.3 40.4L19.1 48.4M38.4 40.4L34.2 48.4M53.5 40.4L49.3 48.4M27.5 49.2L23.3 56.8M42.6 49.2L38.4 56.8" stroke="#7c7689" stroke-width="1.5"/></svg>
<div class="hl" style="left:973px;top:759px;width:59px;height:1px;background:#2d5a87"></div>
<svg style="left:1035px;top:700px;overflow:hidden" width="59" height="59" viewBox="0 0 59 59"><rect width="59" height="59" fill="#0b0b12"/><circle cx="17.0" cy="18.0" r="13.1" fill="url(#moonG)"/><circle cx="16.3" cy="13.0" r="2.2" fill="#cfcf90" fill-opacity="0.75"/><circle cx="8.5" cy="14.8" r="1.9" fill="#cfcf90" fill-opacity="0.75"/><circle cx="21.3" cy="17.1" r="2.2" fill="#cfcf90" fill-opacity="0.75"/><circle cx="15.6" cy="21.7" r="2.2" fill="#cfcf90" fill-opacity="0.75"/><circle cx="14.2" cy="19.7" r="1.5" fill="#cfcf90" fill-opacity="0.75"/><g transform="translate(14.0 6.7) scale(1.000 0.920)"><g fill="#7a7e86" stroke="#7a7e86" stroke-width="0.7"><circle cx="20.6" cy="7.0" r="6.6"/><circle cx="11.5" cy="12.5" r="6.2"/><circle cx="31.0" cy="11.5" r="6.6"/><circle cx="5.6" cy="19.5" r="5.6"/><circle cx="38.5" cy="18.0" r="6.5"/><path d="M0.2 21V26Q0.2 33 7 33H45V15L32 10H12L4 15Z"/></g><g fill="url(#pg0)"><circle cx="20.6" cy="7.0" r="6.6"/><circle cx="11.5" cy="12.5" r="6.2"/><circle cx="31.0" cy="11.5" r="6.6"/><circle cx="5.6" cy="19.5" r="5.6"/><circle cx="38.5" cy="18.0" r="6.5"/><path d="M0.2 21V26Q0.2 33 7 33H45V15L32 10H12L4 15Z"/></g><g fill="#7a7e86" stroke="#7a7e86" stroke-width="0.7"><circle cx="25.0" cy="17.5" r="6.0"/><circle cx="16.0" cy="22.5" r="7.0"/><circle cx="10.0" cy="27.6" r="5.6"/><path d="M4.4 28Q4.4 34 11 34H46V24H10Z"/></g><g fill="url(#pg1)"><circle cx="25.0" cy="17.5" r="6.0"/><circle cx="16.0" cy="22.5" r="7.0"/><circle cx="10.0" cy="27.6" r="5.6"/><path d="M4.4 28Q4.4 34 11 34H46V24H10Z"/></g><g fill="#7a7e86" stroke="#7a7e86" stroke-width="0.7"><circle cx="33.0" cy="23.5" r="6.0"/><circle cx="25.6" cy="28.4" r="5.2"/><circle cx="39.8" cy="27.5" r="6.5"/><path d="M20.4 29Q20.4 34 26 34H47V27H24Z"/></g><g fill="url(#pg2)"><circle cx="33.0" cy="23.5" r="6.0"/><circle cx="25.6" cy="28.4" r="5.2"/><circle cx="39.8" cy="27.5" r="6.5"/><path d="M20.4 29Q20.4 34 26 34H47V27H24Z"/></g></g><path d="M23.3 40.4L19.1 48.4M38.4 40.4L34.2 48.4M53.5 40.4L49.3 48.4M27.5 49.2L23.3 56.8M42.6 49.2L38.4 56.8" stroke="#7c7689" stroke-width="1.5"/></svg>
<div class="hl" style="left:1033px;top:759px;width:64px;height:1px;background:#2d5a87"></div>
<svg style="left:1098px;top:700px;overflow:hidden" width="59" height="59" viewBox="0 0 59 59"><rect width="59" height="59" fill="url(#skyD)"/><path d="M28.70 4.60L31.63 14.39L38.08 6.46L37.03 16.63L46.02 11.78L41.17 20.77L51.34 19.72L43.41 26.17L53.20 29.10L43.41 32.03L51.34 38.48L41.17 37.43L46.02 46.42L37.03 41.57L38.08 51.74L31.63 43.81L28.70 53.60L25.77 43.81L19.32 51.74L20.37 41.57L11.38 46.42L16.23 37.43L6.06 38.48L13.99 32.03L4.20 29.10L13.99 26.17L6.06 19.72L16.23 20.77L11.38 11.78L20.37 16.63L19.32 6.46L25.77 14.39Z" fill="#f2d94e" filter="url(#b1)"/><circle cx="28.7" cy="29.1" r="16.3" fill="#fff" filter="url(#b2)"/><circle cx="28.7" cy="29.1" r="14.5" fill="url(#sunG)"/><g transform="translate(24.3 20.8) scale(0.900 0.910)"><g fill="#7a7e86" stroke="#7a7e86" stroke-width="0.7"><circle cx="20.6" cy="7.0" r="6.6"/><circle cx="11.5" cy="12.5" r="6.2"/><circle cx="31.0" cy="11.5" r="6.6"/><circle cx="5.6" cy="19.5" r="5.6"/><circle cx="38.5" cy="18.0" r="6.5"/><path d="M0.2 21V26Q0.2 33 7 33H45V15L32 10H12L4 15Z"/></g><g fill="url(#pg0)"><circle cx="20.6" cy="7.0" r="6.6"/><circle cx="11.5" cy="12.5" r="6.2"/><circle cx="31.0" cy="11.5" r="6.6"/><circle cx="5.6" cy="19.5" r="5.6"/><circle cx="38.5" cy="18.0" r="6.5"/><path d="M0.2 21V26Q0.2 33 7 33H45V15L32 10H12L4 15Z"/></g><g fill="#7a7e86" stroke="#7a7e86" stroke-width="0.7"><circle cx="25.0" cy="17.5" r="6.0"/><circle cx="16.0" cy="22.5" r="7.0"/><circle cx="10.0" cy="27.6" r="5.6"/><path d="M4.4 28Q4.4 34 11 34H46V24H10Z"/></g><g fill="url(#pg1)"><circle cx="25.0" cy="17.5" r="6.0"/><circle cx="16.0" cy="22.5" r="7.0"/><circle cx="10.0" cy="27.6" r="5.6"/><path d="M4.4 28Q4.4 34 11 34H46V24H10Z"/></g><g fill="#7a7e86" stroke="#7a7e86" stroke-width="0.7"><circle cx="33.0" cy="23.5" r="6.0"/><circle cx="25.6" cy="28.4" r="5.2"/><circle cx="39.8" cy="27.5" r="6.5"/><path d="M20.4 29Q20.4 34 26 34H47V27H24Z"/></g><g fill="url(#pg2)"><circle cx="33.0" cy="23.5" r="6.0"/><circle cx="25.6" cy="28.4" r="5.2"/><circle cx="39.8" cy="27.5" r="6.5"/><path d="M20.4 29Q20.4 34 26 34H47V27H24Z"/></g></g></svg>
<div class="hl" style="left:1098px;top:759px;width:59px;height:1px;background:#2d5a87"></div>
<svg style="left:1158px;top:700px;overflow:hidden" width="59" height="59" viewBox="0 0 59 59"><rect width="59" height="59" fill="url(#skyD)"/><path d="M29.60 4.40L32.53 14.89L39.24 6.32L37.93 17.13L47.42 11.78L42.07 21.27L52.88 19.96L44.31 26.67L54.80 29.60L44.31 32.53L52.88 39.24L42.07 37.93L47.42 47.42L37.93 42.07L39.24 52.88L32.53 44.31L29.60 54.80L26.67 44.31L19.96 52.88L21.27 42.07L11.78 47.42L17.13 37.93L6.32 39.24L14.89 32.53L4.40 29.60L14.89 26.67L6.32 19.96L17.13 21.27L11.78 11.78L21.27 17.13L19.96 6.32L26.67 14.89Z" fill="#f0d648"/><path d="M33.42 10.38L35.42 15.56L40.49 13.30L40.35 18.85L45.90 18.71L43.64 23.78L48.82 25.78L44.80 29.60L48.82 33.42L43.64 35.42L45.90 40.49L40.35 40.35L40.49 45.90L35.42 43.64L33.42 48.82L29.60 44.80L25.78 48.82L23.78 43.64L18.71 45.90L18.85 40.35L13.30 40.49L15.56 35.42L10.38 33.42L14.40 29.60L10.38 25.78L15.56 23.78L13.30 18.71L18.85 18.85L18.71 13.30L23.78 15.56L25.78 10.38L29.60 14.40Z" fill="#fff"/><circle cx="29.6" cy="29.6" r="14.9" fill="url(#sunG)"/></svg>
<div class="hl" style="left:1158px;top:759px;width:59px;height:1px;background:#2d5a87"></div>
<svg style="left:1218px;top:700px;overflow:hidden" width="59" height="59" viewBox="0 0 59 59"><rect width="59" height="59" fill="#0b0b12"/><circle cx="20.0" cy="22.1" r="14.1" fill="url(#moonG)"/><circle cx="19.2" cy="16.7" r="2.4" fill="#cfcf90" fill-opacity="0.75"/><circle cx="10.8" cy="18.7" r="2.0" fill="#cfcf90" fill-opacity="0.75"/><circle cx="24.6" cy="21.1" r="2.4" fill="#cfcf90" fill-opacity="0.75"/><circle cx="18.5" cy="26.1" r="2.4" fill="#cfcf90" fill-opacity="0.75"/><circle cx="17.0" cy="23.9" r="1.6" fill="#cfcf90" fill-opacity="0.75"/><circle cx="39.0" cy="8.0" r="1.15" fill="#86867a"/><circle cx="40.9" cy="20.5" r="1.15" fill="#86867a"/><circle cx="15.5" cy="45.5" r="1.15" fill="#86867a"/><circle cx="33.5" cy="49.4" r="1.15" fill="#86867a"/></svg>
<div class="hl" style="left:1218px;top:759px;width:59px;height:1px;background:#2d5a87"></div>
<svg style="left:1278px;top:700px;overflow:hidden" width="59" height="59" viewBox="0 0 59 59"><rect width="59" height="59" fill="#0b0b12"/><circle cx="20.0" cy="22.1" r="14.1" fill="url(#moonG)"/><circle cx="19.2" cy="16.7" r="2.4" fill="#cfcf90" fill-opacity="0.75"/><circle cx="10.8" cy="18.7" r="2.0" fill="#cfcf90" fill-opacity="0.75"/><circle cx="24.6" cy="21.1" r="2.4" fill="#cfcf90" fill-opacity="0.75"/><circle cx="18.5" cy="26.1" r="2.4" fill="#cfcf90" fill-opacity="0.75"/><circle cx="17.0" cy="23.9" r="1.6" fill="#cfcf90" fill-opacity="0.75"/><circle cx="39.0" cy="8.0" r="1.15" fill="#86867a"/><circle cx="40.9" cy="20.5" r="1.15" fill="#86867a"/><circle cx="15.5" cy="45.5" r="1.15" fill="#86867a"/><circle cx="33.5" cy="49.4" r="1.15" fill="#86867a"/></svg>
<div class="hl" style="left:1278px;top:759px;width:59px;height:1px;background:#2d5a87"></div>
<svg style="left:1338px;top:700px;overflow:hidden" width="59" height="59" viewBox="0 0 59 59"><rect width="59" height="59" fill="url(#skyG)"/><g transform="translate(-4.5 3.0) scale(0.720 0.640)"><g fill="#7c8088" stroke="#7c8088" stroke-width="0.9"><path d="M0.2 13.6Q0.2 8.5 5.5 8.5H41.5Q46.8 8.5 46.8 13.6Q46.8 18 41 18.3Q23.5 19.7 6 18.3Q0.2 18 0.2 13.6Z"/><circle cx="23.5" cy="7" r="7"/><circle cx="12.5" cy="9.8" r="5.6"/><circle cx="34.5" cy="9.8" r="5.6"/><circle cx="6.2" cy="13" r="4.8"/><circle cx="40.8" cy="13" r="4.8"/></g><g fill="url(#cg)"><path d="M0.2 13.6Q0.2 8.5 5.5 8.5H41.5Q46.8 8.5 46.8 13.6Q46.8 18 41 18.3Q23.5 19.7 6 18.3Q0.2 18 0.2 13.6Z"/><circle cx="23.5" cy="7" r="7"/><circle cx="12.5" cy="9.8" r="5.6"/><circle cx="34.5" cy="9.8" r="5.6"/><circle cx="6.2" cy="13" r="4.8"/><circle cx="40.8" cy="13" r="4.8"/></g><path d="M5 16C7 11 11 10 14 12.5C16 9 21 9 23.5 12.5C26 9 31 9 33 12.5C36 10 40 11 42 16C30 19 17 19 5 16Z" fill="#4e545c" fill-opacity="0.24"/></g><g transform="translate(42.0 3.0) scale(0.640 0.680)"><g fill="#7c8088" stroke="#7c8088" stroke-width="0.9"><path d="M0.2 13.6Q0.2 8.5 5.5 8.5H41.5Q46.8 8.5 46.8 13.6Q46.8 18 41 18.3Q23.5 19.7 6 18.3Q0.2 18 0.2 13.6Z"/><circle cx="23.5" cy="7" r="7"/><circle cx="12.5" cy="9.8" r="5.6"/><circle cx="34.5" cy="9.8" r="5.6"/><circle cx="6.2" cy="13" r="4.8"/><circle cx="40.8" cy="13" r="4.8"/></g><g fill="url(#cg)"><path d="M0.2 13.6Q0.2 8.5 5.5 8.5H41.5Q46.8 8.5 46.8 13.6Q46.8 18 41 18.3Q23.5 19.7 6 18.3Q0.2 18 0.2 13.6Z"/><circle cx="23.5" cy="7" r="7"/><circle cx="12.5" cy="9.8" r="5.6"/><circle cx="34.5" cy="9.8" r="5.6"/><circle cx="6.2" cy="13" r="4.8"/><circle cx="40.8" cy="13" r="4.8"/></g><path d="M5 16C7 11 11 10 14 12.5C16 9 21 9 23.5 12.5C26 9 31 9 33 12.5C36 10 40 11 42 16C30 19 17 19 5 16Z" fill="#4e545c" fill-opacity="0.24"/></g><g transform="translate(-13.5 11.4) scale(0.850 0.970)"><g fill="#7c8088" stroke="#7c8088" stroke-width="0.9"><path d="M0.2 13.6Q0.2 8.5 5.5 8.5H41.5Q46.8 8.5 46.8 13.6Q46.8 18 41 18.3Q23.5 19.7 6 18.3Q0.2 18 0.2 13.6Z"/><circle cx="23.5" cy="7" r="7"/><circle cx="12.5" cy="9.8" r="5.6"/><circle cx="34.5" cy="9.8" r="5.6"/><circle cx="6.2" cy="13" r="4.8"/><circle cx="40.8" cy="13" r="4.8"/></g><g fill="url(#cg)"><path d="M0.2 13.6Q0.2 8.5 5.5 8.5H41.5Q46.8 8.5 46.8 13.6Q46.8 18 41 18.3Q23.5 19.7 6 18.3Q0.2 18 0.2 13.6Z"/><circle cx="23.5" cy="7" r="7"/><circle cx="12.5" cy="9.8" r="5.6"/><circle cx="34.5" cy="9.8" r="5.6"/><circle cx="6.2" cy="13" r="4.8"/><circle cx="40.8" cy="13" r="4.8"/></g><path d="M5 16C7 11 11 10 14 12.5C16 9 21 9 23.5 12.5C26 9 31 9 33 12.5C36 10 40 11 42 16C30 19 17 19 5 16Z" fill="#4e545c" fill-opacity="0.24"/></g><g transform="translate(18.0 7.6) scale(0.920 0.980)"><g fill="#7c8088" stroke="#7c8088" stroke-width="0.9"><path d="M0.2 13.6Q0.2 8.5 5.5 8.5H41.5Q46.8 8.5 46.8 13.6Q46.8 18 41 18.3Q23.5 19.7 6 18.3Q0.2 18 0.2 13.6Z"/><circle cx="23.5" cy="7" r="7"/><circle cx="12.5" cy="9.8" r="5.6"/><circle cx="34.5" cy="9.8" r="5.6"/><circle cx="6.2" cy="13" r="4.8"/><circle cx="40.8" cy="13" r="4.8"/></g><g fill="url(#cg)"><path d="M0.2 13.6Q0.2 8.5 5.5 8.5H41.5Q46.8 8.5 46.8 13.6Q46.8 18 41 18.3Q23.5 19.7 6 18.3Q0.2 18 0.2 13.6Z"/><circle cx="23.5" cy="7" r="7"/><circle cx="12.5" cy="9.8" r="5.6"/><circle cx="34.5" cy="9.8" r="5.6"/><circle cx="6.2" cy="13" r="4.8"/><circle cx="40.8" cy="13" r="4.8"/></g><path d="M5 16C7 11 11 10 14 12.5C16 9 21 9 23.5 12.5C26 9 31 9 33 12.5C36 10 40 11 42 16C30 19 17 19 5 16Z" fill="#4e545c" fill-opacity="0.24"/></g><g transform="translate(4.0 17.4) scale(1.000 1.000)"><g fill="#7c8088" stroke="#7c8088" stroke-width="0.9"><path d="M0.2 13.6Q0.2 8.5 5.5 8.5H41.5Q46.8 8.5 46.8 13.6Q46.8 18 41 18.3Q23.5 19.7 6 18.3Q0.2 18 0.2 13.6Z"/><circle cx="23.5" cy="7" r="7"/><circle cx="12.5" cy="9.8" r="5.6"/><circle cx="34.5" cy="9.8" r="5.6"/><circle cx="6.2" cy="13" r="4.8"/><circle cx="40.8" cy="13" r="4.8"/></g><g fill="url(#cg)"><path d="M0.2 13.6Q0.2 8.5 5.5 8.5H41.5Q46.8 8.5 46.8 13.6Q46.8 18 41 18.3Q23.5 19.7 6 18.3Q0.2 18 0.2 13.6Z"/><circle cx="23.5" cy="7" r="7"/><circle cx="12.5" cy="9.8" r="5.6"/><circle cx="34.5" cy="9.8" r="5.6"/><circle cx="6.2" cy="13" r="4.8"/><circle cx="40.8" cy="13" r="4.8"/></g><path d="M5 16C7 11 11 10 14 12.5C16 9 21 9 23.5 12.5C26 9 31 9 33 12.5C36 10 40 11 42 16C30 19 17 19 5 16Z" fill="#4e545c" fill-opacity="0.24"/></g></svg>
<div class="hl" style="left:1338px;top:759px;width:59px;height:1px;background:#2d5a87"></div>
<svg style="left:1398px;top:700px;overflow:hidden" width="59" height="59" viewBox="0 0 59 59"><rect width="59" height="59" fill="url(#skyD)"/><path d="M28.70 4.60L31.63 14.39L38.08 6.46L37.03 16.63L46.02 11.78L41.17 20.77L51.34 19.72L43.41 26.17L53.20 29.10L43.41 32.03L51.34 38.48L41.17 37.43L46.02 46.42L37.03 41.57L38.08 51.74L31.63 43.81L28.70 53.60L25.77 43.81L19.32 51.74L20.37 41.57L11.38 46.42L16.23 37.43L6.06 38.48L13.99 32.03L4.20 29.10L13.99 26.17L6.06 19.72L16.23 20.77L11.38 11.78L20.37 16.63L19.32 6.46L25.77 14.39Z" fill="#f2d94e" filter="url(#b1)"/><circle cx="28.7" cy="29.1" r="16.3" fill="#fff" filter="url(#b2)"/><circle cx="28.7" cy="29.1" r="14.5" fill="url(#sunG)"/><g transform="translate(24.3 20.8) scale(0.900 0.910)"><g fill="#7a7e86" stroke="#7a7e86" stroke-width="0.7"><circle cx="20.6" cy="7.0" r="6.6"/><circle cx="11.5" cy="12.5" r="6.2"/><circle cx="31.0" cy="11.5" r="6.6"/><circle cx="5.6" cy="19.5" r="5.6"/><circle cx="38.5" cy="18.0" r="6.5"/><path d="M0.2 21V26Q0.2 33 7 33H45V15L32 10H12L4 15Z"/></g><g fill="url(#pg0)"><circle cx="20.6" cy="7.0" r="6.6"/><circle cx="11.5" cy="12.5" r="6.2"/><circle cx="31.0" cy="11.5" r="6.6"/><circle cx="5.6" cy="19.5" r="5.6"/><circle cx="38.5" cy="18.0" r="6.5"/><path d="M0.2 21V26Q0.2 33 7 33H45V15L32 10H12L4 15Z"/></g><g fill="#7a7e86" stroke="#7a7e86" stroke-width="0.7"><circle cx="25.0" cy="17.5" r="6.0"/><circle cx="16.0" cy="22.5" r="7.0"/><circle cx="10.0" cy="27.6" r="5.6"/><path d="M4.4 28Q4.4 34 11 34H46V24H10Z"/></g><g fill="url(#pg1)"><circle cx="25.0" cy="17.5" r="6.0"/><circle cx="16.0" cy="22.5" r="7.0"/><circle cx="10.0" cy="27.6" r="5.6"/><path d="M4.4 28Q4.4 34 11 34H46V24H10Z"/></g><g fill="#7a7e86" stroke="#7a7e86" stroke-width="0.7"><circle cx="33.0" cy="23.5" r="6.0"/><circle cx="25.6" cy="28.4" r="5.2"/><circle cx="39.8" cy="27.5" r="6.5"/><path d="M20.4 29Q20.4 34 26 34H47V27H24Z"/></g><g fill="url(#pg2)"><circle cx="33.0" cy="23.5" r="6.0"/><circle cx="25.6" cy="28.4" r="5.2"/><circle cx="39.8" cy="27.5" r="6.5"/><path d="M20.4 29Q20.4 34 26 34H47V27H24Z"/></g></g></svg>
<div class="hl" style="left:1398px;top:759px;width:59px;height:1px;background:#2d5a87"></div>
<svg style="left:1458px;top:700px;overflow:hidden" width="59" height="59" viewBox="0 0 59 59"><rect width="59" height="59" fill="#0b0b12"/><circle cx="19.1" cy="21.4" r="15.1" fill="url(#moonG)"/><circle cx="18.2" cy="15.6" r="2.6" fill="#cfcf90" fill-opacity="0.75"/><circle cx="9.2" cy="17.8" r="2.1" fill="#cfcf90" fill-opacity="0.75"/><circle cx="24.0" cy="20.3" r="2.6" fill="#cfcf90" fill-opacity="0.75"/><circle cx="17.5" cy="25.7" r="2.6" fill="#cfcf90" fill-opacity="0.75"/><circle cx="15.9" cy="23.3" r="1.7" fill="#cfcf90" fill-opacity="0.75"/><g transform="translate(17.9 12.3) scale(1.000 1.000)"><g fill="#7a7e86" stroke="#7a7e86" stroke-width="0.7"><circle cx="20.6" cy="7.0" r="6.6"/><circle cx="11.5" cy="12.5" r="6.2"/><circle cx="31.0" cy="11.5" r="6.6"/><circle cx="5.6" cy="19.5" r="5.6"/><circle cx="38.5" cy="18.0" r="6.5"/><path d="M0.2 21V26Q0.2 33 7 33H45V15L32 10H12L4 15Z"/></g><g fill="url(#pg0)"><circle cx="20.6" cy="7.0" r="6.6"/><circle cx="11.5" cy="12.5" r="6.2"/><circle cx="31.0" cy="11.5" r="6.6"/><circle cx="5.6" cy="19.5" r="5.6"/><circle cx="38.5" cy="18.0" r="6.5"/><path d="M0.2 21V26Q0.2 33 7 33H45V15L32 10H12L4 15Z"/></g><g fill="#7a7e86" stroke="#7a7e86" stroke-width="0.7"><circle cx="25.0" cy="17.5" r="6.0"/><circle cx="16.0" cy="22.5" r="7.0"/><circle cx="10.0" cy="27.6" r="5.6"/><path d="M4.4 28Q4.4 34 11 34H46V24H10Z"/></g><g fill="url(#pg1)"><circle cx="25.0" cy="17.5" r="6.0"/><circle cx="16.0" cy="22.5" r="7.0"/><circle cx="10.0" cy="27.6" r="5.6"/><path d="M4.4 28Q4.4 34 11 34H46V24H10Z"/></g><g fill="#7a7e86" stroke="#7a7e86" stroke-width="0.7"><circle cx="33.0" cy="23.5" r="6.0"/><circle cx="25.6" cy="28.4" r="5.2"/><circle cx="39.8" cy="27.5" r="6.5"/><path d="M20.4 29Q20.4 34 26 34H47V27H24Z"/></g><g fill="url(#pg2)"><circle cx="33.0" cy="23.5" r="6.0"/><circle cx="25.6" cy="28.4" r="5.2"/><circle cx="39.8" cy="27.5" r="6.5"/><path d="M20.4 29Q20.4 34 26 34H47V27H24Z"/></g></g></svg>
<div class="hl" style="left:1458px;top:759px;width:59px;height:1px;background:#2d5a87"></div>
<svg style="left:1518px;top:700px;overflow:hidden" width="59" height="59" viewBox="0 0 59 59"><rect width="59" height="59" fill="#0b0b12"/><circle cx="19.1" cy="21.4" r="15.1" fill="url(#moonG)"/><circle cx="18.2" cy="15.6" r="2.6" fill="#cfcf90" fill-opacity="0.75"/><circle cx="9.2" cy="17.8" r="2.1" fill="#cfcf90" fill-opacity="0.75"/><circle cx="24.0" cy="20.3" r="2.6" fill="#cfcf90" fill-opacity="0.75"/><circle cx="17.5" cy="25.7" r="2.6" fill="#cfcf90" fill-opacity="0.75"/><circle cx="15.9" cy="23.3" r="1.7" fill="#cfcf90" fill-opacity="0.75"/><g transform="translate(17.9 12.3) scale(1.000 1.000)"><g fill="#7a7e86" stroke="#7a7e86" stroke-width="0.7"><circle cx="20.6" cy="7.0" r="6.6"/><circle cx="11.5" cy="12.5" r="6.2"/><circle cx="31.0" cy="11.5" r="6.6"/><circle cx="5.6" cy="19.5" r="5.6"/><circle cx="38.5" cy="18.0" r="6.5"/><path d="M0.2 21V26Q0.2 33 7 33H45V15L32 10H12L4 15Z"/></g><g fill="url(#pg0)"><circle cx="20.6" cy="7.0" r="6.6"/><circle cx="11.5" cy="12.5" r="6.2"/><circle cx="31.0" cy="11.5" r="6.6"/><circle cx="5.6" cy="19.5" r="5.6"/><circle cx="38.5" cy="18.0" r="6.5"/><path d="M0.2 21V26Q0.2 33 7 33H45V15L32 10H12L4 15Z"/></g><g fill="#7a7e86" stroke="#7a7e86" stroke-width="0.7"><circle cx="25.0" cy="17.5" r="6.0"/><circle cx="16.0" cy="22.5" r="7.0"/><circle cx="10.0" cy="27.6" r="5.6"/><path d="M4.4 28Q4.4 34 11 34H46V24H10Z"/></g><g fill="url(#pg1)"><circle cx="25.0" cy="17.5" r="6.0"/><circle cx="16.0" cy="22.5" r="7.0"/><circle cx="10.0" cy="27.6" r="5.6"/><path d="M4.4 28Q4.4 34 11 34H46V24H10Z"/></g><g fill="#7a7e86" stroke="#7a7e86" stroke-width="0.7"><circle cx="33.0" cy="23.5" r="6.0"/><circle cx="25.6" cy="28.4" r="5.2"/><circle cx="39.8" cy="27.5" r="6.5"/><path d="M20.4 29Q20.4 34 26 34H47V27H24Z"/></g><g fill="url(#pg2)"><circle cx="33.0" cy="23.5" r="6.0"/><circle cx="25.6" cy="28.4" r="5.2"/><circle cx="39.8" cy="27.5" r="6.5"/><path d="M20.4 29Q20.4 34 26 34H47V27H24Z"/></g></g></svg>
<div class="hl" style="left:1518px;top:759px;width:59px;height:1px;background:#2d5a87"></div>
<svg style="left:1578px;top:700px;overflow:hidden" width="59" height="59" viewBox="0 0 59 59"><rect width="59" height="59" fill="url(#skyD)"/><path d="M29.60 4.40L32.53 14.89L39.24 6.32L37.93 17.13L47.42 11.78L42.07 21.27L52.88 19.96L44.31 26.67L54.80 29.60L44.31 32.53L52.88 39.24L42.07 37.93L47.42 47.42L37.93 42.07L39.24 52.88L32.53 44.31L29.60 54.80L26.67 44.31L19.96 52.88L21.27 42.07L11.78 47.42L17.13 37.93L6.32 39.24L14.89 32.53L4.40 29.60L14.89 26.67L6.32 19.96L17.13 21.27L11.78 11.78L21.27 17.13L19.96 6.32L26.67 14.89Z" fill="#f0d648"/><path d="M33.42 10.38L35.42 15.56L40.49 13.30L40.35 18.85L45.90 18.71L43.64 23.78L48.82 25.78L44.80 29.60L48.82 33.42L43.64 35.42L45.90 40.49L40.35 40.35L40.49 45.90L35.42 43.64L33.42 48.82L29.60 44.80L25.78 48.82L23.78 43.64L18.71 45.90L18.85 40.35L13.30 40.49L15.56 35.42L10.38 33.42L14.40 29.60L10.38 25.78L15.56 23.78L13.30 18.71L18.85 18.85L18.71 13.30L23.78 15.56L25.78 10.38L29.60 14.40Z" fill="#fff"/><circle cx="29.6" cy="29.6" r="14.9" fill="url(#sunG)"/></svg>
<div class="hl" style="left:1578px;top:759px;width:59px;height:1px;background:#2d5a87"></div>
<svg style="left:1638px;top:700px;overflow:hidden" width="59" height="59" viewBox="0 0 59 59"><rect width="59" height="59" fill="url(#skyD)"/><path d="M29.60 4.40L32.53 14.89L39.24 6.32L37.93 17.13L47.42 11.78L42.07 21.27L52.88 19.96L44.31 26.67L54.80 29.60L44.31 32.53L52.88 39.24L42.07 37.93L47.42 47.42L37.93 42.07L39.24 52.88L32.53 44.31L29.60 54.80L26.67 44.31L19.96 52.88L21.27 42.07L11.78 47.42L17.13 37.93L6.32 39.24L14.89 32.53L4.40 29.60L14.89 26.67L6.32 19.96L17.13 21.27L11.78 11.78L21.27 17.13L19.96 6.32L26.67 14.89Z" fill="#f0d648"/><path d="M33.42 10.38L35.42 15.56L40.49 13.30L40.35 18.85L45.90 18.71L43.64 23.78L48.82 25.78L44.80 29.60L48.82 33.42L43.64 35.42L45.90 40.49L40.35 40.35L40.49 45.90L35.42 43.64L33.42 48.82L29.60 44.80L25.78 48.82L23.78 43.64L18.71 45.90L18.85 40.35L13.30 40.49L15.56 35.42L10.38 33.42L14.40 29.60L10.38 25.78L15.56 23.78L13.30 18.71L18.85 18.85L18.71 13.30L23.78 15.56L25.78 10.38L29.60 14.40Z" fill="#fff"/><circle cx="29.6" cy="29.6" r="14.9" fill="url(#sunG)"/></svg>
<div class="hl" style="left:1638px;top:759px;width:59px;height:1px;background:#2d5a87"></div>
<svg style="left:1698px;top:700px;overflow:hidden" width="59" height="59" viewBox="0 0 59 59"><rect width="59" height="59" fill="#0b0b12"/><g transform="translate(-4.5 3.0) scale(0.720 0.640)"><g fill="#7c8088" stroke="#7c8088" stroke-width="0.9"><path d="M0.2 13.6Q0.2 8.5 5.5 8.5H41.5Q46.8 8.5 46.8 13.6Q46.8 18 41 18.3Q23.5 19.7 6 18.3Q0.2 18 0.2 13.6Z"/><circle cx="23.5" cy="7" r="7"/><circle cx="12.5" cy="9.8" r="5.6"/><circle cx="34.5" cy="9.8" r="5.6"/><circle cx="6.2" cy="13" r="4.8"/><circle cx="40.8" cy="13" r="4.8"/></g><g fill="url(#cg)"><path d="M0.2 13.6Q0.2 8.5 5.5 8.5H41.5Q46.8 8.5 46.8 13.6Q46.8 18 41 18.3Q23.5 19.7 6 18.3Q0.2 18 0.2 13.6Z"/><circle cx="23.5" cy="7" r="7"/><circle cx="12.5" cy="9.8" r="5.6"/><circle cx="34.5" cy="9.8" r="5.6"/><circle cx="6.2" cy="13" r="4.8"/><circle cx="40.8" cy="13" r="4.8"/></g><path d="M5 16C7 11 11 10 14 12.5C16 9 21 9 23.5 12.5C26 9 31 9 33 12.5C36 10 40 11 42 16C30 19 17 19 5 16Z" fill="#4e545c" fill-opacity="0.24"/></g><g transform="translate(42.0 3.0) scale(0.640 0.680)"><g fill="#7c8088" stroke="#7c8088" stroke-width="0.9"><path d="M0.2 13.6Q0.2 8.5 5.5 8.5H41.5Q46.8 8.5 46.8 13.6Q46.8 18 41 18.3Q23.5 19.7 6 18.3Q0.2 18 0.2 13.6Z"/><circle cx="23.5" cy="7" r="7"/><circle cx="12.5" cy="9.8" r="5.6"/><circle cx="34.5" cy="9.8" r="5.6"/><circle cx="6.2" cy="13" r="4.8"/><circle cx="40.8" cy="13" r="4.8"/></g><g fill="url(#cg)"><path d="M0.2 13.6Q0.2 8.5 5.5 8.5H41.5Q46.8 8.5 46.8 13.6Q46.8 18 41 18.3Q23.5 19.7 6 18.3Q0.2 18 0.2 13.6Z"/><circle cx="23.5" cy="7" r="7"/><circle cx="12.5" cy="9.8" r="5.6"/><circle cx="34.5" cy="9.8" r="5.6"/><circle cx="6.2" cy="13" r="4.8"/><circle cx="40.8" cy="13" r="4.8"/></g><path d="M5 16C7 11 11 10 14 12.5C16 9 21 9 23.5 12.5C26 9 31 9 33 12.5C36 10 40 11 42 16C30 19 17 19 5 16Z" fill="#4e545c" fill-opacity="0.24"/></g><g transform="translate(-13.5 11.4) scale(0.850 0.970)"><g fill="#7c8088" stroke="#7c8088" stroke-width="0.9"><path d="M0.2 13.6Q0.2 8.5 5.5 8.5H41.5Q46.8 8.5 46.8 13.6Q46.8 18 41 18.3Q23.5 19.7 6 18.3Q0.2 18 0.2 13.6Z"/><circle cx="23.5" cy="7" r="7"/><circle cx="12.5" cy="9.8" r="5.6"/><circle cx="34.5" cy="9.8" r="5.6"/><circle cx="6.2" cy="13" r="4.8"/><circle cx="40.8" cy="13" r="4.8"/></g><g fill="url(#cg)"><path d="M0.2 13.6Q0.2 8.5 5.5 8.5H41.5Q46.8 8.5 46.8 13.6Q46.8 18 41 18.3Q23.5 19.7 6 18.3Q0.2 18 0.2 13.6Z"/><circle cx="23.5" cy="7" r="7"/><circle cx="12.5" cy="9.8" r="5.6"/><circle cx="34.5" cy="9.8" r="5.6"/><circle cx="6.2" cy="13" r="4.8"/><circle cx="40.8" cy="13" r="4.8"/></g><path d="M5 16C7 11 11 10 14 12.5C16 9 21 9 23.5 12.5C26 9 31 9 33 12.5C36 10 40 11 42 16C30 19 17 19 5 16Z" fill="#4e545c" fill-opacity="0.24"/></g><g transform="translate(18.0 7.6) scale(0.920 0.980)"><g fill="#7c8088" stroke="#7c8088" stroke-width="0.9"><path d="M0.2 13.6Q0.2 8.5 5.5 8.5H41.5Q46.8 8.5 46.8 13.6Q46.8 18 41 18.3Q23.5 19.7 6 18.3Q0.2 18 0.2 13.6Z"/><circle cx="23.5" cy="7" r="7"/><circle cx="12.5" cy="9.8" r="5.6"/><circle cx="34.5" cy="9.8" r="5.6"/><circle cx="6.2" cy="13" r="4.8"/><circle cx="40.8" cy="13" r="4.8"/></g><g fill="url(#cg)"><path d="M0.2 13.6Q0.2 8.5 5.5 8.5H41.5Q46.8 8.5 46.8 13.6Q46.8 18 41 18.3Q23.5 19.7 6 18.3Q0.2 18 0.2 13.6Z"/><circle cx="23.5" cy="7" r="7"/><circle cx="12.5" cy="9.8" r="5.6"/><circle cx="34.5" cy="9.8" r="5.6"/><circle cx="6.2" cy="13" r="4.8"/><circle cx="40.8" cy="13" r="4.8"/></g><path d="M5 16C7 11 11 10 14 12.5C16 9 21 9 23.5 12.5C26 9 31 9 33 12.5C36 10 40 11 42 16C30 19 17 19 5 16Z" fill="#4e545c" fill-opacity="0.24"/></g><g transform="translate(4.0 17.4) scale(1.000 1.000)"><g fill="#7c8088" stroke="#7c8088" stroke-width="0.9"><path d="M0.2 13.6Q0.2 8.5 5.5 8.5H41.5Q46.8 8.5 46.8 13.6Q46.8 18 41 18.3Q23.5 19.7 6 18.3Q0.2 18 0.2 13.6Z"/><circle cx="23.5" cy="7" r="7"/><circle cx="12.5" cy="9.8" r="5.6"/><circle cx="34.5" cy="9.8" r="5.6"/><circle cx="6.2" cy="13" r="4.8"/><circle cx="40.8" cy="13" r="4.8"/></g><g fill="url(#cg)"><path d="M0.2 13.6Q0.2 8.5 5.5 8.5H41.5Q46.8 8.5 46.8 13.6Q46.8 18 41 18.3Q23.5 19.7 6 18.3Q0.2 18 0.2 13.6Z"/><circle cx="23.5" cy="7" r="7"/><circle cx="12.5" cy="9.8" r="5.6"/><circle cx="34.5" cy="9.8" r="5.6"/><circle cx="6.2" cy="13" r="4.8"/><circle cx="40.8" cy="13" r="4.8"/></g><path d="M5 16C7 11 11 10 14 12.5C16 9 21 9 23.5 12.5C26 9 31 9 33 12.5C36 10 40 11 42 16C30 19 17 19 5 16Z" fill="#4e545c" fill-opacity="0.24"/></g></svg>
<div class="hl" style="left:1698px;top:759px;width:59px;height:1px;background:#2d5a87"></div>
<div class="abs" style="left:70px;top:760px;width:1682px;height:27px;overflow:hidden">
<div class="wm" style="left:-45.0px;top:4.0px;color:rgba(195,195,195,0.26)">Powered by Tide-Forecast.com</div><svg class="abs" style="left:182.0px;top:6.2px" width="54" height="16" viewBox="0 0 54 16"><g fill="rgba(195,195,195,0.26)"><rect x="0" y="0" width="15.6" height="15.4" rx="1"/><rect x="18.5" y="0" width="15.6" height="15.4" rx="1"/><rect x="37.3" y="0" width="15.6" height="15.4" rx="1"/></g><g fill="none" stroke="#f6f6f6" stroke-opacity="0.8" stroke-width="1.2"><path d="M1.5 13.5C3.5 13.5 3.3 2 5.3 2S7.2 13.5 9.2 13.5S11 2 13 2L14.3 6"/><path d="M22 5h7.5v6m-2.6-2.4l2.6 2.6l2.6-2.6"/></g><path d="M42.3 13L45.1 2.5L47.9 13Z" fill="#f6f6f6" fill-opacity="0.8"/></svg>
<div class="wm" style="left:295.0px;top:4.0px;color:rgba(195,195,195,0.26)">Powered by Tide-Forecast.com</div><svg class="abs" style="left:522.0px;top:6.2px" width="54" height="16" viewBox="0 0 54 16"><g fill="rgba(195,195,195,0.26)"><rect x="0" y="0" width="15.6" height="15.4" rx="1"/><rect x="18.5" y="0" width="15.6" height="15.4" rx="1"/><rect x="37.3" y="0" width="15.6" height="15.4" rx="1"/></g><g fill="none" stroke="#f6f6f6" stroke-opacity="0.8" stroke-width="1.2"><path d="M1.5 13.5C3.5 13.5 3.3 2 5.3 2S7.2 13.5 9.2 13.5S11 2 13 2L14.3 6"/><path d="M22 5h7.5v6m-2.6-2.4l2.6 2.6l2.6-2.6"/></g><path d="M42.3 13L45.1 2.5L47.9 13Z" fill="#f6f6f6" fill-opacity="0.8"/></svg>
<div class="wm" style="left:635.0px;top:4.0px;color:rgba(195,195,195,0.26)">Powered by Tide-Forecast.com</div><svg class="abs" style="left:862.0px;top:6.2px" width="54" height="16" viewBox="0 0 54 16"><g fill="rgba(195,195,195,0.26)"><rect x="0" y="0" width="15.6" height="15.4" rx="1"/><rect x="18.5" y="0" width="15.6" height="15.4" rx="1"/><rect x="37.3" y="0" width="15.6" height="15.4" rx="1"/></g><g fill="none" stroke="#f6f6f6" stroke-opacity="0.8" stroke-width="1.2"><path d="M1.5 13.5C3.5 13.5 3.3 2 5.3 2S7.2 13.5 9.2 13.5S11 2 13 2L14.3 6"/><path d="M22 5h7.5v6m-2.6-2.4l2.6 2.6l2.6-2.6"/></g><path d="M42.3 13L45.1 2.5L47.9 13Z" fill="#f6f6f6" fill-opacity="0.8"/></svg>
<div class="wm" style="left:975.0px;top:4.0px;color:rgba(195,195,195,0.26)">Powered by Tide-Forecast.com</div><svg class="abs" style="left:1202.0px;top:6.2px" width="54" height="16" viewBox="0 0 54 16"><g fill="rgba(195,195,195,0.26)"><rect x="0" y="0" width="15.6" height="15.4" rx="1"/><rect x="18.5" y="0" width="15.6" height="15.4" rx="1"/><rect x="37.3" y="0" width="15.6" height="15.4" rx="1"/></g><g fill="none" stroke="#f6f6f6" stroke-opacity="0.8" stroke-width="1.2"><path d="M1.5 13.5C3.5 13.5 3.3 2 5.3 2S7.2 13.5 9.2 13.5S11 2 13 2L14.3 6"/><path d="M22 5h7.5v6m-2.6-2.4l2.6 2.6l2.6-2.6"/></g><path d="M42.3 13L45.1 2.5L47.9 13Z" fill="#f6f6f6" fill-opacity="0.8"/></svg>
<div class="wm" style="left:1315.0px;top:4.0px;color:rgba(195,195,195,0.26)">Powered by Tide-Forecast.com</div><svg class="abs" style="left:1542.0px;top:6.2px" width="54" height="16" viewBox="0 0 54 16"><g fill="rgba(195,195,195,0.26)"><rect x="0" y="0" width="15.6" height="15.4" rx="1"/><rect x="18.5" y="0" width="15.6" height="15.4" rx="1"/><rect x="37.3" y="0" width="15.6" height="15.4" rx="1"/></g><g fill="none" stroke="#f6f6f6" stroke-opacity="0.8" stroke-width="1.2"><path d="M1.5 13.5C3.5 13.5 3.3 2 5.3 2S7.2 13.5 9.2 13.5S11 2 13 2L14.3 6"/><path d="M22 5h7.5v6m-2.6-2.4l2.6 2.6l2.6-2.6"/></g><path d="M42.3 13L45.1 2.5L47.9 13Z" fill="#f6f6f6" fill-opacity="0.8"/></svg>
<div class="wm" style="left:1655.0px;top:4.0px;color:rgba(195,195,195,0.26)">Powered by Tide-Forecast.com</div><svg class="abs" style="left:1882.0px;top:6.2px" width="54" height="16" viewBox="0 0 54 16"><g fill="rgba(195,195,195,0.26)"><rect x="0" y="0" width="15.6" height="15.4" rx="1"/><rect x="18.5" y="0" width="15.6" height="15.4" rx="1"/><rect x="37.3" y="0" width="15.6" height="15.4" rx="1"/></g><g fill="none" stroke="#f6f6f6" stroke-opacity="0.8" stroke-width="1.2"><path d="M1.5 13.5C3.5 13.5 3.3 2 5.3 2S7.2 13.5 9.2 13.5S11 2 13 2L14.3 6"/><path d="M22 5h7.5v6m-2.6-2.4l2.6 2.6l2.6-2.6"/></g><path d="M42.3 13L45.1 2.5L47.9 13Z" fill="#f6f6f6" fill-opacity="0.8"/></svg>
</div>
</div></body></html>
